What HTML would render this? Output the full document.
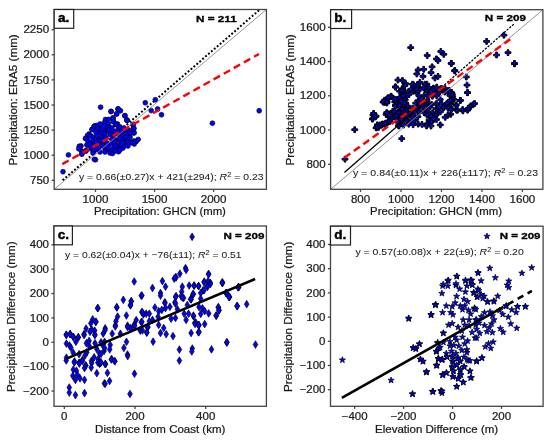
<!DOCTYPE html>
<html><head><meta charset="utf-8"><style>
html,body{margin:0;padding:0;background:#fff;}
body{width:550px;height:442px;overflow:hidden;position:relative;font-family:"Liberation Sans", sans-serif;}
</style></head><body>
<svg width="550" height="442" viewBox="0 0 550 442" style="position:absolute;left:0;top:0;filter:blur(0.35px)">
<g font-family='"Liberation Sans", sans-serif'>
<line x1="62.6" y1="180.3" x2="259.5" y2="9.9" stroke="#000" stroke-width="2.0" stroke-dasharray="1.9 1.95"/>
<circle cx="212.4" cy="123.2" r="2.45" fill="#0000ff" stroke="#000" stroke-width="0.6"/>
<circle cx="259.2" cy="110.8" r="2.45" fill="#0000ff" stroke="#000" stroke-width="0.6"/>
<circle cx="63" cy="171.7" r="2.45" fill="#0000ff" stroke="#000" stroke-width="0.6"/>
<circle cx="68.4" cy="154.9" r="2.45" fill="#0000ff" stroke="#000" stroke-width="0.6"/>
<circle cx="145.3" cy="102.8" r="2.45" fill="#0000ff" stroke="#000" stroke-width="0.6"/>
<circle cx="155.3" cy="99.8" r="2.45" fill="#0000ff" stroke="#000" stroke-width="0.6"/>
<circle cx="151.2" cy="110.6" r="2.45" fill="#0000ff" stroke="#000" stroke-width="0.6"/>
<circle cx="157.6" cy="109" r="2.45" fill="#0000ff" stroke="#000" stroke-width="0.6"/>
<circle cx="161.5" cy="114.8" r="2.45" fill="#0000ff" stroke="#000" stroke-width="0.6"/>
<circle cx="100.6" cy="107.2" r="2.45" fill="#0000ff" stroke="#000" stroke-width="0.6"/>
<circle cx="111" cy="111.5" r="2.45" fill="#0000ff" stroke="#000" stroke-width="0.6"/>
<circle cx="118" cy="109" r="2.45" fill="#0000ff" stroke="#000" stroke-width="0.6"/>
<circle cx="120.5" cy="110.8" r="2.45" fill="#0000ff" stroke="#000" stroke-width="0.6"/>
<circle cx="116.8" cy="113.8" r="2.45" fill="#0000ff" stroke="#000" stroke-width="0.6"/>
<circle cx="124.8" cy="115.8" r="2.45" fill="#0000ff" stroke="#000" stroke-width="0.6"/>
<circle cx="127" cy="120.2" r="2.45" fill="#0000ff" stroke="#000" stroke-width="0.6"/>
<circle cx="113" cy="118.2" r="2.45" fill="#0000ff" stroke="#000" stroke-width="0.6"/>
<circle cx="105.5" cy="119.5" r="2.45" fill="#0000ff" stroke="#000" stroke-width="0.6"/>
<circle cx="108.5" cy="119.5" r="2.45" fill="#0000ff" stroke="#000" stroke-width="0.6"/>
<circle cx="104.5" cy="122.5" r="2.45" fill="#0000ff" stroke="#000" stroke-width="0.6"/>
<circle cx="113.5" cy="121.5" r="2.45" fill="#0000ff" stroke="#000" stroke-width="0.6"/>
<circle cx="108.5" cy="124" r="2.45" fill="#0000ff" stroke="#000" stroke-width="0.6"/>
<circle cx="115.5" cy="124.5" r="2.45" fill="#0000ff" stroke="#000" stroke-width="0.6"/>
<circle cx="117.5" cy="124" r="2.45" fill="#0000ff" stroke="#000" stroke-width="0.6"/>
<circle cx="94.5" cy="126" r="2.45" fill="#0000ff" stroke="#000" stroke-width="0.6"/>
<circle cx="96.5" cy="125.5" r="2.45" fill="#0000ff" stroke="#000" stroke-width="0.6"/>
<circle cx="92" cy="129.5" r="2.45" fill="#0000ff" stroke="#000" stroke-width="0.6"/>
<circle cx="98" cy="128.5" r="2.45" fill="#0000ff" stroke="#000" stroke-width="0.6"/>
<circle cx="102.5" cy="128" r="2.45" fill="#0000ff" stroke="#000" stroke-width="0.6"/>
<circle cx="106.5" cy="127" r="2.45" fill="#0000ff" stroke="#000" stroke-width="0.6"/>
<circle cx="109.5" cy="127.5" r="2.45" fill="#0000ff" stroke="#000" stroke-width="0.6"/>
<circle cx="108" cy="130" r="2.45" fill="#0000ff" stroke="#000" stroke-width="0.6"/>
<circle cx="114" cy="131.5" r="2.45" fill="#0000ff" stroke="#000" stroke-width="0.6"/>
<circle cx="118" cy="129.5" r="2.45" fill="#0000ff" stroke="#000" stroke-width="0.6"/>
<circle cx="96.5" cy="132" r="2.45" fill="#0000ff" stroke="#000" stroke-width="0.6"/>
<circle cx="101" cy="131.5" r="2.45" fill="#0000ff" stroke="#000" stroke-width="0.6"/>
<circle cx="105" cy="132" r="2.45" fill="#0000ff" stroke="#000" stroke-width="0.6"/>
<circle cx="89" cy="134" r="2.45" fill="#0000ff" stroke="#000" stroke-width="0.6"/>
<circle cx="133" cy="125" r="2.45" fill="#0000ff" stroke="#000" stroke-width="0.6"/>
<circle cx="133" cy="129" r="2.45" fill="#0000ff" stroke="#000" stroke-width="0.6"/>
<circle cx="124" cy="133.5" r="2.45" fill="#0000ff" stroke="#000" stroke-width="0.6"/>
<circle cx="127" cy="133.5" r="2.45" fill="#0000ff" stroke="#000" stroke-width="0.6"/>
<circle cx="111.5" cy="134" r="2.45" fill="#0000ff" stroke="#000" stroke-width="0.6"/>
<circle cx="94" cy="126.5" r="2.45" fill="#0000ff" stroke="#000" stroke-width="0.6"/>
<circle cx="97.5" cy="129" r="2.45" fill="#0000ff" stroke="#000" stroke-width="0.6"/>
<circle cx="102.5" cy="128.5" r="2.45" fill="#0000ff" stroke="#000" stroke-width="0.6"/>
<circle cx="107.5" cy="127" r="2.45" fill="#0000ff" stroke="#000" stroke-width="0.6"/>
<circle cx="109" cy="130" r="2.45" fill="#0000ff" stroke="#000" stroke-width="0.6"/>
<circle cx="96" cy="132.5" r="2.45" fill="#0000ff" stroke="#000" stroke-width="0.6"/>
<circle cx="101" cy="133" r="2.45" fill="#0000ff" stroke="#000" stroke-width="0.6"/>
<circle cx="105" cy="134" r="2.45" fill="#0000ff" stroke="#000" stroke-width="0.6"/>
<circle cx="110" cy="134.5" r="2.45" fill="#0000ff" stroke="#000" stroke-width="0.6"/>
<circle cx="87.5" cy="135.5" r="2.45" fill="#0000ff" stroke="#000" stroke-width="0.6"/>
<circle cx="91" cy="136" r="2.45" fill="#0000ff" stroke="#000" stroke-width="0.6"/>
<circle cx="85.5" cy="138.5" r="2.45" fill="#0000ff" stroke="#000" stroke-width="0.6"/>
<circle cx="93" cy="137.5" r="2.45" fill="#0000ff" stroke="#000" stroke-width="0.6"/>
<circle cx="98" cy="139" r="2.45" fill="#0000ff" stroke="#000" stroke-width="0.6"/>
<circle cx="102" cy="137" r="2.45" fill="#0000ff" stroke="#000" stroke-width="0.6"/>
<circle cx="106" cy="138" r="2.45" fill="#0000ff" stroke="#000" stroke-width="0.6"/>
<circle cx="113" cy="137" r="2.45" fill="#0000ff" stroke="#000" stroke-width="0.6"/>
<circle cx="116" cy="140" r="2.45" fill="#0000ff" stroke="#000" stroke-width="0.6"/>
<circle cx="122" cy="135" r="2.45" fill="#0000ff" stroke="#000" stroke-width="0.6"/>
<circle cx="124" cy="133" r="2.45" fill="#0000ff" stroke="#000" stroke-width="0.6"/>
<circle cx="125" cy="138" r="2.45" fill="#0000ff" stroke="#000" stroke-width="0.6"/>
<circle cx="130" cy="137" r="2.45" fill="#0000ff" stroke="#000" stroke-width="0.6"/>
<circle cx="133.5" cy="133" r="2.45" fill="#0000ff" stroke="#000" stroke-width="0.6"/>
<circle cx="122.5" cy="140" r="2.45" fill="#0000ff" stroke="#000" stroke-width="0.6"/>
<circle cx="127" cy="141.5" r="2.45" fill="#0000ff" stroke="#000" stroke-width="0.6"/>
<circle cx="131.5" cy="142.5" r="2.45" fill="#0000ff" stroke="#000" stroke-width="0.6"/>
<circle cx="134" cy="141" r="2.45" fill="#0000ff" stroke="#000" stroke-width="0.6"/>
<circle cx="81" cy="146" r="2.45" fill="#0000ff" stroke="#000" stroke-width="0.6"/>
<circle cx="87" cy="145" r="2.45" fill="#0000ff" stroke="#000" stroke-width="0.6"/>
<circle cx="92" cy="143" r="2.45" fill="#0000ff" stroke="#000" stroke-width="0.6"/>
<circle cx="95" cy="145" r="2.45" fill="#0000ff" stroke="#000" stroke-width="0.6"/>
<circle cx="100" cy="144" r="2.45" fill="#0000ff" stroke="#000" stroke-width="0.6"/>
<circle cx="104" cy="142" r="2.45" fill="#0000ff" stroke="#000" stroke-width="0.6"/>
<circle cx="111" cy="144" r="2.45" fill="#0000ff" stroke="#000" stroke-width="0.6"/>
<circle cx="117" cy="145" r="2.45" fill="#0000ff" stroke="#000" stroke-width="0.6"/>
<circle cx="121" cy="146.5" r="2.45" fill="#0000ff" stroke="#000" stroke-width="0.6"/>
<circle cx="123" cy="148" r="2.45" fill="#0000ff" stroke="#000" stroke-width="0.6"/>
<circle cx="118" cy="148.5" r="2.45" fill="#0000ff" stroke="#000" stroke-width="0.6"/>
<circle cx="82" cy="151.5" r="2.45" fill="#0000ff" stroke="#000" stroke-width="0.6"/>
<circle cx="86" cy="150.5" r="2.45" fill="#0000ff" stroke="#000" stroke-width="0.6"/>
<circle cx="91" cy="149" r="2.45" fill="#0000ff" stroke="#000" stroke-width="0.6"/>
<circle cx="96" cy="149.5" r="2.45" fill="#0000ff" stroke="#000" stroke-width="0.6"/>
<circle cx="100" cy="152" r="2.45" fill="#0000ff" stroke="#000" stroke-width="0.6"/>
<circle cx="105" cy="149" r="2.45" fill="#0000ff" stroke="#000" stroke-width="0.6"/>
<circle cx="109" cy="150" r="2.45" fill="#0000ff" stroke="#000" stroke-width="0.6"/>
<circle cx="113" cy="149" r="2.45" fill="#0000ff" stroke="#000" stroke-width="0.6"/>
<circle cx="110" cy="153" r="2.45" fill="#0000ff" stroke="#000" stroke-width="0.6"/>
<circle cx="112.5" cy="153.5" r="2.45" fill="#0000ff" stroke="#000" stroke-width="0.6"/>
<circle cx="118.5" cy="151.8" r="2.45" fill="#0000ff" stroke="#000" stroke-width="0.6"/>
<circle cx="93" cy="153" r="2.45" fill="#0000ff" stroke="#000" stroke-width="0.6"/>
<circle cx="82" cy="154" r="2.45" fill="#0000ff" stroke="#000" stroke-width="0.6"/>
<circle cx="95.5" cy="159.8" r="2.45" fill="#0000ff" stroke="#000" stroke-width="0.6"/>
<circle cx="80" cy="149" r="2.45" fill="#0000ff" stroke="#000" stroke-width="0.6"/>
<circle cx="79.3" cy="146.3" r="2.45" fill="#0000ff" stroke="#000" stroke-width="0.6"/>
<circle cx="78.7" cy="148.7" r="2.45" fill="#0000ff" stroke="#000" stroke-width="0.6"/>
<circle cx="81.7" cy="154" r="2.45" fill="#0000ff" stroke="#000" stroke-width="0.6"/>
<circle cx="85.8" cy="138.6" r="2.45" fill="#0000ff" stroke="#000" stroke-width="0.6"/>
<circle cx="89.8" cy="135.9" r="2.45" fill="#0000ff" stroke="#000" stroke-width="0.6"/>
<circle cx="92.1" cy="129.5" r="2.45" fill="#0000ff" stroke="#000" stroke-width="0.6"/>
<circle cx="87.1" cy="144.9" r="2.45" fill="#0000ff" stroke="#000" stroke-width="0.6"/>
<circle cx="91.2" cy="147.2" r="2.45" fill="#0000ff" stroke="#000" stroke-width="0.6"/>
<circle cx="93" cy="140.8" r="2.45" fill="#0000ff" stroke="#000" stroke-width="0.6"/>
<circle cx="85.8" cy="151.2" r="2.45" fill="#0000ff" stroke="#000" stroke-width="0.6"/>
<circle cx="94.4" cy="159.4" r="2.45" fill="#0000ff" stroke="#000" stroke-width="0.6"/>
<circle cx="127" cy="120.1" r="2.45" fill="#0000ff" stroke="#000" stroke-width="0.6"/>
<circle cx="133.7" cy="128.7" r="2.45" fill="#0000ff" stroke="#000" stroke-width="0.6"/>
<circle cx="134.2" cy="132.8" r="2.45" fill="#0000ff" stroke="#000" stroke-width="0.6"/>
<circle cx="126.5" cy="133.8" r="2.45" fill="#0000ff" stroke="#000" stroke-width="0.6"/>
<circle cx="129.6" cy="137.4" r="2.45" fill="#0000ff" stroke="#000" stroke-width="0.6"/>
<circle cx="126" cy="137" r="2.45" fill="#0000ff" stroke="#000" stroke-width="0.6"/>
<circle cx="138.2" cy="139.4" r="2.45" fill="#0000ff" stroke="#000" stroke-width="0.6"/>
<circle cx="136.2" cy="141.5" r="2.45" fill="#0000ff" stroke="#000" stroke-width="0.6"/>
<circle cx="131.1" cy="142.5" r="2.45" fill="#0000ff" stroke="#000" stroke-width="0.6"/>
<circle cx="134.2" cy="144" r="2.45" fill="#0000ff" stroke="#000" stroke-width="0.6"/>
<circle cx="127.5" cy="142.5" r="2.45" fill="#0000ff" stroke="#000" stroke-width="0.6"/>
<circle cx="125" cy="145.5" r="2.45" fill="#0000ff" stroke="#000" stroke-width="0.6"/>
<circle cx="111.1" cy="111.4" r="2.45" fill="#0000ff" stroke="#000" stroke-width="0.6"/>
<circle cx="118.2" cy="108.9" r="2.45" fill="#0000ff" stroke="#000" stroke-width="0.6"/>
<circle cx="116.5" cy="114.1" r="2.45" fill="#0000ff" stroke="#000" stroke-width="0.6"/>
<circle cx="113" cy="117.9" r="2.45" fill="#0000ff" stroke="#000" stroke-width="0.6"/>
<circle cx="125" cy="115.7" r="2.45" fill="#0000ff" stroke="#000" stroke-width="0.6"/>
<circle cx="127" cy="120.2" r="2.45" fill="#0000ff" stroke="#000" stroke-width="0.6"/>
<circle cx="113.4" cy="121.6" r="2.45" fill="#0000ff" stroke="#000" stroke-width="0.6"/>
<circle cx="116.1" cy="124.3" r="2.45" fill="#0000ff" stroke="#000" stroke-width="0.6"/>
<circle cx="133.2" cy="124.3" r="2.45" fill="#0000ff" stroke="#000" stroke-width="0.6"/>
<circle cx="133.9" cy="128.4" r="2.45" fill="#0000ff" stroke="#000" stroke-width="0.6"/>
<circle cx="99" cy="141" r="2.45" fill="#0000ff" stroke="#000" stroke-width="0.6"/>
<circle cx="103" cy="146" r="2.45" fill="#0000ff" stroke="#000" stroke-width="0.6"/>
<circle cx="107" cy="143" r="2.45" fill="#0000ff" stroke="#000" stroke-width="0.6"/>
<circle cx="114" cy="141" r="2.45" fill="#0000ff" stroke="#000" stroke-width="0.6"/>
<circle cx="120" cy="141" r="2.45" fill="#0000ff" stroke="#000" stroke-width="0.6"/>
<circle cx="97" cy="136" r="2.45" fill="#0000ff" stroke="#000" stroke-width="0.6"/>
<circle cx="103" cy="140" r="2.45" fill="#0000ff" stroke="#000" stroke-width="0.6"/>
<circle cx="108" cy="147" r="2.45" fill="#0000ff" stroke="#000" stroke-width="0.6"/>
<circle cx="115" cy="146" r="2.45" fill="#0000ff" stroke="#000" stroke-width="0.6"/>
<circle cx="120" cy="138" r="2.45" fill="#0000ff" stroke="#000" stroke-width="0.6"/>
<circle cx="112" cy="139" r="2.45" fill="#0000ff" stroke="#000" stroke-width="0.6"/>
<circle cx="88" cy="141" r="2.45" fill="#0000ff" stroke="#000" stroke-width="0.6"/>
<circle cx="90" cy="144" r="2.45" fill="#0000ff" stroke="#000" stroke-width="0.6"/>
<circle cx="96" cy="142" r="2.45" fill="#0000ff" stroke="#000" stroke-width="0.6"/>
<circle cx="99" cy="147" r="2.45" fill="#0000ff" stroke="#000" stroke-width="0.6"/>
<circle cx="105" cy="152" r="2.45" fill="#0000ff" stroke="#000" stroke-width="0.6"/>
<circle cx="115" cy="151" r="2.45" fill="#0000ff" stroke="#000" stroke-width="0.6"/>
<circle cx="120" cy="150" r="2.45" fill="#0000ff" stroke="#000" stroke-width="0.6"/>
<circle cx="122" cy="143" r="2.45" fill="#0000ff" stroke="#000" stroke-width="0.6"/>
<circle cx="128" cy="146" r="2.45" fill="#0000ff" stroke="#000" stroke-width="0.6"/>
<circle cx="117" cy="134" r="2.45" fill="#0000ff" stroke="#000" stroke-width="0.6"/>
<circle cx="121" cy="131" r="2.45" fill="#0000ff" stroke="#000" stroke-width="0.6"/>
<circle cx="112" cy="128" r="2.45" fill="#0000ff" stroke="#000" stroke-width="0.6"/>
<circle cx="100" cy="124" r="2.45" fill="#0000ff" stroke="#000" stroke-width="0.6"/>
<circle cx="104" cy="126" r="2.45" fill="#0000ff" stroke="#000" stroke-width="0.6"/>
<circle cx="120" cy="127" r="2.45" fill="#0000ff" stroke="#000" stroke-width="0.6"/>
<circle cx="124" cy="128" r="2.45" fill="#0000ff" stroke="#000" stroke-width="0.6"/>
<circle cx="128" cy="130" r="2.45" fill="#0000ff" stroke="#000" stroke-width="0.6"/>
<circle cx="130" cy="133" r="2.45" fill="#0000ff" stroke="#000" stroke-width="0.6"/>
<line x1="54.2" y1="189.3" x2="266.4" y2="9.5" stroke="#8a8a8a" stroke-width="0.9"/>
<line x1="62.3" y1="164.1" x2="259.0" y2="54.0" stroke="#ff0000" stroke-width="2.4" stroke-dasharray="7.3 4.26"/>
<path transform="translate(413.5,84.7)" d="M-0.85,-2.9 h1.7 v2.05 h2.05 v1.7 h-2.05 v2.05 h-1.7 v-2.05 h-2.05 v-1.7 h2.05 z" fill="#0000ff" stroke="#000" stroke-width="1.0"/>
<path transform="translate(417.6,84.5)" d="M-0.85,-2.9 h1.7 v2.05 h2.05 v1.7 h-2.05 v2.05 h-1.7 v-2.05 h-2.05 v-1.7 h2.05 z" fill="#0000ff" stroke="#000" stroke-width="1.0"/>
<path transform="translate(426.9,84.2)" d="M-0.85,-2.9 h1.7 v2.05 h2.05 v1.7 h-2.05 v2.05 h-1.7 v-2.05 h-2.05 v-1.7 h2.05 z" fill="#0000ff" stroke="#000" stroke-width="1.0"/>
<path transform="translate(402.1,88.8)" d="M-0.85,-2.9 h1.7 v2.05 h2.05 v1.7 h-2.05 v2.05 h-1.7 v-2.05 h-2.05 v-1.7 h2.05 z" fill="#0000ff" stroke="#000" stroke-width="1.0"/>
<path transform="translate(411.4,89.0)" d="M-0.85,-2.9 h1.7 v2.05 h2.05 v1.7 h-2.05 v2.05 h-1.7 v-2.05 h-2.05 v-1.7 h2.05 z" fill="#0000ff" stroke="#000" stroke-width="1.0"/>
<path transform="translate(415.4,87.3)" d="M-0.85,-2.9 h1.7 v2.05 h2.05 v1.7 h-2.05 v2.05 h-1.7 v-2.05 h-2.05 v-1.7 h2.05 z" fill="#0000ff" stroke="#000" stroke-width="1.0"/>
<path transform="translate(420.2,88.9)" d="M-0.85,-2.9 h1.7 v2.05 h2.05 v1.7 h-2.05 v2.05 h-1.7 v-2.05 h-2.05 v-1.7 h2.05 z" fill="#0000ff" stroke="#000" stroke-width="1.0"/>
<path transform="translate(424.7,88.1)" d="M-0.85,-2.9 h1.7 v2.05 h2.05 v1.7 h-2.05 v2.05 h-1.7 v-2.05 h-2.05 v-1.7 h2.05 z" fill="#0000ff" stroke="#000" stroke-width="1.0"/>
<path transform="translate(428.7,87.4)" d="M-0.85,-2.9 h1.7 v2.05 h2.05 v1.7 h-2.05 v2.05 h-1.7 v-2.05 h-2.05 v-1.7 h2.05 z" fill="#0000ff" stroke="#000" stroke-width="1.0"/>
<path transform="translate(433.4,88.1)" d="M-0.85,-2.9 h1.7 v2.05 h2.05 v1.7 h-2.05 v2.05 h-1.7 v-2.05 h-2.05 v-1.7 h2.05 z" fill="#0000ff" stroke="#000" stroke-width="1.0"/>
<path transform="translate(436.7,87.1)" d="M-0.85,-2.9 h1.7 v2.05 h2.05 v1.7 h-2.05 v2.05 h-1.7 v-2.05 h-2.05 v-1.7 h2.05 z" fill="#0000ff" stroke="#000" stroke-width="1.0"/>
<path transform="translate(442.2,89.0)" d="M-0.85,-2.9 h1.7 v2.05 h2.05 v1.7 h-2.05 v2.05 h-1.7 v-2.05 h-2.05 v-1.7 h2.05 z" fill="#0000ff" stroke="#000" stroke-width="1.0"/>
<path transform="translate(445.1,88.6)" d="M-0.85,-2.9 h1.7 v2.05 h2.05 v1.7 h-2.05 v2.05 h-1.7 v-2.05 h-2.05 v-1.7 h2.05 z" fill="#0000ff" stroke="#000" stroke-width="1.0"/>
<path transform="translate(399.6,91.2)" d="M-0.85,-2.9 h1.7 v2.05 h2.05 v1.7 h-2.05 v2.05 h-1.7 v-2.05 h-2.05 v-1.7 h2.05 z" fill="#0000ff" stroke="#000" stroke-width="1.0"/>
<path transform="translate(404.6,91.1)" d="M-0.85,-2.9 h1.7 v2.05 h2.05 v1.7 h-2.05 v2.05 h-1.7 v-2.05 h-2.05 v-1.7 h2.05 z" fill="#0000ff" stroke="#000" stroke-width="1.0"/>
<path transform="translate(408.2,91.8)" d="M-0.85,-2.9 h1.7 v2.05 h2.05 v1.7 h-2.05 v2.05 h-1.7 v-2.05 h-2.05 v-1.7 h2.05 z" fill="#0000ff" stroke="#000" stroke-width="1.0"/>
<path transform="translate(413.4,91.3)" d="M-0.85,-2.9 h1.7 v2.05 h2.05 v1.7 h-2.05 v2.05 h-1.7 v-2.05 h-2.05 v-1.7 h2.05 z" fill="#0000ff" stroke="#000" stroke-width="1.0"/>
<path transform="translate(416.7,92.7)" d="M-0.85,-2.9 h1.7 v2.05 h2.05 v1.7 h-2.05 v2.05 h-1.7 v-2.05 h-2.05 v-1.7 h2.05 z" fill="#0000ff" stroke="#000" stroke-width="1.0"/>
<path transform="translate(427.2,91.8)" d="M-0.85,-2.9 h1.7 v2.05 h2.05 v1.7 h-2.05 v2.05 h-1.7 v-2.05 h-2.05 v-1.7 h2.05 z" fill="#0000ff" stroke="#000" stroke-width="1.0"/>
<path transform="translate(430.7,92.0)" d="M-0.85,-2.9 h1.7 v2.05 h2.05 v1.7 h-2.05 v2.05 h-1.7 v-2.05 h-2.05 v-1.7 h2.05 z" fill="#0000ff" stroke="#000" stroke-width="1.0"/>
<path transform="translate(435.5,92.2)" d="M-0.85,-2.9 h1.7 v2.05 h2.05 v1.7 h-2.05 v2.05 h-1.7 v-2.05 h-2.05 v-1.7 h2.05 z" fill="#0000ff" stroke="#000" stroke-width="1.0"/>
<path transform="translate(439.7,92.2)" d="M-0.85,-2.9 h1.7 v2.05 h2.05 v1.7 h-2.05 v2.05 h-1.7 v-2.05 h-2.05 v-1.7 h2.05 z" fill="#0000ff" stroke="#000" stroke-width="1.0"/>
<path transform="translate(444.9,92.0)" d="M-0.85,-2.9 h1.7 v2.05 h2.05 v1.7 h-2.05 v2.05 h-1.7 v-2.05 h-2.05 v-1.7 h2.05 z" fill="#0000ff" stroke="#000" stroke-width="1.0"/>
<path transform="translate(448.3,92.4)" d="M-0.85,-2.9 h1.7 v2.05 h2.05 v1.7 h-2.05 v2.05 h-1.7 v-2.05 h-2.05 v-1.7 h2.05 z" fill="#0000ff" stroke="#000" stroke-width="1.0"/>
<path transform="translate(402.3,95.7)" d="M-0.85,-2.9 h1.7 v2.05 h2.05 v1.7 h-2.05 v2.05 h-1.7 v-2.05 h-2.05 v-1.7 h2.05 z" fill="#0000ff" stroke="#000" stroke-width="1.0"/>
<path transform="translate(406.7,96.5)" d="M-0.85,-2.9 h1.7 v2.05 h2.05 v1.7 h-2.05 v2.05 h-1.7 v-2.05 h-2.05 v-1.7 h2.05 z" fill="#0000ff" stroke="#000" stroke-width="1.0"/>
<path transform="translate(419.0,95.9)" d="M-0.85,-2.9 h1.7 v2.05 h2.05 v1.7 h-2.05 v2.05 h-1.7 v-2.05 h-2.05 v-1.7 h2.05 z" fill="#0000ff" stroke="#000" stroke-width="1.0"/>
<path transform="translate(424.1,95.6)" d="M-0.85,-2.9 h1.7 v2.05 h2.05 v1.7 h-2.05 v2.05 h-1.7 v-2.05 h-2.05 v-1.7 h2.05 z" fill="#0000ff" stroke="#000" stroke-width="1.0"/>
<path transform="translate(428.0,95.6)" d="M-0.85,-2.9 h1.7 v2.05 h2.05 v1.7 h-2.05 v2.05 h-1.7 v-2.05 h-2.05 v-1.7 h2.05 z" fill="#0000ff" stroke="#000" stroke-width="1.0"/>
<path transform="translate(432.4,96.2)" d="M-0.85,-2.9 h1.7 v2.05 h2.05 v1.7 h-2.05 v2.05 h-1.7 v-2.05 h-2.05 v-1.7 h2.05 z" fill="#0000ff" stroke="#000" stroke-width="1.0"/>
<path transform="translate(436.7,95.8)" d="M-0.85,-2.9 h1.7 v2.05 h2.05 v1.7 h-2.05 v2.05 h-1.7 v-2.05 h-2.05 v-1.7 h2.05 z" fill="#0000ff" stroke="#000" stroke-width="1.0"/>
<path transform="translate(449.9,95.4)" d="M-0.85,-2.9 h1.7 v2.05 h2.05 v1.7 h-2.05 v2.05 h-1.7 v-2.05 h-2.05 v-1.7 h2.05 z" fill="#0000ff" stroke="#000" stroke-width="1.0"/>
<path transform="translate(399.7,100.3)" d="M-0.85,-2.9 h1.7 v2.05 h2.05 v1.7 h-2.05 v2.05 h-1.7 v-2.05 h-2.05 v-1.7 h2.05 z" fill="#0000ff" stroke="#000" stroke-width="1.0"/>
<path transform="translate(405.2,99.9)" d="M-0.85,-2.9 h1.7 v2.05 h2.05 v1.7 h-2.05 v2.05 h-1.7 v-2.05 h-2.05 v-1.7 h2.05 z" fill="#0000ff" stroke="#000" stroke-width="1.0"/>
<path transform="translate(418.2,100.7)" d="M-0.85,-2.9 h1.7 v2.05 h2.05 v1.7 h-2.05 v2.05 h-1.7 v-2.05 h-2.05 v-1.7 h2.05 z" fill="#0000ff" stroke="#000" stroke-width="1.0"/>
<path transform="translate(421.4,99.6)" d="M-0.85,-2.9 h1.7 v2.05 h2.05 v1.7 h-2.05 v2.05 h-1.7 v-2.05 h-2.05 v-1.7 h2.05 z" fill="#0000ff" stroke="#000" stroke-width="1.0"/>
<path transform="translate(427.0,100.3)" d="M-0.85,-2.9 h1.7 v2.05 h2.05 v1.7 h-2.05 v2.05 h-1.7 v-2.05 h-2.05 v-1.7 h2.05 z" fill="#0000ff" stroke="#000" stroke-width="1.0"/>
<path transform="translate(440.2,99.5)" d="M-0.85,-2.9 h1.7 v2.05 h2.05 v1.7 h-2.05 v2.05 h-1.7 v-2.05 h-2.05 v-1.7 h2.05 z" fill="#0000ff" stroke="#000" stroke-width="1.0"/>
<path transform="translate(453.6,99.3)" d="M-0.85,-2.9 h1.7 v2.05 h2.05 v1.7 h-2.05 v2.05 h-1.7 v-2.05 h-2.05 v-1.7 h2.05 z" fill="#0000ff" stroke="#000" stroke-width="1.0"/>
<path transform="translate(397.8,104.0)" d="M-0.85,-2.9 h1.7 v2.05 h2.05 v1.7 h-2.05 v2.05 h-1.7 v-2.05 h-2.05 v-1.7 h2.05 z" fill="#0000ff" stroke="#000" stroke-width="1.0"/>
<path transform="translate(401.5,103.7)" d="M-0.85,-2.9 h1.7 v2.05 h2.05 v1.7 h-2.05 v2.05 h-1.7 v-2.05 h-2.05 v-1.7 h2.05 z" fill="#0000ff" stroke="#000" stroke-width="1.0"/>
<path transform="translate(405.8,103.1)" d="M-0.85,-2.9 h1.7 v2.05 h2.05 v1.7 h-2.05 v2.05 h-1.7 v-2.05 h-2.05 v-1.7 h2.05 z" fill="#0000ff" stroke="#000" stroke-width="1.0"/>
<path transform="translate(415.7,103.1)" d="M-0.85,-2.9 h1.7 v2.05 h2.05 v1.7 h-2.05 v2.05 h-1.7 v-2.05 h-2.05 v-1.7 h2.05 z" fill="#0000ff" stroke="#000" stroke-width="1.0"/>
<path transform="translate(420.3,104.4)" d="M-0.85,-2.9 h1.7 v2.05 h2.05 v1.7 h-2.05 v2.05 h-1.7 v-2.05 h-2.05 v-1.7 h2.05 z" fill="#0000ff" stroke="#000" stroke-width="1.0"/>
<path transform="translate(424.7,104.8)" d="M-0.85,-2.9 h1.7 v2.05 h2.05 v1.7 h-2.05 v2.05 h-1.7 v-2.05 h-2.05 v-1.7 h2.05 z" fill="#0000ff" stroke="#000" stroke-width="1.0"/>
<path transform="translate(429.1,104.2)" d="M-0.85,-2.9 h1.7 v2.05 h2.05 v1.7 h-2.05 v2.05 h-1.7 v-2.05 h-2.05 v-1.7 h2.05 z" fill="#0000ff" stroke="#000" stroke-width="1.0"/>
<path transform="translate(431.7,104.5)" d="M-0.85,-2.9 h1.7 v2.05 h2.05 v1.7 h-2.05 v2.05 h-1.7 v-2.05 h-2.05 v-1.7 h2.05 z" fill="#0000ff" stroke="#000" stroke-width="1.0"/>
<path transform="translate(436.4,103.6)" d="M-0.85,-2.9 h1.7 v2.05 h2.05 v1.7 h-2.05 v2.05 h-1.7 v-2.05 h-2.05 v-1.7 h2.05 z" fill="#0000ff" stroke="#000" stroke-width="1.0"/>
<path transform="translate(441.8,104.0)" d="M-0.85,-2.9 h1.7 v2.05 h2.05 v1.7 h-2.05 v2.05 h-1.7 v-2.05 h-2.05 v-1.7 h2.05 z" fill="#0000ff" stroke="#000" stroke-width="1.0"/>
<path transform="translate(445.7,104.9)" d="M-0.85,-2.9 h1.7 v2.05 h2.05 v1.7 h-2.05 v2.05 h-1.7 v-2.05 h-2.05 v-1.7 h2.05 z" fill="#0000ff" stroke="#000" stroke-width="1.0"/>
<path transform="translate(450.5,103.7)" d="M-0.85,-2.9 h1.7 v2.05 h2.05 v1.7 h-2.05 v2.05 h-1.7 v-2.05 h-2.05 v-1.7 h2.05 z" fill="#0000ff" stroke="#000" stroke-width="1.0"/>
<path transform="translate(400.6,107.0)" d="M-0.85,-2.9 h1.7 v2.05 h2.05 v1.7 h-2.05 v2.05 h-1.7 v-2.05 h-2.05 v-1.7 h2.05 z" fill="#0000ff" stroke="#000" stroke-width="1.0"/>
<path transform="translate(404.7,108.7)" d="M-0.85,-2.9 h1.7 v2.05 h2.05 v1.7 h-2.05 v2.05 h-1.7 v-2.05 h-2.05 v-1.7 h2.05 z" fill="#0000ff" stroke="#000" stroke-width="1.0"/>
<path transform="translate(407.9,107.5)" d="M-0.85,-2.9 h1.7 v2.05 h2.05 v1.7 h-2.05 v2.05 h-1.7 v-2.05 h-2.05 v-1.7 h2.05 z" fill="#0000ff" stroke="#000" stroke-width="1.0"/>
<path transform="translate(412.7,108.1)" d="M-0.85,-2.9 h1.7 v2.05 h2.05 v1.7 h-2.05 v2.05 h-1.7 v-2.05 h-2.05 v-1.7 h2.05 z" fill="#0000ff" stroke="#000" stroke-width="1.0"/>
<path transform="translate(417.4,107.9)" d="M-0.85,-2.9 h1.7 v2.05 h2.05 v1.7 h-2.05 v2.05 h-1.7 v-2.05 h-2.05 v-1.7 h2.05 z" fill="#0000ff" stroke="#000" stroke-width="1.0"/>
<path transform="translate(422.6,107.0)" d="M-0.85,-2.9 h1.7 v2.05 h2.05 v1.7 h-2.05 v2.05 h-1.7 v-2.05 h-2.05 v-1.7 h2.05 z" fill="#0000ff" stroke="#000" stroke-width="1.0"/>
<path transform="translate(425.5,107.3)" d="M-0.85,-2.9 h1.7 v2.05 h2.05 v1.7 h-2.05 v2.05 h-1.7 v-2.05 h-2.05 v-1.7 h2.05 z" fill="#0000ff" stroke="#000" stroke-width="1.0"/>
<path transform="translate(430.0,107.1)" d="M-0.85,-2.9 h1.7 v2.05 h2.05 v1.7 h-2.05 v2.05 h-1.7 v-2.05 h-2.05 v-1.7 h2.05 z" fill="#0000ff" stroke="#000" stroke-width="1.0"/>
<path transform="translate(436.1,108.7)" d="M-0.85,-2.9 h1.7 v2.05 h2.05 v1.7 h-2.05 v2.05 h-1.7 v-2.05 h-2.05 v-1.7 h2.05 z" fill="#0000ff" stroke="#000" stroke-width="1.0"/>
<path transform="translate(438.8,108.0)" d="M-0.85,-2.9 h1.7 v2.05 h2.05 v1.7 h-2.05 v2.05 h-1.7 v-2.05 h-2.05 v-1.7 h2.05 z" fill="#0000ff" stroke="#000" stroke-width="1.0"/>
<path transform="translate(443.6,107.6)" d="M-0.85,-2.9 h1.7 v2.05 h2.05 v1.7 h-2.05 v2.05 h-1.7 v-2.05 h-2.05 v-1.7 h2.05 z" fill="#0000ff" stroke="#000" stroke-width="1.0"/>
<path transform="translate(448.1,108.3)" d="M-0.85,-2.9 h1.7 v2.05 h2.05 v1.7 h-2.05 v2.05 h-1.7 v-2.05 h-2.05 v-1.7 h2.05 z" fill="#0000ff" stroke="#000" stroke-width="1.0"/>
<path transform="translate(398.1,111.8)" d="M-0.85,-2.9 h1.7 v2.05 h2.05 v1.7 h-2.05 v2.05 h-1.7 v-2.05 h-2.05 v-1.7 h2.05 z" fill="#0000ff" stroke="#000" stroke-width="1.0"/>
<path transform="translate(402.5,112.2)" d="M-0.85,-2.9 h1.7 v2.05 h2.05 v1.7 h-2.05 v2.05 h-1.7 v-2.05 h-2.05 v-1.7 h2.05 z" fill="#0000ff" stroke="#000" stroke-width="1.0"/>
<path transform="translate(406.2,111.7)" d="M-0.85,-2.9 h1.7 v2.05 h2.05 v1.7 h-2.05 v2.05 h-1.7 v-2.05 h-2.05 v-1.7 h2.05 z" fill="#0000ff" stroke="#000" stroke-width="1.0"/>
<path transform="translate(410.7,112.4)" d="M-0.85,-2.9 h1.7 v2.05 h2.05 v1.7 h-2.05 v2.05 h-1.7 v-2.05 h-2.05 v-1.7 h2.05 z" fill="#0000ff" stroke="#000" stroke-width="1.0"/>
<path transform="translate(414.9,112.4)" d="M-0.85,-2.9 h1.7 v2.05 h2.05 v1.7 h-2.05 v2.05 h-1.7 v-2.05 h-2.05 v-1.7 h2.05 z" fill="#0000ff" stroke="#000" stroke-width="1.0"/>
<path transform="translate(419.4,111.5)" d="M-0.85,-2.9 h1.7 v2.05 h2.05 v1.7 h-2.05 v2.05 h-1.7 v-2.05 h-2.05 v-1.7 h2.05 z" fill="#0000ff" stroke="#000" stroke-width="1.0"/>
<path transform="translate(424.0,112.4)" d="M-0.85,-2.9 h1.7 v2.05 h2.05 v1.7 h-2.05 v2.05 h-1.7 v-2.05 h-2.05 v-1.7 h2.05 z" fill="#0000ff" stroke="#000" stroke-width="1.0"/>
<path transform="translate(427.4,111.8)" d="M-0.85,-2.9 h1.7 v2.05 h2.05 v1.7 h-2.05 v2.05 h-1.7 v-2.05 h-2.05 v-1.7 h2.05 z" fill="#0000ff" stroke="#000" stroke-width="1.0"/>
<path transform="translate(432.6,112.8)" d="M-0.85,-2.9 h1.7 v2.05 h2.05 v1.7 h-2.05 v2.05 h-1.7 v-2.05 h-2.05 v-1.7 h2.05 z" fill="#0000ff" stroke="#000" stroke-width="1.0"/>
<path transform="translate(438.0,111.7)" d="M-0.85,-2.9 h1.7 v2.05 h2.05 v1.7 h-2.05 v2.05 h-1.7 v-2.05 h-2.05 v-1.7 h2.05 z" fill="#0000ff" stroke="#000" stroke-width="1.0"/>
<path transform="translate(399.2,115.2)" d="M-0.85,-2.9 h1.7 v2.05 h2.05 v1.7 h-2.05 v2.05 h-1.7 v-2.05 h-2.05 v-1.7 h2.05 z" fill="#0000ff" stroke="#000" stroke-width="1.0"/>
<path transform="translate(405.2,115.4)" d="M-0.85,-2.9 h1.7 v2.05 h2.05 v1.7 h-2.05 v2.05 h-1.7 v-2.05 h-2.05 v-1.7 h2.05 z" fill="#0000ff" stroke="#000" stroke-width="1.0"/>
<path transform="translate(407.8,116.7)" d="M-0.85,-2.9 h1.7 v2.05 h2.05 v1.7 h-2.05 v2.05 h-1.7 v-2.05 h-2.05 v-1.7 h2.05 z" fill="#0000ff" stroke="#000" stroke-width="1.0"/>
<path transform="translate(412.4,116.7)" d="M-0.85,-2.9 h1.7 v2.05 h2.05 v1.7 h-2.05 v2.05 h-1.7 v-2.05 h-2.05 v-1.7 h2.05 z" fill="#0000ff" stroke="#000" stroke-width="1.0"/>
<path transform="translate(417.9,116.7)" d="M-0.85,-2.9 h1.7 v2.05 h2.05 v1.7 h-2.05 v2.05 h-1.7 v-2.05 h-2.05 v-1.7 h2.05 z" fill="#0000ff" stroke="#000" stroke-width="1.0"/>
<path transform="translate(427.0,115.1)" d="M-0.85,-2.9 h1.7 v2.05 h2.05 v1.7 h-2.05 v2.05 h-1.7 v-2.05 h-2.05 v-1.7 h2.05 z" fill="#0000ff" stroke="#000" stroke-width="1.0"/>
<path transform="translate(431.3,116.0)" d="M-0.85,-2.9 h1.7 v2.05 h2.05 v1.7 h-2.05 v2.05 h-1.7 v-2.05 h-2.05 v-1.7 h2.05 z" fill="#0000ff" stroke="#000" stroke-width="1.0"/>
<path transform="translate(435.6,115.2)" d="M-0.85,-2.9 h1.7 v2.05 h2.05 v1.7 h-2.05 v2.05 h-1.7 v-2.05 h-2.05 v-1.7 h2.05 z" fill="#0000ff" stroke="#000" stroke-width="1.0"/>
<path transform="translate(398.4,119.8)" d="M-0.85,-2.9 h1.7 v2.05 h2.05 v1.7 h-2.05 v2.05 h-1.7 v-2.05 h-2.05 v-1.7 h2.05 z" fill="#0000ff" stroke="#000" stroke-width="1.0"/>
<path transform="translate(402.4,119.3)" d="M-0.85,-2.9 h1.7 v2.05 h2.05 v1.7 h-2.05 v2.05 h-1.7 v-2.05 h-2.05 v-1.7 h2.05 z" fill="#0000ff" stroke="#000" stroke-width="1.0"/>
<path transform="translate(406.7,120.5)" d="M-0.85,-2.9 h1.7 v2.05 h2.05 v1.7 h-2.05 v2.05 h-1.7 v-2.05 h-2.05 v-1.7 h2.05 z" fill="#0000ff" stroke="#000" stroke-width="1.0"/>
<path transform="translate(411.0,120.0)" d="M-0.85,-2.9 h1.7 v2.05 h2.05 v1.7 h-2.05 v2.05 h-1.7 v-2.05 h-2.05 v-1.7 h2.05 z" fill="#0000ff" stroke="#000" stroke-width="1.0"/>
<path transform="translate(415.1,120.3)" d="M-0.85,-2.9 h1.7 v2.05 h2.05 v1.7 h-2.05 v2.05 h-1.7 v-2.05 h-2.05 v-1.7 h2.05 z" fill="#0000ff" stroke="#000" stroke-width="1.0"/>
<path transform="translate(429.1,120.0)" d="M-0.85,-2.9 h1.7 v2.05 h2.05 v1.7 h-2.05 v2.05 h-1.7 v-2.05 h-2.05 v-1.7 h2.05 z" fill="#0000ff" stroke="#000" stroke-width="1.0"/>
<path transform="translate(432.6,120.4)" d="M-0.85,-2.9 h1.7 v2.05 h2.05 v1.7 h-2.05 v2.05 h-1.7 v-2.05 h-2.05 v-1.7 h2.05 z" fill="#0000ff" stroke="#000" stroke-width="1.0"/>
<path transform="translate(436.5,119.5)" d="M-0.85,-2.9 h1.7 v2.05 h2.05 v1.7 h-2.05 v2.05 h-1.7 v-2.05 h-2.05 v-1.7 h2.05 z" fill="#0000ff" stroke="#000" stroke-width="1.0"/>
<path transform="translate(403.7,125.0)" d="M-0.85,-2.9 h1.7 v2.05 h2.05 v1.7 h-2.05 v2.05 h-1.7 v-2.05 h-2.05 v-1.7 h2.05 z" fill="#0000ff" stroke="#000" stroke-width="1.0"/>
<path transform="translate(408.8,124.2)" d="M-0.85,-2.9 h1.7 v2.05 h2.05 v1.7 h-2.05 v2.05 h-1.7 v-2.05 h-2.05 v-1.7 h2.05 z" fill="#0000ff" stroke="#000" stroke-width="1.0"/>
<path transform="translate(413.1,124.7)" d="M-0.85,-2.9 h1.7 v2.05 h2.05 v1.7 h-2.05 v2.05 h-1.7 v-2.05 h-2.05 v-1.7 h2.05 z" fill="#0000ff" stroke="#000" stroke-width="1.0"/>
<path transform="translate(418.2,124.1)" d="M-0.85,-2.9 h1.7 v2.05 h2.05 v1.7 h-2.05 v2.05 h-1.7 v-2.05 h-2.05 v-1.7 h2.05 z" fill="#0000ff" stroke="#000" stroke-width="1.0"/>
<path transform="translate(422.0,124.4)" d="M-0.85,-2.9 h1.7 v2.05 h2.05 v1.7 h-2.05 v2.05 h-1.7 v-2.05 h-2.05 v-1.7 h2.05 z" fill="#0000ff" stroke="#000" stroke-width="1.0"/>
<path transform="translate(427.1,123.8)" d="M-0.85,-2.9 h1.7 v2.05 h2.05 v1.7 h-2.05 v2.05 h-1.7 v-2.05 h-2.05 v-1.7 h2.05 z" fill="#0000ff" stroke="#000" stroke-width="1.0"/>
<path transform="translate(410.7,47.6)" d="M-0.85,-2.9 h1.7 v2.05 h2.05 v1.7 h-2.05 v2.05 h-1.7 v-2.05 h-2.05 v-1.7 h2.05 z" fill="#0000ff" stroke="#000" stroke-width="1.0"/>
<path transform="translate(427.2,55.5)" d="M-0.85,-2.9 h1.7 v2.05 h2.05 v1.7 h-2.05 v2.05 h-1.7 v-2.05 h-2.05 v-1.7 h2.05 z" fill="#0000ff" stroke="#000" stroke-width="1.0"/>
<path transform="translate(440.8,51.5)" d="M-0.85,-2.9 h1.7 v2.05 h2.05 v1.7 h-2.05 v2.05 h-1.7 v-2.05 h-2.05 v-1.7 h2.05 z" fill="#0000ff" stroke="#000" stroke-width="1.0"/>
<path transform="translate(443.8,54.3)" d="M-0.85,-2.9 h1.7 v2.05 h2.05 v1.7 h-2.05 v2.05 h-1.7 v-2.05 h-2.05 v-1.7 h2.05 z" fill="#0000ff" stroke="#000" stroke-width="1.0"/>
<path transform="translate(436.4,58.9)" d="M-0.85,-2.9 h1.7 v2.05 h2.05 v1.7 h-2.05 v2.05 h-1.7 v-2.05 h-2.05 v-1.7 h2.05 z" fill="#0000ff" stroke="#000" stroke-width="1.0"/>
<path transform="translate(438,60.5)" d="M-0.85,-2.9 h1.7 v2.05 h2.05 v1.7 h-2.05 v2.05 h-1.7 v-2.05 h-2.05 v-1.7 h2.05 z" fill="#0000ff" stroke="#000" stroke-width="1.0"/>
<path transform="translate(451.1,63.4)" d="M-0.85,-2.9 h1.7 v2.05 h2.05 v1.7 h-2.05 v2.05 h-1.7 v-2.05 h-2.05 v-1.7 h2.05 z" fill="#0000ff" stroke="#000" stroke-width="1.0"/>
<path transform="translate(432.1,66.8)" d="M-0.85,-2.9 h1.7 v2.05 h2.05 v1.7 h-2.05 v2.05 h-1.7 v-2.05 h-2.05 v-1.7 h2.05 z" fill="#0000ff" stroke="#000" stroke-width="1.0"/>
<path transform="translate(431.1,72.6)" d="M-0.85,-2.9 h1.7 v2.05 h2.05 v1.7 h-2.05 v2.05 h-1.7 v-2.05 h-2.05 v-1.7 h2.05 z" fill="#0000ff" stroke="#000" stroke-width="1.0"/>
<path transform="translate(418.1,69.9)" d="M-0.85,-2.9 h1.7 v2.05 h2.05 v1.7 h-2.05 v2.05 h-1.7 v-2.05 h-2.05 v-1.7 h2.05 z" fill="#0000ff" stroke="#000" stroke-width="1.0"/>
<path transform="translate(423.7,69.3)" d="M-0.85,-2.9 h1.7 v2.05 h2.05 v1.7 h-2.05 v2.05 h-1.7 v-2.05 h-2.05 v-1.7 h2.05 z" fill="#0000ff" stroke="#000" stroke-width="1.0"/>
<path transform="translate(416.8,73.9)" d="M-0.85,-2.9 h1.7 v2.05 h2.05 v1.7 h-2.05 v2.05 h-1.7 v-2.05 h-2.05 v-1.7 h2.05 z" fill="#0000ff" stroke="#000" stroke-width="1.0"/>
<path transform="translate(423,76.4)" d="M-0.85,-2.9 h1.7 v2.05 h2.05 v1.7 h-2.05 v2.05 h-1.7 v-2.05 h-2.05 v-1.7 h2.05 z" fill="#0000ff" stroke="#000" stroke-width="1.0"/>
<path transform="translate(434.9,78)" d="M-0.85,-2.9 h1.7 v2.05 h2.05 v1.7 h-2.05 v2.05 h-1.7 v-2.05 h-2.05 v-1.7 h2.05 z" fill="#0000ff" stroke="#000" stroke-width="1.0"/>
<path transform="translate(438,76.4)" d="M-0.85,-2.9 h1.7 v2.05 h2.05 v1.7 h-2.05 v2.05 h-1.7 v-2.05 h-2.05 v-1.7 h2.05 z" fill="#0000ff" stroke="#000" stroke-width="1.0"/>
<path transform="translate(454.8,70.5)" d="M-0.85,-2.9 h1.7 v2.05 h2.05 v1.7 h-2.05 v2.05 h-1.7 v-2.05 h-2.05 v-1.7 h2.05 z" fill="#0000ff" stroke="#000" stroke-width="1.0"/>
<path transform="translate(402.5,80.5)" d="M-0.85,-2.9 h1.7 v2.05 h2.05 v1.7 h-2.05 v2.05 h-1.7 v-2.05 h-2.05 v-1.7 h2.05 z" fill="#0000ff" stroke="#000" stroke-width="1.0"/>
<path transform="translate(405.6,83.6)" d="M-0.85,-2.9 h1.7 v2.05 h2.05 v1.7 h-2.05 v2.05 h-1.7 v-2.05 h-2.05 v-1.7 h2.05 z" fill="#0000ff" stroke="#000" stroke-width="1.0"/>
<path transform="translate(412.5,84.2)" d="M-0.85,-2.9 h1.7 v2.05 h2.05 v1.7 h-2.05 v2.05 h-1.7 v-2.05 h-2.05 v-1.7 h2.05 z" fill="#0000ff" stroke="#000" stroke-width="1.0"/>
<path transform="translate(419.9,82.3)" d="M-0.85,-2.9 h1.7 v2.05 h2.05 v1.7 h-2.05 v2.05 h-1.7 v-2.05 h-2.05 v-1.7 h2.05 z" fill="#0000ff" stroke="#000" stroke-width="1.0"/>
<path transform="translate(424.9,84.2)" d="M-0.85,-2.9 h1.7 v2.05 h2.05 v1.7 h-2.05 v2.05 h-1.7 v-2.05 h-2.05 v-1.7 h2.05 z" fill="#0000ff" stroke="#000" stroke-width="1.0"/>
<path transform="translate(402.5,89.8)" d="M-0.85,-2.9 h1.7 v2.05 h2.05 v1.7 h-2.05 v2.05 h-1.7 v-2.05 h-2.05 v-1.7 h2.05 z" fill="#0000ff" stroke="#000" stroke-width="1.0"/>
<path transform="translate(416.2,89.8)" d="M-0.85,-2.9 h1.7 v2.05 h2.05 v1.7 h-2.05 v2.05 h-1.7 v-2.05 h-2.05 v-1.7 h2.05 z" fill="#0000ff" stroke="#000" stroke-width="1.0"/>
<path transform="translate(423.7,87.9)" d="M-0.85,-2.9 h1.7 v2.05 h2.05 v1.7 h-2.05 v2.05 h-1.7 v-2.05 h-2.05 v-1.7 h2.05 z" fill="#0000ff" stroke="#000" stroke-width="1.0"/>
<path transform="translate(428.6,87.3)" d="M-0.85,-2.9 h1.7 v2.05 h2.05 v1.7 h-2.05 v2.05 h-1.7 v-2.05 h-2.05 v-1.7 h2.05 z" fill="#0000ff" stroke="#000" stroke-width="1.0"/>
<path transform="translate(433.6,89.8)" d="M-0.85,-2.9 h1.7 v2.05 h2.05 v1.7 h-2.05 v2.05 h-1.7 v-2.05 h-2.05 v-1.7 h2.05 z" fill="#0000ff" stroke="#000" stroke-width="1.0"/>
<path transform="translate(441.1,88.6)" d="M-0.85,-2.9 h1.7 v2.05 h2.05 v1.7 h-2.05 v2.05 h-1.7 v-2.05 h-2.05 v-1.7 h2.05 z" fill="#0000ff" stroke="#000" stroke-width="1.0"/>
<path transform="translate(449.2,90.4)" d="M-0.85,-2.9 h1.7 v2.05 h2.05 v1.7 h-2.05 v2.05 h-1.7 v-2.05 h-2.05 v-1.7 h2.05 z" fill="#0000ff" stroke="#000" stroke-width="1.0"/>
<path transform="translate(451.7,92.9)" d="M-0.85,-2.9 h1.7 v2.05 h2.05 v1.7 h-2.05 v2.05 h-1.7 v-2.05 h-2.05 v-1.7 h2.05 z" fill="#0000ff" stroke="#000" stroke-width="1.0"/>
<path transform="translate(397.9,80)" d="M-0.85,-2.9 h1.7 v2.05 h2.05 v1.7 h-2.05 v2.05 h-1.7 v-2.05 h-2.05 v-1.7 h2.05 z" fill="#0000ff" stroke="#000" stroke-width="1.0"/>
<path transform="translate(395.4,86.8)" d="M-0.85,-2.9 h1.7 v2.05 h2.05 v1.7 h-2.05 v2.05 h-1.7 v-2.05 h-2.05 v-1.7 h2.05 z" fill="#0000ff" stroke="#000" stroke-width="1.0"/>
<path transform="translate(391.1,96.2)" d="M-0.85,-2.9 h1.7 v2.05 h2.05 v1.7 h-2.05 v2.05 h-1.7 v-2.05 h-2.05 v-1.7 h2.05 z" fill="#0000ff" stroke="#000" stroke-width="1.0"/>
<path transform="translate(387.3,98.7)" d="M-0.85,-2.9 h1.7 v2.05 h2.05 v1.7 h-2.05 v2.05 h-1.7 v-2.05 h-2.05 v-1.7 h2.05 z" fill="#0000ff" stroke="#000" stroke-width="1.0"/>
<path transform="translate(383.6,101.8)" d="M-0.85,-2.9 h1.7 v2.05 h2.05 v1.7 h-2.05 v2.05 h-1.7 v-2.05 h-2.05 v-1.7 h2.05 z" fill="#0000ff" stroke="#000" stroke-width="1.0"/>
<path transform="translate(386.7,103)" d="M-0.85,-2.9 h1.7 v2.05 h2.05 v1.7 h-2.05 v2.05 h-1.7 v-2.05 h-2.05 v-1.7 h2.05 z" fill="#0000ff" stroke="#000" stroke-width="1.0"/>
<path transform="translate(394.8,101.8)" d="M-0.85,-2.9 h1.7 v2.05 h2.05 v1.7 h-2.05 v2.05 h-1.7 v-2.05 h-2.05 v-1.7 h2.05 z" fill="#0000ff" stroke="#000" stroke-width="1.0"/>
<path transform="translate(397.9,99.3)" d="M-0.85,-2.9 h1.7 v2.05 h2.05 v1.7 h-2.05 v2.05 h-1.7 v-2.05 h-2.05 v-1.7 h2.05 z" fill="#0000ff" stroke="#000" stroke-width="1.0"/>
<path transform="translate(396.7,104.9)" d="M-0.85,-2.9 h1.7 v2.05 h2.05 v1.7 h-2.05 v2.05 h-1.7 v-2.05 h-2.05 v-1.7 h2.05 z" fill="#0000ff" stroke="#000" stroke-width="1.0"/>
<path transform="translate(373,114.9)" d="M-0.85,-2.9 h1.7 v2.05 h2.05 v1.7 h-2.05 v2.05 h-1.7 v-2.05 h-2.05 v-1.7 h2.05 z" fill="#0000ff" stroke="#000" stroke-width="1.0"/>
<path transform="translate(376.1,116.1)" d="M-0.85,-2.9 h1.7 v2.05 h2.05 v1.7 h-2.05 v2.05 h-1.7 v-2.05 h-2.05 v-1.7 h2.05 z" fill="#0000ff" stroke="#000" stroke-width="1.0"/>
<path transform="translate(372.4,119.2)" d="M-0.85,-2.9 h1.7 v2.05 h2.05 v1.7 h-2.05 v2.05 h-1.7 v-2.05 h-2.05 v-1.7 h2.05 z" fill="#0000ff" stroke="#000" stroke-width="1.0"/>
<path transform="translate(387.3,113.6)" d="M-0.85,-2.9 h1.7 v2.05 h2.05 v1.7 h-2.05 v2.05 h-1.7 v-2.05 h-2.05 v-1.7 h2.05 z" fill="#0000ff" stroke="#000" stroke-width="1.0"/>
<path transform="translate(393.5,111.7)" d="M-0.85,-2.9 h1.7 v2.05 h2.05 v1.7 h-2.05 v2.05 h-1.7 v-2.05 h-2.05 v-1.7 h2.05 z" fill="#0000ff" stroke="#000" stroke-width="1.0"/>
<path transform="translate(391.1,116.7)" d="M-0.85,-2.9 h1.7 v2.05 h2.05 v1.7 h-2.05 v2.05 h-1.7 v-2.05 h-2.05 v-1.7 h2.05 z" fill="#0000ff" stroke="#000" stroke-width="1.0"/>
<path transform="translate(397.3,116.1)" d="M-0.85,-2.9 h1.7 v2.05 h2.05 v1.7 h-2.05 v2.05 h-1.7 v-2.05 h-2.05 v-1.7 h2.05 z" fill="#0000ff" stroke="#000" stroke-width="1.0"/>
<path transform="translate(377.4,124.8)" d="M-0.85,-2.9 h1.7 v2.05 h2.05 v1.7 h-2.05 v2.05 h-1.7 v-2.05 h-2.05 v-1.7 h2.05 z" fill="#0000ff" stroke="#000" stroke-width="1.0"/>
<path transform="translate(382.3,124.2)" d="M-0.85,-2.9 h1.7 v2.05 h2.05 v1.7 h-2.05 v2.05 h-1.7 v-2.05 h-2.05 v-1.7 h2.05 z" fill="#0000ff" stroke="#000" stroke-width="1.0"/>
<path transform="translate(387.3,123)" d="M-0.85,-2.9 h1.7 v2.05 h2.05 v1.7 h-2.05 v2.05 h-1.7 v-2.05 h-2.05 v-1.7 h2.05 z" fill="#0000ff" stroke="#000" stroke-width="1.0"/>
<path transform="translate(376.1,127.9)" d="M-0.85,-2.9 h1.7 v2.05 h2.05 v1.7 h-2.05 v2.05 h-1.7 v-2.05 h-2.05 v-1.7 h2.05 z" fill="#0000ff" stroke="#000" stroke-width="1.0"/>
<path transform="translate(354.7,129.7)" d="M-0.85,-2.9 h1.7 v2.05 h2.05 v1.7 h-2.05 v2.05 h-1.7 v-2.05 h-2.05 v-1.7 h2.05 z" fill="#0000ff" stroke="#000" stroke-width="1.0"/>
<path transform="translate(378.6,127.4)" d="M-0.85,-2.9 h1.7 v2.05 h2.05 v1.7 h-2.05 v2.05 h-1.7 v-2.05 h-2.05 v-1.7 h2.05 z" fill="#0000ff" stroke="#000" stroke-width="1.0"/>
<path transform="translate(381.7,124.9)" d="M-0.85,-2.9 h1.7 v2.05 h2.05 v1.7 h-2.05 v2.05 h-1.7 v-2.05 h-2.05 v-1.7 h2.05 z" fill="#0000ff" stroke="#000" stroke-width="1.0"/>
<path transform="translate(384.9,124.3)" d="M-0.85,-2.9 h1.7 v2.05 h2.05 v1.7 h-2.05 v2.05 h-1.7 v-2.05 h-2.05 v-1.7 h2.05 z" fill="#0000ff" stroke="#000" stroke-width="1.0"/>
<path transform="translate(388,121.8)" d="M-0.85,-2.9 h1.7 v2.05 h2.05 v1.7 h-2.05 v2.05 h-1.7 v-2.05 h-2.05 v-1.7 h2.05 z" fill="#0000ff" stroke="#000" stroke-width="1.0"/>
<path transform="translate(386.1,114.4)" d="M-0.85,-2.9 h1.7 v2.05 h2.05 v1.7 h-2.05 v2.05 h-1.7 v-2.05 h-2.05 v-1.7 h2.05 z" fill="#0000ff" stroke="#000" stroke-width="1.0"/>
<path transform="translate(388.6,116.8)" d="M-0.85,-2.9 h1.7 v2.05 h2.05 v1.7 h-2.05 v2.05 h-1.7 v-2.05 h-2.05 v-1.7 h2.05 z" fill="#0000ff" stroke="#000" stroke-width="1.0"/>
<path transform="translate(392.9,115.6)" d="M-0.85,-2.9 h1.7 v2.05 h2.05 v1.7 h-2.05 v2.05 h-1.7 v-2.05 h-2.05 v-1.7 h2.05 z" fill="#0000ff" stroke="#000" stroke-width="1.0"/>
<path transform="translate(394.8,111.9)" d="M-0.85,-2.9 h1.7 v2.05 h2.05 v1.7 h-2.05 v2.05 h-1.7 v-2.05 h-2.05 v-1.7 h2.05 z" fill="#0000ff" stroke="#000" stroke-width="1.0"/>
<path transform="translate(396.1,118.7)" d="M-0.85,-2.9 h1.7 v2.05 h2.05 v1.7 h-2.05 v2.05 h-1.7 v-2.05 h-2.05 v-1.7 h2.05 z" fill="#0000ff" stroke="#000" stroke-width="1.0"/>
<path transform="translate(399.8,122.5)" d="M-0.85,-2.9 h1.7 v2.05 h2.05 v1.7 h-2.05 v2.05 h-1.7 v-2.05 h-2.05 v-1.7 h2.05 z" fill="#0000ff" stroke="#000" stroke-width="1.0"/>
<path transform="translate(398.5,125.6)" d="M-0.85,-2.9 h1.7 v2.05 h2.05 v1.7 h-2.05 v2.05 h-1.7 v-2.05 h-2.05 v-1.7 h2.05 z" fill="#0000ff" stroke="#000" stroke-width="1.0"/>
<path transform="translate(401.7,119.3)" d="M-0.85,-2.9 h1.7 v2.05 h2.05 v1.7 h-2.05 v2.05 h-1.7 v-2.05 h-2.05 v-1.7 h2.05 z" fill="#0000ff" stroke="#000" stroke-width="1.0"/>
<path transform="translate(402.3,111.9)" d="M-0.85,-2.9 h1.7 v2.05 h2.05 v1.7 h-2.05 v2.05 h-1.7 v-2.05 h-2.05 v-1.7 h2.05 z" fill="#0000ff" stroke="#000" stroke-width="1.0"/>
<path transform="translate(401.7,138.6)" d="M-0.85,-2.9 h1.7 v2.05 h2.05 v1.7 h-2.05 v2.05 h-1.7 v-2.05 h-2.05 v-1.7 h2.05 z" fill="#0000ff" stroke="#000" stroke-width="1.0"/>
<path transform="translate(345,159.2)" d="M-0.85,-2.9 h1.7 v2.05 h2.05 v1.7 h-2.05 v2.05 h-1.7 v-2.05 h-2.05 v-1.7 h2.05 z" fill="#0000ff" stroke="#000" stroke-width="1.0"/>
<path transform="translate(514.5,63.8)" d="M-0.85,-2.9 h1.7 v2.05 h2.05 v1.7 h-2.05 v2.05 h-1.7 v-2.05 h-2.05 v-1.7 h2.05 z" fill="#0000ff" stroke="#000" stroke-width="1.0"/>
<path transform="translate(451.4,63.4)" d="M-0.85,-2.9 h1.7 v2.05 h2.05 v1.7 h-2.05 v2.05 h-1.7 v-2.05 h-2.05 v-1.7 h2.05 z" fill="#0000ff" stroke="#000" stroke-width="1.0"/>
<path transform="translate(454.7,70.9)" d="M-0.85,-2.9 h1.7 v2.05 h2.05 v1.7 h-2.05 v2.05 h-1.7 v-2.05 h-2.05 v-1.7 h2.05 z" fill="#0000ff" stroke="#000" stroke-width="1.0"/>
<path transform="translate(466.3,77)" d="M-0.85,-2.9 h1.7 v2.05 h2.05 v1.7 h-2.05 v2.05 h-1.7 v-2.05 h-2.05 v-1.7 h2.05 z" fill="#0000ff" stroke="#000" stroke-width="1.0"/>
<path transform="translate(467,85.1)" d="M-0.85,-2.9 h1.7 v2.05 h2.05 v1.7 h-2.05 v2.05 h-1.7 v-2.05 h-2.05 v-1.7 h2.05 z" fill="#0000ff" stroke="#000" stroke-width="1.0"/>
<path transform="translate(467.6,92.6)" d="M-0.85,-2.9 h1.7 v2.05 h2.05 v1.7 h-2.05 v2.05 h-1.7 v-2.05 h-2.05 v-1.7 h2.05 z" fill="#0000ff" stroke="#000" stroke-width="1.0"/>
<path transform="translate(451.4,92.6)" d="M-0.85,-2.9 h1.7 v2.05 h2.05 v1.7 h-2.05 v2.05 h-1.7 v-2.05 h-2.05 v-1.7 h2.05 z" fill="#0000ff" stroke="#000" stroke-width="1.0"/>
<path transform="translate(452.7,96.6)" d="M-0.85,-2.9 h1.7 v2.05 h2.05 v1.7 h-2.05 v2.05 h-1.7 v-2.05 h-2.05 v-1.7 h2.05 z" fill="#0000ff" stroke="#000" stroke-width="1.0"/>
<path transform="translate(460.2,100.4)" d="M-0.85,-2.9 h1.7 v2.05 h2.05 v1.7 h-2.05 v2.05 h-1.7 v-2.05 h-2.05 v-1.7 h2.05 z" fill="#0000ff" stroke="#000" stroke-width="1.0"/>
<path transform="translate(456.1,104.8)" d="M-0.85,-2.9 h1.7 v2.05 h2.05 v1.7 h-2.05 v2.05 h-1.7 v-2.05 h-2.05 v-1.7 h2.05 z" fill="#0000ff" stroke="#000" stroke-width="1.0"/>
<path transform="translate(451.4,100.7)" d="M-0.85,-2.9 h1.7 v2.05 h2.05 v1.7 h-2.05 v2.05 h-1.7 v-2.05 h-2.05 v-1.7 h2.05 z" fill="#0000ff" stroke="#000" stroke-width="1.0"/>
<path transform="translate(473.7,104.1)" d="M-0.85,-2.9 h1.7 v2.05 h2.05 v1.7 h-2.05 v2.05 h-1.7 v-2.05 h-2.05 v-1.7 h2.05 z" fill="#0000ff" stroke="#000" stroke-width="1.0"/>
<path transform="translate(470.4,106.8)" d="M-0.85,-2.9 h1.7 v2.05 h2.05 v1.7 h-2.05 v2.05 h-1.7 v-2.05 h-2.05 v-1.7 h2.05 z" fill="#0000ff" stroke="#000" stroke-width="1.0"/>
<path transform="translate(467.6,110.2)" d="M-0.85,-2.9 h1.7 v2.05 h2.05 v1.7 h-2.05 v2.05 h-1.7 v-2.05 h-2.05 v-1.7 h2.05 z" fill="#0000ff" stroke="#000" stroke-width="1.0"/>
<path transform="translate(462.9,110.9)" d="M-0.85,-2.9 h1.7 v2.05 h2.05 v1.7 h-2.05 v2.05 h-1.7 v-2.05 h-2.05 v-1.7 h2.05 z" fill="#0000ff" stroke="#000" stroke-width="1.0"/>
<path transform="translate(457.5,110.2)" d="M-0.85,-2.9 h1.7 v2.05 h2.05 v1.7 h-2.05 v2.05 h-1.7 v-2.05 h-2.05 v-1.7 h2.05 z" fill="#0000ff" stroke="#000" stroke-width="1.0"/>
<path transform="translate(451.4,108.8)" d="M-0.85,-2.9 h1.7 v2.05 h2.05 v1.7 h-2.05 v2.05 h-1.7 v-2.05 h-2.05 v-1.7 h2.05 z" fill="#0000ff" stroke="#000" stroke-width="1.0"/>
<path transform="translate(450.7,114.3)" d="M-0.85,-2.9 h1.7 v2.05 h2.05 v1.7 h-2.05 v2.05 h-1.7 v-2.05 h-2.05 v-1.7 h2.05 z" fill="#0000ff" stroke="#000" stroke-width="1.0"/>
<path transform="translate(486.6,41.4)" d="M-0.85,-2.9 h1.7 v2.05 h2.05 v1.7 h-2.05 v2.05 h-1.7 v-2.05 h-2.05 v-1.7 h2.05 z" fill="#0000ff" stroke="#000" stroke-width="1.0"/>
<path transform="translate(503.9,35.2)" d="M-0.85,-2.9 h1.7 v2.05 h2.05 v1.7 h-2.05 v2.05 h-1.7 v-2.05 h-2.05 v-1.7 h2.05 z" fill="#0000ff" stroke="#000" stroke-width="1.0"/>
<path transform="translate(496.5,55)" d="M-0.85,-2.9 h1.7 v2.05 h2.05 v1.7 h-2.05 v2.05 h-1.7 v-2.05 h-2.05 v-1.7 h2.05 z" fill="#0000ff" stroke="#000" stroke-width="1.0"/>
<path transform="translate(508,52.6)" d="M-0.85,-2.9 h1.7 v2.05 h2.05 v1.7 h-2.05 v2.05 h-1.7 v-2.05 h-2.05 v-1.7 h2.05 z" fill="#0000ff" stroke="#000" stroke-width="1.0"/>
<path transform="translate(514.5,63.4)" d="M-0.85,-2.9 h1.7 v2.05 h2.05 v1.7 h-2.05 v2.05 h-1.7 v-2.05 h-2.05 v-1.7 h2.05 z" fill="#0000ff" stroke="#000" stroke-width="1.0"/>
<path transform="translate(467.5,92.7)" d="M-0.85,-2.9 h1.7 v2.05 h2.05 v1.7 h-2.05 v2.05 h-1.7 v-2.05 h-2.05 v-1.7 h2.05 z" fill="#0000ff" stroke="#000" stroke-width="1.0"/>
<path transform="translate(460.4,100.4)" d="M-0.85,-2.9 h1.7 v2.05 h2.05 v1.7 h-2.05 v2.05 h-1.7 v-2.05 h-2.05 v-1.7 h2.05 z" fill="#0000ff" stroke="#000" stroke-width="1.0"/>
<path transform="translate(474.6,103.6)" d="M-0.85,-2.9 h1.7 v2.05 h2.05 v1.7 h-2.05 v2.05 h-1.7 v-2.05 h-2.05 v-1.7 h2.05 z" fill="#0000ff" stroke="#000" stroke-width="1.0"/>
<path transform="translate(470.8,105.8)" d="M-0.85,-2.9 h1.7 v2.05 h2.05 v1.7 h-2.05 v2.05 h-1.7 v-2.05 h-2.05 v-1.7 h2.05 z" fill="#0000ff" stroke="#000" stroke-width="1.0"/>
<path transform="translate(468.1,108.5)" d="M-0.85,-2.9 h1.7 v2.05 h2.05 v1.7 h-2.05 v2.05 h-1.7 v-2.05 h-2.05 v-1.7 h2.05 z" fill="#0000ff" stroke="#000" stroke-width="1.0"/>
<path transform="translate(462.6,109.6)" d="M-0.85,-2.9 h1.7 v2.05 h2.05 v1.7 h-2.05 v2.05 h-1.7 v-2.05 h-2.05 v-1.7 h2.05 z" fill="#0000ff" stroke="#000" stroke-width="1.0"/>
<path transform="translate(456.6,110.2)" d="M-0.85,-2.9 h1.7 v2.05 h2.05 v1.7 h-2.05 v2.05 h-1.7 v-2.05 h-2.05 v-1.7 h2.05 z" fill="#0000ff" stroke="#000" stroke-width="1.0"/>
<path transform="translate(456.1,105.3)" d="M-0.85,-2.9 h1.7 v2.05 h2.05 v1.7 h-2.05 v2.05 h-1.7 v-2.05 h-2.05 v-1.7 h2.05 z" fill="#0000ff" stroke="#000" stroke-width="1.0"/>
<path transform="translate(451.2,109.6)" d="M-0.85,-2.9 h1.7 v2.05 h2.05 v1.7 h-2.05 v2.05 h-1.7 v-2.05 h-2.05 v-1.7 h2.05 z" fill="#0000ff" stroke="#000" stroke-width="1.0"/>
<path transform="translate(447.9,115.1)" d="M-0.85,-2.9 h1.7 v2.05 h2.05 v1.7 h-2.05 v2.05 h-1.7 v-2.05 h-2.05 v-1.7 h2.05 z" fill="#0000ff" stroke="#000" stroke-width="1.0"/>
<path transform="translate(445.2,117.3)" d="M-0.85,-2.9 h1.7 v2.05 h2.05 v1.7 h-2.05 v2.05 h-1.7 v-2.05 h-2.05 v-1.7 h2.05 z" fill="#0000ff" stroke="#000" stroke-width="1.0"/>
<path transform="translate(440.3,124.9)" d="M-0.85,-2.9 h1.7 v2.05 h2.05 v1.7 h-2.05 v2.05 h-1.7 v-2.05 h-2.05 v-1.7 h2.05 z" fill="#0000ff" stroke="#000" stroke-width="1.0"/>
<path transform="translate(431,126)" d="M-0.85,-2.9 h1.7 v2.05 h2.05 v1.7 h-2.05 v2.05 h-1.7 v-2.05 h-2.05 v-1.7 h2.05 z" fill="#0000ff" stroke="#000" stroke-width="1.0"/>
<path transform="translate(426.6,126)" d="M-0.85,-2.9 h1.7 v2.05 h2.05 v1.7 h-2.05 v2.05 h-1.7 v-2.05 h-2.05 v-1.7 h2.05 z" fill="#0000ff" stroke="#000" stroke-width="1.0"/>
<path transform="translate(431.5,121.6)" d="M-0.85,-2.9 h1.7 v2.05 h2.05 v1.7 h-2.05 v2.05 h-1.7 v-2.05 h-2.05 v-1.7 h2.05 z" fill="#0000ff" stroke="#000" stroke-width="1.0"/>
<path transform="translate(452.3,94.4)" d="M-0.85,-2.9 h1.7 v2.05 h2.05 v1.7 h-2.05 v2.05 h-1.7 v-2.05 h-2.05 v-1.7 h2.05 z" fill="#0000ff" stroke="#000" stroke-width="1.0"/>
<path transform="translate(450.1,100.4)" d="M-0.85,-2.9 h1.7 v2.05 h2.05 v1.7 h-2.05 v2.05 h-1.7 v-2.05 h-2.05 v-1.7 h2.05 z" fill="#0000ff" stroke="#000" stroke-width="1.0"/>
<path transform="translate(446.8,103.6)" d="M-0.85,-2.9 h1.7 v2.05 h2.05 v1.7 h-2.05 v2.05 h-1.7 v-2.05 h-2.05 v-1.7 h2.05 z" fill="#0000ff" stroke="#000" stroke-width="1.0"/>
<path transform="translate(443.5,107.4)" d="M-0.85,-2.9 h1.7 v2.05 h2.05 v1.7 h-2.05 v2.05 h-1.7 v-2.05 h-2.05 v-1.7 h2.05 z" fill="#0000ff" stroke="#000" stroke-width="1.0"/>
<path transform="translate(440.3,111.8)" d="M-0.85,-2.9 h1.7 v2.05 h2.05 v1.7 h-2.05 v2.05 h-1.7 v-2.05 h-2.05 v-1.7 h2.05 z" fill="#0000ff" stroke="#000" stroke-width="1.0"/>
<path transform="translate(435.9,115.1)" d="M-0.85,-2.9 h1.7 v2.05 h2.05 v1.7 h-2.05 v2.05 h-1.7 v-2.05 h-2.05 v-1.7 h2.05 z" fill="#0000ff" stroke="#000" stroke-width="1.0"/>
<path transform="translate(433.7,118.4)" d="M-0.85,-2.9 h1.7 v2.05 h2.05 v1.7 h-2.05 v2.05 h-1.7 v-2.05 h-2.05 v-1.7 h2.05 z" fill="#0000ff" stroke="#000" stroke-width="1.0"/>
<path transform="translate(374.1,115.5)" d="M-0.85,-2.9 h1.7 v2.05 h2.05 v1.7 h-2.05 v2.05 h-1.7 v-2.05 h-2.05 v-1.7 h2.05 z" fill="#0000ff" stroke="#000" stroke-width="1.0"/>
<path transform="translate(372.7,118.6)" d="M-0.85,-2.9 h1.7 v2.05 h2.05 v1.7 h-2.05 v2.05 h-1.7 v-2.05 h-2.05 v-1.7 h2.05 z" fill="#0000ff" stroke="#000" stroke-width="1.0"/>
<path transform="translate(375.5,116.8)" d="M-0.85,-2.9 h1.7 v2.05 h2.05 v1.7 h-2.05 v2.05 h-1.7 v-2.05 h-2.05 v-1.7 h2.05 z" fill="#0000ff" stroke="#000" stroke-width="1.0"/>
<path transform="translate(377.3,125.9)" d="M-0.85,-2.9 h1.7 v2.05 h2.05 v1.7 h-2.05 v2.05 h-1.7 v-2.05 h-2.05 v-1.7 h2.05 z" fill="#0000ff" stroke="#000" stroke-width="1.0"/>
<path transform="translate(380,125)" d="M-0.85,-2.9 h1.7 v2.05 h2.05 v1.7 h-2.05 v2.05 h-1.7 v-2.05 h-2.05 v-1.7 h2.05 z" fill="#0000ff" stroke="#000" stroke-width="1.0"/>
<path transform="translate(382.7,124.1)" d="M-0.85,-2.9 h1.7 v2.05 h2.05 v1.7 h-2.05 v2.05 h-1.7 v-2.05 h-2.05 v-1.7 h2.05 z" fill="#0000ff" stroke="#000" stroke-width="1.0"/>
<path transform="translate(385.5,123.2)" d="M-0.85,-2.9 h1.7 v2.05 h2.05 v1.7 h-2.05 v2.05 h-1.7 v-2.05 h-2.05 v-1.7 h2.05 z" fill="#0000ff" stroke="#000" stroke-width="1.0"/>
<path transform="translate(376.8,127.3)" d="M-0.85,-2.9 h1.7 v2.05 h2.05 v1.7 h-2.05 v2.05 h-1.7 v-2.05 h-2.05 v-1.7 h2.05 z" fill="#0000ff" stroke="#000" stroke-width="1.0"/>
<path transform="translate(384.5,102.3)" d="M-0.85,-2.9 h1.7 v2.05 h2.05 v1.7 h-2.05 v2.05 h-1.7 v-2.05 h-2.05 v-1.7 h2.05 z" fill="#0000ff" stroke="#000" stroke-width="1.0"/>
<path transform="translate(386.4,100.5)" d="M-0.85,-2.9 h1.7 v2.05 h2.05 v1.7 h-2.05 v2.05 h-1.7 v-2.05 h-2.05 v-1.7 h2.05 z" fill="#0000ff" stroke="#000" stroke-width="1.0"/>
<path transform="translate(388.2,98.6)" d="M-0.85,-2.9 h1.7 v2.05 h2.05 v1.7 h-2.05 v2.05 h-1.7 v-2.05 h-2.05 v-1.7 h2.05 z" fill="#0000ff" stroke="#000" stroke-width="1.0"/>
<path transform="translate(390.9,96.8)" d="M-0.85,-2.9 h1.7 v2.05 h2.05 v1.7 h-2.05 v2.05 h-1.7 v-2.05 h-2.05 v-1.7 h2.05 z" fill="#0000ff" stroke="#000" stroke-width="1.0"/>
<path transform="translate(387.3,113.6)" d="M-0.85,-2.9 h1.7 v2.05 h2.05 v1.7 h-2.05 v2.05 h-1.7 v-2.05 h-2.05 v-1.7 h2.05 z" fill="#0000ff" stroke="#000" stroke-width="1.0"/>
<path transform="translate(389.1,115)" d="M-0.85,-2.9 h1.7 v2.05 h2.05 v1.7 h-2.05 v2.05 h-1.7 v-2.05 h-2.05 v-1.7 h2.05 z" fill="#0000ff" stroke="#000" stroke-width="1.0"/>
<path transform="translate(392.7,111.4)" d="M-0.85,-2.9 h1.7 v2.05 h2.05 v1.7 h-2.05 v2.05 h-1.7 v-2.05 h-2.05 v-1.7 h2.05 z" fill="#0000ff" stroke="#000" stroke-width="1.0"/>
<path transform="translate(394.5,113.2)" d="M-0.85,-2.9 h1.7 v2.05 h2.05 v1.7 h-2.05 v2.05 h-1.7 v-2.05 h-2.05 v-1.7 h2.05 z" fill="#0000ff" stroke="#000" stroke-width="1.0"/>
<path transform="translate(395.5,105)" d="M-0.85,-2.9 h1.7 v2.05 h2.05 v1.7 h-2.05 v2.05 h-1.7 v-2.05 h-2.05 v-1.7 h2.05 z" fill="#0000ff" stroke="#000" stroke-width="1.0"/>
<path transform="translate(397.3,100.5)" d="M-0.85,-2.9 h1.7 v2.05 h2.05 v1.7 h-2.05 v2.05 h-1.7 v-2.05 h-2.05 v-1.7 h2.05 z" fill="#0000ff" stroke="#000" stroke-width="1.0"/>
<path transform="translate(391.8,118.6)" d="M-0.85,-2.9 h1.7 v2.05 h2.05 v1.7 h-2.05 v2.05 h-1.7 v-2.05 h-2.05 v-1.7 h2.05 z" fill="#0000ff" stroke="#000" stroke-width="1.0"/>
<path transform="translate(393.6,116.8)" d="M-0.85,-2.9 h1.7 v2.05 h2.05 v1.7 h-2.05 v2.05 h-1.7 v-2.05 h-2.05 v-1.7 h2.05 z" fill="#0000ff" stroke="#000" stroke-width="1.0"/>
<path transform="translate(396.4,115.9)" d="M-0.85,-2.9 h1.7 v2.05 h2.05 v1.7 h-2.05 v2.05 h-1.7 v-2.05 h-2.05 v-1.7 h2.05 z" fill="#0000ff" stroke="#000" stroke-width="1.0"/>
<path transform="translate(390,121.4)" d="M-0.85,-2.9 h1.7 v2.05 h2.05 v1.7 h-2.05 v2.05 h-1.7 v-2.05 h-2.05 v-1.7 h2.05 z" fill="#0000ff" stroke="#000" stroke-width="1.0"/>
<path transform="translate(398.2,122.3)" d="M-0.85,-2.9 h1.7 v2.05 h2.05 v1.7 h-2.05 v2.05 h-1.7 v-2.05 h-2.05 v-1.7 h2.05 z" fill="#0000ff" stroke="#000" stroke-width="1.0"/>
<path transform="translate(399,126)" d="M-0.85,-2.9 h1.7 v2.05 h2.05 v1.7 h-2.05 v2.05 h-1.7 v-2.05 h-2.05 v-1.7 h2.05 z" fill="#0000ff" stroke="#000" stroke-width="1.0"/>
<path transform="translate(395.5,87.2)" d="M-0.85,-2.9 h1.7 v2.05 h2.05 v1.7 h-2.05 v2.05 h-1.7 v-2.05 h-2.05 v-1.7 h2.05 z" fill="#0000ff" stroke="#000" stroke-width="1.0"/>
<path transform="translate(402,90.5)" d="M-0.85,-2.9 h1.7 v2.05 h2.05 v1.7 h-2.05 v2.05 h-1.7 v-2.05 h-2.05 v-1.7 h2.05 z" fill="#0000ff" stroke="#000" stroke-width="1.0"/>
<path transform="translate(404.9,85.7)" d="M-0.85,-2.9 h1.7 v2.05 h2.05 v1.7 h-2.05 v2.05 h-1.7 v-2.05 h-2.05 v-1.7 h2.05 z" fill="#0000ff" stroke="#000" stroke-width="1.0"/>
<path transform="translate(408.9,94.5)" d="M-0.85,-2.9 h1.7 v2.05 h2.05 v1.7 h-2.05 v2.05 h-1.7 v-2.05 h-2.05 v-1.7 h2.05 z" fill="#0000ff" stroke="#000" stroke-width="1.0"/>
<path transform="translate(391.1,96.6)" d="M-0.85,-2.9 h1.7 v2.05 h2.05 v1.7 h-2.05 v2.05 h-1.7 v-2.05 h-2.05 v-1.7 h2.05 z" fill="#0000ff" stroke="#000" stroke-width="1.0"/>
<path transform="translate(388.2,97.7)" d="M-0.85,-2.9 h1.7 v2.05 h2.05 v1.7 h-2.05 v2.05 h-1.7 v-2.05 h-2.05 v-1.7 h2.05 z" fill="#0000ff" stroke="#000" stroke-width="1.0"/>
<path transform="translate(384.5,100.3)" d="M-0.85,-2.9 h1.7 v2.05 h2.05 v1.7 h-2.05 v2.05 h-1.7 v-2.05 h-2.05 v-1.7 h2.05 z" fill="#0000ff" stroke="#000" stroke-width="1.0"/>
<path transform="translate(383.1,102.1)" d="M-0.85,-2.9 h1.7 v2.05 h2.05 v1.7 h-2.05 v2.05 h-1.7 v-2.05 h-2.05 v-1.7 h2.05 z" fill="#0000ff" stroke="#000" stroke-width="1.0"/>
<path transform="translate(387.1,102.1)" d="M-0.85,-2.9 h1.7 v2.05 h2.05 v1.7 h-2.05 v2.05 h-1.7 v-2.05 h-2.05 v-1.7 h2.05 z" fill="#0000ff" stroke="#000" stroke-width="1.0"/>
<path transform="translate(395.5,99.5)" d="M-0.85,-2.9 h1.7 v2.05 h2.05 v1.7 h-2.05 v2.05 h-1.7 v-2.05 h-2.05 v-1.7 h2.05 z" fill="#0000ff" stroke="#000" stroke-width="1.0"/>
<path transform="translate(399.8,97.4)" d="M-0.85,-2.9 h1.7 v2.05 h2.05 v1.7 h-2.05 v2.05 h-1.7 v-2.05 h-2.05 v-1.7 h2.05 z" fill="#0000ff" stroke="#000" stroke-width="1.0"/>
<path transform="translate(403.1,95.9)" d="M-0.85,-2.9 h1.7 v2.05 h2.05 v1.7 h-2.05 v2.05 h-1.7 v-2.05 h-2.05 v-1.7 h2.05 z" fill="#0000ff" stroke="#000" stroke-width="1.0"/>
<path transform="translate(401.3,101.7)" d="M-0.85,-2.9 h1.7 v2.05 h2.05 v1.7 h-2.05 v2.05 h-1.7 v-2.05 h-2.05 v-1.7 h2.05 z" fill="#0000ff" stroke="#000" stroke-width="1.0"/>
<path transform="translate(404.9,103.2)" d="M-0.85,-2.9 h1.7 v2.05 h2.05 v1.7 h-2.05 v2.05 h-1.7 v-2.05 h-2.05 v-1.7 h2.05 z" fill="#0000ff" stroke="#000" stroke-width="1.0"/>
<path transform="translate(395.5,106.1)" d="M-0.85,-2.9 h1.7 v2.05 h2.05 v1.7 h-2.05 v2.05 h-1.7 v-2.05 h-2.05 v-1.7 h2.05 z" fill="#0000ff" stroke="#000" stroke-width="1.0"/>
<path transform="translate(399.8,105.4)" d="M-0.85,-2.9 h1.7 v2.05 h2.05 v1.7 h-2.05 v2.05 h-1.7 v-2.05 h-2.05 v-1.7 h2.05 z" fill="#0000ff" stroke="#000" stroke-width="1.0"/>
<path transform="translate(407.8,106.1)" d="M-0.85,-2.9 h1.7 v2.05 h2.05 v1.7 h-2.05 v2.05 h-1.7 v-2.05 h-2.05 v-1.7 h2.05 z" fill="#0000ff" stroke="#000" stroke-width="1.0"/>
<path transform="translate(402,109)" d="M-0.85,-2.9 h1.7 v2.05 h2.05 v1.7 h-2.05 v2.05 h-1.7 v-2.05 h-2.05 v-1.7 h2.05 z" fill="#0000ff" stroke="#000" stroke-width="1.0"/>
<path transform="translate(394,111.2)" d="M-0.85,-2.9 h1.7 v2.05 h2.05 v1.7 h-2.05 v2.05 h-1.7 v-2.05 h-2.05 v-1.7 h2.05 z" fill="#0000ff" stroke="#000" stroke-width="1.0"/>
<path transform="translate(386.7,112.6)" d="M-0.85,-2.9 h1.7 v2.05 h2.05 v1.7 h-2.05 v2.05 h-1.7 v-2.05 h-2.05 v-1.7 h2.05 z" fill="#0000ff" stroke="#000" stroke-width="1.0"/>
<path transform="translate(373.6,113.4)" d="M-0.85,-2.9 h1.7 v2.05 h2.05 v1.7 h-2.05 v2.05 h-1.7 v-2.05 h-2.05 v-1.7 h2.05 z" fill="#0000ff" stroke="#000" stroke-width="1.0"/>
<path transform="translate(399.1,112.6)" d="M-0.85,-2.9 h1.7 v2.05 h2.05 v1.7 h-2.05 v2.05 h-1.7 v-2.05 h-2.05 v-1.7 h2.05 z" fill="#0000ff" stroke="#000" stroke-width="1.0"/>
<line x1="330.6" y1="189.3" x2="542.9" y2="9.7" stroke="#8a8a8a" stroke-width="0.9"/>
<line x1="344.4" y1="172.6" x2="420" y2="106.3" stroke="#000" stroke-width="1.3"/>
<line x1="420" y1="106.3" x2="514.5" y2="23.5" stroke="#000" stroke-width="1.3" stroke-dasharray="2.3 1.3"/>
<line x1="344.4" y1="157.7" x2="511.1" y2="38.7" stroke="#ff0000" stroke-width="2.4" stroke-dasharray="7.3 4.26"/>
<path transform="translate(97.6,308.2)" d="M0,-3.85 L2.35,0 L0,3.85 L-2.35,0 Z" fill="#0000ff" stroke="#000" stroke-width="0.65"/>
<path transform="translate(92.7,319.4)" d="M0,-3.85 L2.35,0 L0,3.85 L-2.35,0 Z" fill="#0000ff" stroke="#000" stroke-width="0.65"/>
<path transform="translate(95.7,322)" d="M0,-3.85 L2.35,0 L0,3.85 L-2.35,0 Z" fill="#0000ff" stroke="#000" stroke-width="0.65"/>
<path transform="translate(90.8,323.3)" d="M0,-3.85 L2.35,0 L0,3.85 L-2.35,0 Z" fill="#0000ff" stroke="#000" stroke-width="0.65"/>
<path transform="translate(86.1,328.6)" d="M0,-3.85 L2.35,0 L0,3.85 L-2.35,0 Z" fill="#0000ff" stroke="#000" stroke-width="0.65"/>
<path transform="translate(91.7,329.6)" d="M0,-3.85 L2.35,0 L0,3.85 L-2.35,0 Z" fill="#0000ff" stroke="#000" stroke-width="0.65"/>
<path transform="translate(94.7,330.6)" d="M0,-3.85 L2.35,0 L0,3.85 L-2.35,0 Z" fill="#0000ff" stroke="#000" stroke-width="0.65"/>
<path transform="translate(84,334.2)" d="M0,-3.85 L2.35,0 L0,3.85 L-2.35,0 Z" fill="#0000ff" stroke="#000" stroke-width="0.65"/>
<path transform="translate(94.7,334.7)" d="M0,-3.85 L2.35,0 L0,3.85 L-2.35,0 Z" fill="#0000ff" stroke="#000" stroke-width="0.65"/>
<path transform="translate(66.2,334.7)" d="M0,-3.85 L2.35,0 L0,3.85 L-2.35,0 Z" fill="#0000ff" stroke="#000" stroke-width="0.65"/>
<path transform="translate(70.3,334.2)" d="M0,-3.85 L2.35,0 L0,3.85 L-2.35,0 Z" fill="#0000ff" stroke="#000" stroke-width="0.65"/>
<path transform="translate(73.3,336.8)" d="M0,-3.85 L2.35,0 L0,3.85 L-2.35,0 Z" fill="#0000ff" stroke="#000" stroke-width="0.65"/>
<path transform="translate(78.4,337.3)" d="M0,-3.85 L2.35,0 L0,3.85 L-2.35,0 Z" fill="#0000ff" stroke="#000" stroke-width="0.65"/>
<path transform="translate(66.4,335)" d="M0,-3.85 L2.35,0 L0,3.85 L-2.35,0 Z" fill="#0000ff" stroke="#000" stroke-width="0.65"/>
<path transform="translate(70,334.1)" d="M0,-3.85 L2.35,0 L0,3.85 L-2.35,0 Z" fill="#0000ff" stroke="#000" stroke-width="0.65"/>
<path transform="translate(73.2,336.8)" d="M0,-3.85 L2.35,0 L0,3.85 L-2.35,0 Z" fill="#0000ff" stroke="#000" stroke-width="0.65"/>
<path transform="translate(78.2,337.3)" d="M0,-3.85 L2.35,0 L0,3.85 L-2.35,0 Z" fill="#0000ff" stroke="#000" stroke-width="0.65"/>
<path transform="translate(75.9,341.8)" d="M0,-3.85 L2.35,0 L0,3.85 L-2.35,0 Z" fill="#0000ff" stroke="#000" stroke-width="0.65"/>
<path transform="translate(66.4,343.6)" d="M0,-3.85 L2.35,0 L0,3.85 L-2.35,0 Z" fill="#0000ff" stroke="#000" stroke-width="0.65"/>
<path transform="translate(69.5,345.5)" d="M0,-3.85 L2.35,0 L0,3.85 L-2.35,0 Z" fill="#0000ff" stroke="#000" stroke-width="0.65"/>
<path transform="translate(70.9,347.7)" d="M0,-3.85 L2.35,0 L0,3.85 L-2.35,0 Z" fill="#0000ff" stroke="#000" stroke-width="0.65"/>
<path transform="translate(73.2,352.7)" d="M0,-3.85 L2.35,0 L0,3.85 L-2.35,0 Z" fill="#0000ff" stroke="#000" stroke-width="0.65"/>
<path transform="translate(66.4,357.7)" d="M0,-3.85 L2.35,0 L0,3.85 L-2.35,0 Z" fill="#0000ff" stroke="#000" stroke-width="0.65"/>
<path transform="translate(74.5,361.4)" d="M0,-3.85 L2.35,0 L0,3.85 L-2.35,0 Z" fill="#0000ff" stroke="#000" stroke-width="0.65"/>
<path transform="translate(79.1,354.1)" d="M0,-3.85 L2.35,0 L0,3.85 L-2.35,0 Z" fill="#0000ff" stroke="#000" stroke-width="0.65"/>
<path transform="translate(84.1,335)" d="M0,-3.85 L2.35,0 L0,3.85 L-2.35,0 Z" fill="#0000ff" stroke="#000" stroke-width="0.65"/>
<path transform="translate(86.4,343.2)" d="M0,-3.85 L2.35,0 L0,3.85 L-2.35,0 Z" fill="#0000ff" stroke="#000" stroke-width="0.65"/>
<path transform="translate(89.1,340.9)" d="M0,-3.85 L2.35,0 L0,3.85 L-2.35,0 Z" fill="#0000ff" stroke="#000" stroke-width="0.65"/>
<path transform="translate(90,331.8)" d="M0,-3.85 L2.35,0 L0,3.85 L-2.35,0 Z" fill="#0000ff" stroke="#000" stroke-width="0.65"/>
<path transform="translate(95,335)" d="M0,-3.85 L2.35,0 L0,3.85 L-2.35,0 Z" fill="#0000ff" stroke="#000" stroke-width="0.65"/>
<path transform="translate(95,343.2)" d="M0,-3.85 L2.35,0 L0,3.85 L-2.35,0 Z" fill="#0000ff" stroke="#000" stroke-width="0.65"/>
<path transform="translate(89.5,346.4)" d="M0,-3.85 L2.35,0 L0,3.85 L-2.35,0 Z" fill="#0000ff" stroke="#000" stroke-width="0.65"/>
<path transform="translate(86.8,352.3)" d="M0,-3.85 L2.35,0 L0,3.85 L-2.35,0 Z" fill="#0000ff" stroke="#000" stroke-width="0.65"/>
<path transform="translate(85,355.5)" d="M0,-3.85 L2.35,0 L0,3.85 L-2.35,0 Z" fill="#0000ff" stroke="#000" stroke-width="0.65"/>
<path transform="translate(82.3,360)" d="M0,-3.85 L2.35,0 L0,3.85 L-2.35,0 Z" fill="#0000ff" stroke="#000" stroke-width="0.65"/>
<path transform="translate(79.1,362.7)" d="M0,-3.85 L2.35,0 L0,3.85 L-2.35,0 Z" fill="#0000ff" stroke="#000" stroke-width="0.65"/>
<path transform="translate(85.9,365.5)" d="M0,-3.85 L2.35,0 L0,3.85 L-2.35,0 Z" fill="#0000ff" stroke="#000" stroke-width="0.65"/>
<path transform="translate(91.4,360.9)" d="M0,-3.85 L2.35,0 L0,3.85 L-2.35,0 Z" fill="#0000ff" stroke="#000" stroke-width="0.65"/>
<path transform="translate(96.8,349.1)" d="M0,-3.85 L2.35,0 L0,3.85 L-2.35,0 Z" fill="#0000ff" stroke="#000" stroke-width="0.65"/>
<path transform="translate(99.5,353.6)" d="M0,-3.85 L2.35,0 L0,3.85 L-2.35,0 Z" fill="#0000ff" stroke="#000" stroke-width="0.65"/>
<path transform="translate(102.3,344.5)" d="M0,-3.85 L2.35,0 L0,3.85 L-2.35,0 Z" fill="#0000ff" stroke="#000" stroke-width="0.65"/>
<path transform="translate(98.2,359.1)" d="M0,-3.85 L2.35,0 L0,3.85 L-2.35,0 Z" fill="#0000ff" stroke="#000" stroke-width="0.65"/>
<path transform="translate(94.1,357.3)" d="M0,-3.85 L2.35,0 L0,3.85 L-2.35,0 Z" fill="#0000ff" stroke="#000" stroke-width="0.65"/>
<path transform="translate(99.5,363.6)" d="M0,-3.85 L2.35,0 L0,3.85 L-2.35,0 Z" fill="#0000ff" stroke="#000" stroke-width="0.65"/>
<path transform="translate(103.2,333.6)" d="M0,-3.85 L2.35,0 L0,3.85 L-2.35,0 Z" fill="#0000ff" stroke="#000" stroke-width="0.65"/>
<path transform="translate(104.1,350.9)" d="M0,-3.85 L2.35,0 L0,3.85 L-2.35,0 Z" fill="#0000ff" stroke="#000" stroke-width="0.65"/>
<path transform="translate(66.2,360.5)" d="M0,-3.85 L2.35,0 L0,3.85 L-2.35,0 Z" fill="#0000ff" stroke="#000" stroke-width="0.65"/>
<path transform="translate(74.3,362.5)" d="M0,-3.85 L2.35,0 L0,3.85 L-2.35,0 Z" fill="#0000ff" stroke="#000" stroke-width="0.65"/>
<path transform="translate(79.4,363.6)" d="M0,-3.85 L2.35,0 L0,3.85 L-2.35,0 Z" fill="#0000ff" stroke="#000" stroke-width="0.65"/>
<path transform="translate(82.5,361)" d="M0,-3.85 L2.35,0 L0,3.85 L-2.35,0 Z" fill="#0000ff" stroke="#000" stroke-width="0.65"/>
<path transform="translate(85.5,365.6)" d="M0,-3.85 L2.35,0 L0,3.85 L-2.35,0 Z" fill="#0000ff" stroke="#000" stroke-width="0.65"/>
<path transform="translate(84.5,368.1)" d="M0,-3.85 L2.35,0 L0,3.85 L-2.35,0 Z" fill="#0000ff" stroke="#000" stroke-width="0.65"/>
<path transform="translate(91.7,363.1)" d="M0,-3.85 L2.35,0 L0,3.85 L-2.35,0 Z" fill="#0000ff" stroke="#000" stroke-width="0.65"/>
<path transform="translate(91.2,367.6)" d="M0,-3.85 L2.35,0 L0,3.85 L-2.35,0 Z" fill="#0000ff" stroke="#000" stroke-width="0.65"/>
<path transform="translate(97.8,362.5)" d="M0,-3.85 L2.35,0 L0,3.85 L-2.35,0 Z" fill="#0000ff" stroke="#000" stroke-width="0.65"/>
<path transform="translate(99.8,363.6)" d="M0,-3.85 L2.35,0 L0,3.85 L-2.35,0 Z" fill="#0000ff" stroke="#000" stroke-width="0.65"/>
<path transform="translate(73.3,369.7)" d="M0,-3.85 L2.35,0 L0,3.85 L-2.35,0 Z" fill="#0000ff" stroke="#000" stroke-width="0.65"/>
<path transform="translate(76.4,370.7)" d="M0,-3.85 L2.35,0 L0,3.85 L-2.35,0 Z" fill="#0000ff" stroke="#000" stroke-width="0.65"/>
<path transform="translate(72.8,375.8)" d="M0,-3.85 L2.35,0 L0,3.85 L-2.35,0 Z" fill="#0000ff" stroke="#000" stroke-width="0.65"/>
<path transform="translate(77.4,374.8)" d="M0,-3.85 L2.35,0 L0,3.85 L-2.35,0 Z" fill="#0000ff" stroke="#000" stroke-width="0.65"/>
<path transform="translate(75.4,379.9)" d="M0,-3.85 L2.35,0 L0,3.85 L-2.35,0 Z" fill="#0000ff" stroke="#000" stroke-width="0.65"/>
<path transform="translate(80,378.3)" d="M0,-3.85 L2.35,0 L0,3.85 L-2.35,0 Z" fill="#0000ff" stroke="#000" stroke-width="0.65"/>
<path transform="translate(84.5,379.9)" d="M0,-3.85 L2.35,0 L0,3.85 L-2.35,0 Z" fill="#0000ff" stroke="#000" stroke-width="0.65"/>
<path transform="translate(96.8,373.2)" d="M0,-3.85 L2.35,0 L0,3.85 L-2.35,0 Z" fill="#0000ff" stroke="#000" stroke-width="0.65"/>
<path transform="translate(104.4,383.4)" d="M0,-3.85 L2.35,0 L0,3.85 L-2.35,0 Z" fill="#0000ff" stroke="#000" stroke-width="0.65"/>
<path transform="translate(69.3,387.5)" d="M0,-3.85 L2.35,0 L0,3.85 L-2.35,0 Z" fill="#0000ff" stroke="#000" stroke-width="0.65"/>
<path transform="translate(69.3,392.6)" d="M0,-3.85 L2.35,0 L0,3.85 L-2.35,0 Z" fill="#0000ff" stroke="#000" stroke-width="0.65"/>
<path transform="translate(75.4,395.1)" d="M0,-3.85 L2.35,0 L0,3.85 L-2.35,0 Z" fill="#0000ff" stroke="#000" stroke-width="0.65"/>
<path transform="translate(84.5,393.1)" d="M0,-3.85 L2.35,0 L0,3.85 L-2.35,0 Z" fill="#0000ff" stroke="#000" stroke-width="0.65"/>
<path transform="translate(141.3,295.7)" d="M0,-3.85 L2.35,0 L0,3.85 L-2.35,0 Z" fill="#0000ff" stroke="#000" stroke-width="0.65"/>
<path transform="translate(123.3,299.8)" d="M0,-3.85 L2.35,0 L0,3.85 L-2.35,0 Z" fill="#0000ff" stroke="#000" stroke-width="0.65"/>
<path transform="translate(131.2,301.1)" d="M0,-3.85 L2.35,0 L0,3.85 L-2.35,0 Z" fill="#0000ff" stroke="#000" stroke-width="0.65"/>
<path transform="translate(130.4,305.4)" d="M0,-3.85 L2.35,0 L0,3.85 L-2.35,0 Z" fill="#0000ff" stroke="#000" stroke-width="0.65"/>
<path transform="translate(116.9,307.4)" d="M0,-3.85 L2.35,0 L0,3.85 L-2.35,0 Z" fill="#0000ff" stroke="#000" stroke-width="0.65"/>
<path transform="translate(97.9,308.2)" d="M0,-3.85 L2.35,0 L0,3.85 L-2.35,0 Z" fill="#0000ff" stroke="#000" stroke-width="0.65"/>
<path transform="translate(126.4,315.5)" d="M0,-3.85 L2.35,0 L0,3.85 L-2.35,0 Z" fill="#0000ff" stroke="#000" stroke-width="0.65"/>
<path transform="translate(117.6,316.6)" d="M0,-3.85 L2.35,0 L0,3.85 L-2.35,0 Z" fill="#0000ff" stroke="#000" stroke-width="0.65"/>
<path transform="translate(141.8,312)" d="M0,-3.85 L2.35,0 L0,3.85 L-2.35,0 Z" fill="#0000ff" stroke="#000" stroke-width="0.65"/>
<path transform="translate(143.4,314.5)" d="M0,-3.85 L2.35,0 L0,3.85 L-2.35,0 Z" fill="#0000ff" stroke="#000" stroke-width="0.65"/>
<path transform="translate(115.9,321.2)" d="M0,-3.85 L2.35,0 L0,3.85 L-2.35,0 Z" fill="#0000ff" stroke="#000" stroke-width="0.65"/>
<path transform="translate(115.4,325.2)" d="M0,-3.85 L2.35,0 L0,3.85 L-2.35,0 Z" fill="#0000ff" stroke="#000" stroke-width="0.65"/>
<path transform="translate(96,321.7)" d="M0,-3.85 L2.35,0 L0,3.85 L-2.35,0 Z" fill="#0000ff" stroke="#000" stroke-width="0.65"/>
<path transform="translate(105.2,328.3)" d="M0,-3.85 L2.35,0 L0,3.85 L-2.35,0 Z" fill="#0000ff" stroke="#000" stroke-width="0.65"/>
<path transform="translate(127.6,325.7)" d="M0,-3.85 L2.35,0 L0,3.85 L-2.35,0 Z" fill="#0000ff" stroke="#000" stroke-width="0.65"/>
<path transform="translate(130.6,328.3)" d="M0,-3.85 L2.35,0 L0,3.85 L-2.35,0 Z" fill="#0000ff" stroke="#000" stroke-width="0.65"/>
<path transform="translate(136.2,320.1)" d="M0,-3.85 L2.35,0 L0,3.85 L-2.35,0 Z" fill="#0000ff" stroke="#000" stroke-width="0.65"/>
<path transform="translate(134.2,324.7)" d="M0,-3.85 L2.35,0 L0,3.85 L-2.35,0 Z" fill="#0000ff" stroke="#000" stroke-width="0.65"/>
<path transform="translate(141.3,322.2)" d="M0,-3.85 L2.35,0 L0,3.85 L-2.35,0 Z" fill="#0000ff" stroke="#000" stroke-width="0.65"/>
<path transform="translate(105.1,330.1)" d="M0,-3.85 L2.35,0 L0,3.85 L-2.35,0 Z" fill="#0000ff" stroke="#000" stroke-width="0.65"/>
<path transform="translate(115.3,326.5)" d="M0,-3.85 L2.35,0 L0,3.85 L-2.35,0 Z" fill="#0000ff" stroke="#000" stroke-width="0.65"/>
<path transform="translate(112.2,333.7)" d="M0,-3.85 L2.35,0 L0,3.85 L-2.35,0 Z" fill="#0000ff" stroke="#000" stroke-width="0.65"/>
<path transform="translate(120.4,333.7)" d="M0,-3.85 L2.35,0 L0,3.85 L-2.35,0 Z" fill="#0000ff" stroke="#000" stroke-width="0.65"/>
<path transform="translate(127.5,327)" d="M0,-3.85 L2.35,0 L0,3.85 L-2.35,0 Z" fill="#0000ff" stroke="#000" stroke-width="0.65"/>
<path transform="translate(130.5,328.6)" d="M0,-3.85 L2.35,0 L0,3.85 L-2.35,0 Z" fill="#0000ff" stroke="#000" stroke-width="0.65"/>
<path transform="translate(134.6,326)" d="M0,-3.85 L2.35,0 L0,3.85 L-2.35,0 Z" fill="#0000ff" stroke="#000" stroke-width="0.65"/>
<path transform="translate(140.2,330.6)" d="M0,-3.85 L2.35,0 L0,3.85 L-2.35,0 Z" fill="#0000ff" stroke="#000" stroke-width="0.65"/>
<path transform="translate(146.8,332.6)" d="M0,-3.85 L2.35,0 L0,3.85 L-2.35,0 Z" fill="#0000ff" stroke="#000" stroke-width="0.65"/>
<path transform="translate(147.9,327)" d="M0,-3.85 L2.35,0 L0,3.85 L-2.35,0 Z" fill="#0000ff" stroke="#000" stroke-width="0.65"/>
<path transform="translate(101,342.3)" d="M0,-3.85 L2.35,0 L0,3.85 L-2.35,0 Z" fill="#0000ff" stroke="#000" stroke-width="0.65"/>
<path transform="translate(104.6,341.8)" d="M0,-3.85 L2.35,0 L0,3.85 L-2.35,0 Z" fill="#0000ff" stroke="#000" stroke-width="0.65"/>
<path transform="translate(104.6,347.9)" d="M0,-3.85 L2.35,0 L0,3.85 L-2.35,0 Z" fill="#0000ff" stroke="#000" stroke-width="0.65"/>
<path transform="translate(110.2,344.9)" d="M0,-3.85 L2.35,0 L0,3.85 L-2.35,0 Z" fill="#0000ff" stroke="#000" stroke-width="0.65"/>
<path transform="translate(109.7,349.4)" d="M0,-3.85 L2.35,0 L0,3.85 L-2.35,0 Z" fill="#0000ff" stroke="#000" stroke-width="0.65"/>
<path transform="translate(101,354)" d="M0,-3.85 L2.35,0 L0,3.85 L-2.35,0 Z" fill="#0000ff" stroke="#000" stroke-width="0.65"/>
<path transform="translate(126.5,341.8)" d="M0,-3.85 L2.35,0 L0,3.85 L-2.35,0 Z" fill="#0000ff" stroke="#000" stroke-width="0.65"/>
<path transform="translate(123.9,347.9)" d="M0,-3.85 L2.35,0 L0,3.85 L-2.35,0 Z" fill="#0000ff" stroke="#000" stroke-width="0.65"/>
<path transform="translate(127.5,354.5)" d="M0,-3.85 L2.35,0 L0,3.85 L-2.35,0 Z" fill="#0000ff" stroke="#000" stroke-width="0.65"/>
<path transform="translate(111.7,359.1)" d="M0,-3.85 L2.35,0 L0,3.85 L-2.35,0 Z" fill="#0000ff" stroke="#000" stroke-width="0.65"/>
<path transform="translate(114.8,361.2)" d="M0,-3.85 L2.35,0 L0,3.85 L-2.35,0 Z" fill="#0000ff" stroke="#000" stroke-width="0.65"/>
<path transform="translate(105.6,364.2)" d="M0,-3.85 L2.35,0 L0,3.85 L-2.35,0 Z" fill="#0000ff" stroke="#000" stroke-width="0.65"/>
<path transform="translate(100.5,362.7)" d="M0,-3.85 L2.35,0 L0,3.85 L-2.35,0 Z" fill="#0000ff" stroke="#000" stroke-width="0.65"/>
<path transform="translate(185.5,268.1)" d="M0,-3.85 L2.35,0 L0,3.85 L-2.35,0 Z" fill="#0000ff" stroke="#000" stroke-width="0.65"/>
<path transform="translate(186.1,269.9)" d="M0,-3.85 L2.35,0 L0,3.85 L-2.35,0 Z" fill="#0000ff" stroke="#000" stroke-width="0.65"/>
<path transform="translate(179.9,273.7)" d="M0,-3.85 L2.35,0 L0,3.85 L-2.35,0 Z" fill="#0000ff" stroke="#000" stroke-width="0.65"/>
<path transform="translate(176.1,277.4)" d="M0,-3.85 L2.35,0 L0,3.85 L-2.35,0 Z" fill="#0000ff" stroke="#000" stroke-width="0.65"/>
<path transform="translate(174.2,278.6)" d="M0,-3.85 L2.35,0 L0,3.85 L-2.35,0 Z" fill="#0000ff" stroke="#000" stroke-width="0.65"/>
<path transform="translate(162.4,281.1)" d="M0,-3.85 L2.35,0 L0,3.85 L-2.35,0 Z" fill="#0000ff" stroke="#000" stroke-width="0.65"/>
<path transform="translate(165.5,286.7)" d="M0,-3.85 L2.35,0 L0,3.85 L-2.35,0 Z" fill="#0000ff" stroke="#000" stroke-width="0.65"/>
<path transform="translate(152.5,288)" d="M0,-3.85 L2.35,0 L0,3.85 L-2.35,0 Z" fill="#0000ff" stroke="#000" stroke-width="0.65"/>
<path transform="translate(160.5,293)" d="M0,-3.85 L2.35,0 L0,3.85 L-2.35,0 Z" fill="#0000ff" stroke="#000" stroke-width="0.65"/>
<path transform="translate(141.9,295.5)" d="M0,-3.85 L2.35,0 L0,3.85 L-2.35,0 Z" fill="#0000ff" stroke="#000" stroke-width="0.65"/>
<path transform="translate(182.3,286.7)" d="M0,-3.85 L2.35,0 L0,3.85 L-2.35,0 Z" fill="#0000ff" stroke="#000" stroke-width="0.65"/>
<path transform="translate(189.2,285.5)" d="M0,-3.85 L2.35,0 L0,3.85 L-2.35,0 Z" fill="#0000ff" stroke="#000" stroke-width="0.65"/>
<path transform="translate(194.2,285.5)" d="M0,-3.85 L2.35,0 L0,3.85 L-2.35,0 Z" fill="#0000ff" stroke="#000" stroke-width="0.65"/>
<path transform="translate(198.5,286.1)" d="M0,-3.85 L2.35,0 L0,3.85 L-2.35,0 Z" fill="#0000ff" stroke="#000" stroke-width="0.65"/>
<path transform="translate(181.7,291.7)" d="M0,-3.85 L2.35,0 L0,3.85 L-2.35,0 Z" fill="#0000ff" stroke="#000" stroke-width="0.65"/>
<path transform="translate(181.1,296.1)" d="M0,-3.85 L2.35,0 L0,3.85 L-2.35,0 Z" fill="#0000ff" stroke="#000" stroke-width="0.65"/>
<path transform="translate(176.1,296.1)" d="M0,-3.85 L2.35,0 L0,3.85 L-2.35,0 Z" fill="#0000ff" stroke="#000" stroke-width="0.65"/>
<path transform="translate(183.6,298)" d="M0,-3.85 L2.35,0 L0,3.85 L-2.35,0 Z" fill="#0000ff" stroke="#000" stroke-width="0.65"/>
<path transform="translate(192.9,294.2)" d="M0,-3.85 L2.35,0 L0,3.85 L-2.35,0 Z" fill="#0000ff" stroke="#000" stroke-width="0.65"/>
<path transform="translate(191,299.2)" d="M0,-3.85 L2.35,0 L0,3.85 L-2.35,0 Z" fill="#0000ff" stroke="#000" stroke-width="0.65"/>
<path transform="translate(164.9,302.3)" d="M0,-3.85 L2.35,0 L0,3.85 L-2.35,0 Z" fill="#0000ff" stroke="#000" stroke-width="0.65"/>
<path transform="translate(174.9,302.3)" d="M0,-3.85 L2.35,0 L0,3.85 L-2.35,0 Z" fill="#0000ff" stroke="#000" stroke-width="0.65"/>
<path transform="translate(160.5,295.6)" d="M0,-3.85 L2.35,0 L0,3.85 L-2.35,0 Z" fill="#0000ff" stroke="#000" stroke-width="0.65"/>
<path transform="translate(175.5,296.9)" d="M0,-3.85 L2.35,0 L0,3.85 L-2.35,0 Z" fill="#0000ff" stroke="#000" stroke-width="0.65"/>
<path transform="translate(182.3,297.5)" d="M0,-3.85 L2.35,0 L0,3.85 L-2.35,0 Z" fill="#0000ff" stroke="#000" stroke-width="0.65"/>
<path transform="translate(191.1,299.4)" d="M0,-3.85 L2.35,0 L0,3.85 L-2.35,0 Z" fill="#0000ff" stroke="#000" stroke-width="0.65"/>
<path transform="translate(164.9,303.1)" d="M0,-3.85 L2.35,0 L0,3.85 L-2.35,0 Z" fill="#0000ff" stroke="#000" stroke-width="0.65"/>
<path transform="translate(169.9,306.8)" d="M0,-3.85 L2.35,0 L0,3.85 L-2.35,0 Z" fill="#0000ff" stroke="#000" stroke-width="0.65"/>
<path transform="translate(175.5,303.7)" d="M0,-3.85 L2.35,0 L0,3.85 L-2.35,0 Z" fill="#0000ff" stroke="#000" stroke-width="0.65"/>
<path transform="translate(165.5,308.1)" d="M0,-3.85 L2.35,0 L0,3.85 L-2.35,0 Z" fill="#0000ff" stroke="#000" stroke-width="0.65"/>
<path transform="translate(154.9,307.5)" d="M0,-3.85 L2.35,0 L0,3.85 L-2.35,0 Z" fill="#0000ff" stroke="#000" stroke-width="0.65"/>
<path transform="translate(158.7,311.2)" d="M0,-3.85 L2.35,0 L0,3.85 L-2.35,0 Z" fill="#0000ff" stroke="#000" stroke-width="0.65"/>
<path transform="translate(161.8,309.9)" d="M0,-3.85 L2.35,0 L0,3.85 L-2.35,0 Z" fill="#0000ff" stroke="#000" stroke-width="0.65"/>
<path transform="translate(177.4,309.3)" d="M0,-3.85 L2.35,0 L0,3.85 L-2.35,0 Z" fill="#0000ff" stroke="#000" stroke-width="0.65"/>
<path transform="translate(187.3,305)" d="M0,-3.85 L2.35,0 L0,3.85 L-2.35,0 Z" fill="#0000ff" stroke="#000" stroke-width="0.65"/>
<path transform="translate(142.5,312.4)" d="M0,-3.85 L2.35,0 L0,3.85 L-2.35,0 Z" fill="#0000ff" stroke="#000" stroke-width="0.65"/>
<path transform="translate(146.2,313.7)" d="M0,-3.85 L2.35,0 L0,3.85 L-2.35,0 Z" fill="#0000ff" stroke="#000" stroke-width="0.65"/>
<path transform="translate(149.3,313.7)" d="M0,-3.85 L2.35,0 L0,3.85 L-2.35,0 Z" fill="#0000ff" stroke="#000" stroke-width="0.65"/>
<path transform="translate(158.1,316.8)" d="M0,-3.85 L2.35,0 L0,3.85 L-2.35,0 Z" fill="#0000ff" stroke="#000" stroke-width="0.65"/>
<path transform="translate(152.5,319.9)" d="M0,-3.85 L2.35,0 L0,3.85 L-2.35,0 Z" fill="#0000ff" stroke="#000" stroke-width="0.65"/>
<path transform="translate(149.3,321.2)" d="M0,-3.85 L2.35,0 L0,3.85 L-2.35,0 Z" fill="#0000ff" stroke="#000" stroke-width="0.65"/>
<path transform="translate(141.9,321.8)" d="M0,-3.85 L2.35,0 L0,3.85 L-2.35,0 Z" fill="#0000ff" stroke="#000" stroke-width="0.65"/>
<path transform="translate(184.2,313.7)" d="M0,-3.85 L2.35,0 L0,3.85 L-2.35,0 Z" fill="#0000ff" stroke="#000" stroke-width="0.65"/>
<path transform="translate(188.6,313.7)" d="M0,-3.85 L2.35,0 L0,3.85 L-2.35,0 Z" fill="#0000ff" stroke="#000" stroke-width="0.65"/>
<path transform="translate(193.5,316.2)" d="M0,-3.85 L2.35,0 L0,3.85 L-2.35,0 Z" fill="#0000ff" stroke="#000" stroke-width="0.65"/>
<path transform="translate(186.1,319.9)" d="M0,-3.85 L2.35,0 L0,3.85 L-2.35,0 Z" fill="#0000ff" stroke="#000" stroke-width="0.65"/>
<path transform="translate(171.1,318.7)" d="M0,-3.85 L2.35,0 L0,3.85 L-2.35,0 Z" fill="#0000ff" stroke="#000" stroke-width="0.65"/>
<path transform="translate(175.5,318)" d="M0,-3.85 L2.35,0 L0,3.85 L-2.35,0 Z" fill="#0000ff" stroke="#000" stroke-width="0.65"/>
<path transform="translate(158.7,324.9)" d="M0,-3.85 L2.35,0 L0,3.85 L-2.35,0 Z" fill="#0000ff" stroke="#000" stroke-width="0.65"/>
<path transform="translate(147.5,327.4)" d="M0,-3.85 L2.35,0 L0,3.85 L-2.35,0 Z" fill="#0000ff" stroke="#000" stroke-width="0.65"/>
<path transform="translate(142.5,330.5)" d="M0,-3.85 L2.35,0 L0,3.85 L-2.35,0 Z" fill="#0000ff" stroke="#000" stroke-width="0.65"/>
<path transform="translate(146.8,332.4)" d="M0,-3.85 L2.35,0 L0,3.85 L-2.35,0 Z" fill="#0000ff" stroke="#000" stroke-width="0.65"/>
<path transform="translate(163.7,328)" d="M0,-3.85 L2.35,0 L0,3.85 L-2.35,0 Z" fill="#0000ff" stroke="#000" stroke-width="0.65"/>
<path transform="translate(160.5,333)" d="M0,-3.85 L2.35,0 L0,3.85 L-2.35,0 Z" fill="#0000ff" stroke="#000" stroke-width="0.65"/>
<path transform="translate(166.2,334.2)" d="M0,-3.85 L2.35,0 L0,3.85 L-2.35,0 Z" fill="#0000ff" stroke="#000" stroke-width="0.65"/>
<path transform="translate(173,336.1)" d="M0,-3.85 L2.35,0 L0,3.85 L-2.35,0 Z" fill="#0000ff" stroke="#000" stroke-width="0.65"/>
<path transform="translate(191.1,333)" d="M0,-3.85 L2.35,0 L0,3.85 L-2.35,0 Z" fill="#0000ff" stroke="#000" stroke-width="0.65"/>
<path transform="translate(194.8,323)" d="M0,-3.85 L2.35,0 L0,3.85 L-2.35,0 Z" fill="#0000ff" stroke="#000" stroke-width="0.65"/>
<path transform="translate(198.5,324.9)" d="M0,-3.85 L2.35,0 L0,3.85 L-2.35,0 Z" fill="#0000ff" stroke="#000" stroke-width="0.65"/>
<path transform="translate(198.5,332.4)" d="M0,-3.85 L2.35,0 L0,3.85 L-2.35,0 Z" fill="#0000ff" stroke="#000" stroke-width="0.65"/>
<path transform="translate(153.1,341.7)" d="M0,-3.85 L2.35,0 L0,3.85 L-2.35,0 Z" fill="#0000ff" stroke="#000" stroke-width="0.65"/>
<path transform="translate(192.3,348.5)" d="M0,-3.85 L2.35,0 L0,3.85 L-2.35,0 Z" fill="#0000ff" stroke="#000" stroke-width="0.65"/>
<path transform="translate(179.4,349.6)" d="M0,-3.85 L2.35,0 L0,3.85 L-2.35,0 Z" fill="#0000ff" stroke="#000" stroke-width="0.65"/>
<path transform="translate(191.8,351.5)" d="M0,-3.85 L2.35,0 L0,3.85 L-2.35,0 Z" fill="#0000ff" stroke="#000" stroke-width="0.65"/>
<path transform="translate(179.4,360.6)" d="M0,-3.85 L2.35,0 L0,3.85 L-2.35,0 Z" fill="#0000ff" stroke="#000" stroke-width="0.65"/>
<path transform="translate(111.3,359.5)" d="M0,-3.85 L2.35,0 L0,3.85 L-2.35,0 Z" fill="#0000ff" stroke="#000" stroke-width="0.65"/>
<path transform="translate(114.7,361.2)" d="M0,-3.85 L2.35,0 L0,3.85 L-2.35,0 Z" fill="#0000ff" stroke="#000" stroke-width="0.65"/>
<path transform="translate(105.1,364)" d="M0,-3.85 L2.35,0 L0,3.85 L-2.35,0 Z" fill="#0000ff" stroke="#000" stroke-width="0.65"/>
<path transform="translate(101.1,362.4)" d="M0,-3.85 L2.35,0 L0,3.85 L-2.35,0 Z" fill="#0000ff" stroke="#000" stroke-width="0.65"/>
<path transform="translate(127.7,356.1)" d="M0,-3.85 L2.35,0 L0,3.85 L-2.35,0 Z" fill="#0000ff" stroke="#000" stroke-width="0.65"/>
<path transform="translate(107.4,372.9)" d="M0,-3.85 L2.35,0 L0,3.85 L-2.35,0 Z" fill="#0000ff" stroke="#000" stroke-width="0.65"/>
<path transform="translate(109.6,381)" d="M0,-3.85 L2.35,0 L0,3.85 L-2.35,0 Z" fill="#0000ff" stroke="#000" stroke-width="0.65"/>
<path transform="translate(105.1,383.8)" d="M0,-3.85 L2.35,0 L0,3.85 L-2.35,0 Z" fill="#0000ff" stroke="#000" stroke-width="0.65"/>
<path transform="translate(134.5,373.7)" d="M0,-3.85 L2.35,0 L0,3.85 L-2.35,0 Z" fill="#0000ff" stroke="#000" stroke-width="0.65"/>
<path transform="translate(130,394)" d="M0,-3.85 L2.35,0 L0,3.85 L-2.35,0 Z" fill="#0000ff" stroke="#000" stroke-width="0.65"/>
<path transform="translate(208.7,274.2)" d="M0,-3.85 L2.35,0 L0,3.85 L-2.35,0 Z" fill="#0000ff" stroke="#000" stroke-width="0.65"/>
<path transform="translate(204.3,281.7)" d="M0,-3.85 L2.35,0 L0,3.85 L-2.35,0 Z" fill="#0000ff" stroke="#000" stroke-width="0.65"/>
<path transform="translate(208.1,281)" d="M0,-3.85 L2.35,0 L0,3.85 L-2.35,0 Z" fill="#0000ff" stroke="#000" stroke-width="0.65"/>
<path transform="translate(210.5,282.9)" d="M0,-3.85 L2.35,0 L0,3.85 L-2.35,0 Z" fill="#0000ff" stroke="#000" stroke-width="0.65"/>
<path transform="translate(198.7,286)" d="M0,-3.85 L2.35,0 L0,3.85 L-2.35,0 Z" fill="#0000ff" stroke="#000" stroke-width="0.65"/>
<path transform="translate(207.4,286)" d="M0,-3.85 L2.35,0 L0,3.85 L-2.35,0 Z" fill="#0000ff" stroke="#000" stroke-width="0.65"/>
<path transform="translate(203.1,290.4)" d="M0,-3.85 L2.35,0 L0,3.85 L-2.35,0 Z" fill="#0000ff" stroke="#000" stroke-width="0.65"/>
<path transform="translate(222.4,282.3)" d="M0,-3.85 L2.35,0 L0,3.85 L-2.35,0 Z" fill="#0000ff" stroke="#000" stroke-width="0.65"/>
<path transform="translate(238.5,287)" d="M0,-3.85 L2.35,0 L0,3.85 L-2.35,0 Z" fill="#0000ff" stroke="#000" stroke-width="0.65"/>
<path transform="translate(226.1,292.9)" d="M0,-3.85 L2.35,0 L0,3.85 L-2.35,0 Z" fill="#0000ff" stroke="#000" stroke-width="0.65"/>
<path transform="translate(222.5,283.1)" d="M0,-3.85 L2.35,0 L0,3.85 L-2.35,0 Z" fill="#0000ff" stroke="#000" stroke-width="0.65"/>
<path transform="translate(238.8,287.2)" d="M0,-3.85 L2.35,0 L0,3.85 L-2.35,0 Z" fill="#0000ff" stroke="#000" stroke-width="0.65"/>
<path transform="translate(226.5,293.3)" d="M0,-3.85 L2.35,0 L0,3.85 L-2.35,0 Z" fill="#0000ff" stroke="#000" stroke-width="0.65"/>
<path transform="translate(229.3,296.7)" d="M0,-3.85 L2.35,0 L0,3.85 L-2.35,0 Z" fill="#0000ff" stroke="#000" stroke-width="0.65"/>
<path transform="translate(237.4,306.2)" d="M0,-3.85 L2.35,0 L0,3.85 L-2.35,0 Z" fill="#0000ff" stroke="#000" stroke-width="0.65"/>
<path transform="translate(246.7,304.2)" d="M0,-3.85 L2.35,0 L0,3.85 L-2.35,0 Z" fill="#0000ff" stroke="#000" stroke-width="0.65"/>
<path transform="translate(218.4,307.6)" d="M0,-3.85 L2.35,0 L0,3.85 L-2.35,0 Z" fill="#0000ff" stroke="#000" stroke-width="0.65"/>
<path transform="translate(219.1,310.3)" d="M0,-3.85 L2.35,0 L0,3.85 L-2.35,0 Z" fill="#0000ff" stroke="#000" stroke-width="0.65"/>
<path transform="translate(216.4,315.7)" d="M0,-3.85 L2.35,0 L0,3.85 L-2.35,0 Z" fill="#0000ff" stroke="#000" stroke-width="0.65"/>
<path transform="translate(194,285.7)" d="M0,-3.85 L2.35,0 L0,3.85 L-2.35,0 Z" fill="#0000ff" stroke="#000" stroke-width="0.65"/>
<path transform="translate(204.1,282.3)" d="M0,-3.85 L2.35,0 L0,3.85 L-2.35,0 Z" fill="#0000ff" stroke="#000" stroke-width="0.65"/>
<path transform="translate(210.4,284)" d="M0,-3.85 L2.35,0 L0,3.85 L-2.35,0 Z" fill="#0000ff" stroke="#000" stroke-width="0.65"/>
<path transform="translate(207.5,286.8)" d="M0,-3.85 L2.35,0 L0,3.85 L-2.35,0 Z" fill="#0000ff" stroke="#000" stroke-width="0.65"/>
<path transform="translate(204.1,290.2)" d="M0,-3.85 L2.35,0 L0,3.85 L-2.35,0 Z" fill="#0000ff" stroke="#000" stroke-width="0.65"/>
<path transform="translate(200.7,293)" d="M0,-3.85 L2.35,0 L0,3.85 L-2.35,0 Z" fill="#0000ff" stroke="#000" stroke-width="0.65"/>
<path transform="translate(193.4,294.1)" d="M0,-3.85 L2.35,0 L0,3.85 L-2.35,0 Z" fill="#0000ff" stroke="#000" stroke-width="0.65"/>
<path transform="translate(190.6,299.2)" d="M0,-3.85 L2.35,0 L0,3.85 L-2.35,0 Z" fill="#0000ff" stroke="#000" stroke-width="0.65"/>
<path transform="translate(200.7,298.7)" d="M0,-3.85 L2.35,0 L0,3.85 L-2.35,0 Z" fill="#0000ff" stroke="#000" stroke-width="0.65"/>
<path transform="translate(222.2,282.8)" d="M0,-3.85 L2.35,0 L0,3.85 L-2.35,0 Z" fill="#0000ff" stroke="#000" stroke-width="0.65"/>
<path transform="translate(226.2,293)" d="M0,-3.85 L2.35,0 L0,3.85 L-2.35,0 Z" fill="#0000ff" stroke="#000" stroke-width="0.65"/>
<path transform="translate(229.6,297)" d="M0,-3.85 L2.35,0 L0,3.85 L-2.35,0 Z" fill="#0000ff" stroke="#000" stroke-width="0.65"/>
<path transform="translate(238.1,287.4)" d="M0,-3.85 L2.35,0 L0,3.85 L-2.35,0 Z" fill="#0000ff" stroke="#000" stroke-width="0.65"/>
<path transform="translate(199,307.1)" d="M0,-3.85 L2.35,0 L0,3.85 L-2.35,0 Z" fill="#0000ff" stroke="#000" stroke-width="0.65"/>
<path transform="translate(202.4,308.3)" d="M0,-3.85 L2.35,0 L0,3.85 L-2.35,0 Z" fill="#0000ff" stroke="#000" stroke-width="0.65"/>
<path transform="translate(204.7,311.1)" d="M0,-3.85 L2.35,0 L0,3.85 L-2.35,0 Z" fill="#0000ff" stroke="#000" stroke-width="0.65"/>
<path transform="translate(208.7,313.4)" d="M0,-3.85 L2.35,0 L0,3.85 L-2.35,0 Z" fill="#0000ff" stroke="#000" stroke-width="0.65"/>
<path transform="translate(200.7,313.9)" d="M0,-3.85 L2.35,0 L0,3.85 L-2.35,0 Z" fill="#0000ff" stroke="#000" stroke-width="0.65"/>
<path transform="translate(193.4,315.6)" d="M0,-3.85 L2.35,0 L0,3.85 L-2.35,0 Z" fill="#0000ff" stroke="#000" stroke-width="0.65"/>
<path transform="translate(218.3,307.1)" d="M0,-3.85 L2.35,0 L0,3.85 L-2.35,0 Z" fill="#0000ff" stroke="#000" stroke-width="0.65"/>
<path transform="translate(218.8,310.5)" d="M0,-3.85 L2.35,0 L0,3.85 L-2.35,0 Z" fill="#0000ff" stroke="#000" stroke-width="0.65"/>
<path transform="translate(216,315.6)" d="M0,-3.85 L2.35,0 L0,3.85 L-2.35,0 Z" fill="#0000ff" stroke="#000" stroke-width="0.65"/>
<path transform="translate(236.9,306)" d="M0,-3.85 L2.35,0 L0,3.85 L-2.35,0 Z" fill="#0000ff" stroke="#000" stroke-width="0.65"/>
<path transform="translate(195.7,322.4)" d="M0,-3.85 L2.35,0 L0,3.85 L-2.35,0 Z" fill="#0000ff" stroke="#000" stroke-width="0.65"/>
<path transform="translate(199,325.2)" d="M0,-3.85 L2.35,0 L0,3.85 L-2.35,0 Z" fill="#0000ff" stroke="#000" stroke-width="0.65"/>
<path transform="translate(204.7,324.1)" d="M0,-3.85 L2.35,0 L0,3.85 L-2.35,0 Z" fill="#0000ff" stroke="#000" stroke-width="0.65"/>
<path transform="translate(195.1,324)" d="M0,-3.85 L2.35,0 L0,3.85 L-2.35,0 Z" fill="#0000ff" stroke="#000" stroke-width="0.65"/>
<path transform="translate(198.5,325.1)" d="M0,-3.85 L2.35,0 L0,3.85 L-2.35,0 Z" fill="#0000ff" stroke="#000" stroke-width="0.65"/>
<path transform="translate(199,331.9)" d="M0,-3.85 L2.35,0 L0,3.85 L-2.35,0 Z" fill="#0000ff" stroke="#000" stroke-width="0.65"/>
<path transform="translate(226.8,342.6)" d="M0,-3.85 L2.35,0 L0,3.85 L-2.35,0 Z" fill="#0000ff" stroke="#000" stroke-width="0.65"/>
<path transform="translate(211.5,349.4)" d="M0,-3.85 L2.35,0 L0,3.85 L-2.35,0 Z" fill="#0000ff" stroke="#000" stroke-width="0.65"/>
<path transform="translate(192.1,236.8)" d="M0,-3.85 L2.35,0 L0,3.85 L-2.35,0 Z" fill="#0000ff" stroke="#000" stroke-width="0.65"/>
<path transform="translate(175.5,277.2)" d="M0,-3.85 L2.35,0 L0,3.85 L-2.35,0 Z" fill="#0000ff" stroke="#000" stroke-width="0.65"/>
<path transform="translate(208.5,274.1)" d="M0,-3.85 L2.35,0 L0,3.85 L-2.35,0 Z" fill="#0000ff" stroke="#000" stroke-width="0.65"/>
<path transform="translate(134.2,281.5)" d="M0,-3.85 L2.35,0 L0,3.85 L-2.35,0 Z" fill="#0000ff" stroke="#000" stroke-width="0.65"/>
<path transform="translate(131.3,301.5)" d="M0,-3.85 L2.35,0 L0,3.85 L-2.35,0 Z" fill="#0000ff" stroke="#000" stroke-width="0.65"/>
<path transform="translate(130.5,305)" d="M0,-3.85 L2.35,0 L0,3.85 L-2.35,0 Z" fill="#0000ff" stroke="#000" stroke-width="0.65"/>
<path transform="translate(116.7,307.3)" d="M0,-3.85 L2.35,0 L0,3.85 L-2.35,0 Z" fill="#0000ff" stroke="#000" stroke-width="0.65"/>
<path transform="translate(229,297.1)" d="M0,-3.85 L2.35,0 L0,3.85 L-2.35,0 Z" fill="#0000ff" stroke="#000" stroke-width="0.65"/>
<path transform="translate(226.9,342.2)" d="M0,-3.85 L2.35,0 L0,3.85 L-2.35,0 Z" fill="#0000ff" stroke="#000" stroke-width="0.65"/>
<path transform="translate(255.5,344.6)" d="M0,-3.85 L2.35,0 L0,3.85 L-2.35,0 Z" fill="#0000ff" stroke="#000" stroke-width="0.65"/>
<line x1="66.0" y1="358.9" x2="255.1" y2="279.0" stroke="#000" stroke-width="2.5"/>
<path transform="translate(342.4,360)" d="M0.00,-3.30 L0.79,-1.09 L3.14,-1.02 L1.28,0.42 L1.94,2.67 L0.00,1.35 L-1.94,2.67 L-1.28,0.42 L-3.14,-1.02 L-0.79,-1.09 Z" fill="#0000ff" stroke="#000" stroke-width="0.7"/>
<path transform="translate(408.7,318.8)" d="M0.00,-3.30 L0.79,-1.09 L3.14,-1.02 L1.28,0.42 L1.94,2.67 L0.00,1.35 L-1.94,2.67 L-1.28,0.42 L-3.14,-1.02 L-0.79,-1.09 Z" fill="#0000ff" stroke="#000" stroke-width="0.7"/>
<path transform="translate(431.1,315.2)" d="M0.00,-3.30 L0.79,-1.09 L3.14,-1.02 L1.28,0.42 L1.94,2.67 L0.00,1.35 L-1.94,2.67 L-1.28,0.42 L-3.14,-1.02 L-0.79,-1.09 Z" fill="#0000ff" stroke="#000" stroke-width="0.7"/>
<path transform="translate(435.7,304.5)" d="M0.00,-3.30 L0.79,-1.09 L3.14,-1.02 L1.28,0.42 L1.94,2.67 L0.00,1.35 L-1.94,2.67 L-1.28,0.42 L-3.14,-1.02 L-0.79,-1.09 Z" fill="#0000ff" stroke="#000" stroke-width="0.7"/>
<path transform="translate(419.4,344.1)" d="M0.00,-3.30 L0.79,-1.09 L3.14,-1.02 L1.28,0.42 L1.94,2.67 L0.00,1.35 L-1.94,2.67 L-1.28,0.42 L-3.14,-1.02 L-0.79,-1.09 Z" fill="#0000ff" stroke="#000" stroke-width="0.7"/>
<path transform="translate(413.3,348)" d="M0.00,-3.30 L0.79,-1.09 L3.14,-1.02 L1.28,0.42 L1.94,2.67 L0.00,1.35 L-1.94,2.67 L-1.28,0.42 L-3.14,-1.02 L-0.79,-1.09 Z" fill="#0000ff" stroke="#000" stroke-width="0.7"/>
<path transform="translate(416,348.6)" d="M0.00,-3.30 L0.79,-1.09 L3.14,-1.02 L1.28,0.42 L1.94,2.67 L0.00,1.35 L-1.94,2.67 L-1.28,0.42 L-3.14,-1.02 L-0.79,-1.09 Z" fill="#0000ff" stroke="#000" stroke-width="0.7"/>
<path transform="translate(420.5,359.3)" d="M0.00,-3.30 L0.79,-1.09 L3.14,-1.02 L1.28,0.42 L1.94,2.67 L0.00,1.35 L-1.94,2.67 L-1.28,0.42 L-3.14,-1.02 L-0.79,-1.09 Z" fill="#0000ff" stroke="#000" stroke-width="0.7"/>
<path transform="translate(422.8,361.5)" d="M0.00,-3.30 L0.79,-1.09 L3.14,-1.02 L1.28,0.42 L1.94,2.67 L0.00,1.35 L-1.94,2.67 L-1.28,0.42 L-3.14,-1.02 L-0.79,-1.09 Z" fill="#0000ff" stroke="#000" stroke-width="0.7"/>
<path transform="translate(426.2,372.4)" d="M0.00,-3.30 L0.79,-1.09 L3.14,-1.02 L1.28,0.42 L1.94,2.67 L0.00,1.35 L-1.94,2.67 L-1.28,0.42 L-3.14,-1.02 L-0.79,-1.09 Z" fill="#0000ff" stroke="#000" stroke-width="0.7"/>
<path transform="translate(436.3,351.6)" d="M0.00,-3.30 L0.79,-1.09 L3.14,-1.02 L1.28,0.42 L1.94,2.67 L0.00,1.35 L-1.94,2.67 L-1.28,0.42 L-3.14,-1.02 L-0.79,-1.09 Z" fill="#0000ff" stroke="#000" stroke-width="0.7"/>
<path transform="translate(436.3,365.6)" d="M0.00,-3.30 L0.79,-1.09 L3.14,-1.02 L1.28,0.42 L1.94,2.67 L0.00,1.35 L-1.94,2.67 L-1.28,0.42 L-3.14,-1.02 L-0.79,-1.09 Z" fill="#0000ff" stroke="#000" stroke-width="0.7"/>
<path transform="translate(438.6,359.3)" d="M0.00,-3.30 L0.79,-1.09 L3.14,-1.02 L1.28,0.42 L1.94,2.67 L0.00,1.35 L-1.94,2.67 L-1.28,0.42 L-3.14,-1.02 L-0.79,-1.09 Z" fill="#0000ff" stroke="#000" stroke-width="0.7"/>
<path transform="translate(391.1,380.3)" d="M0.00,-3.30 L0.79,-1.09 L3.14,-1.02 L1.28,0.42 L1.94,2.67 L0.00,1.35 L-1.94,2.67 L-1.28,0.42 L-3.14,-1.02 L-0.79,-1.09 Z" fill="#0000ff" stroke="#000" stroke-width="0.7"/>
<path transform="translate(412.6,393.9)" d="M0.00,-3.30 L0.79,-1.09 L3.14,-1.02 L1.28,0.42 L1.94,2.67 L0.00,1.35 L-1.94,2.67 L-1.28,0.42 L-3.14,-1.02 L-0.79,-1.09 Z" fill="#0000ff" stroke="#000" stroke-width="0.7"/>
<path transform="translate(433,391.6)" d="M0.00,-3.30 L0.79,-1.09 L3.14,-1.02 L1.28,0.42 L1.94,2.67 L0.00,1.35 L-1.94,2.67 L-1.28,0.42 L-3.14,-1.02 L-0.79,-1.09 Z" fill="#0000ff" stroke="#000" stroke-width="0.7"/>
<path transform="translate(437.5,343)" d="M0.00,-3.30 L0.79,-1.09 L3.14,-1.02 L1.28,0.42 L1.94,2.67 L0.00,1.35 L-1.94,2.67 L-1.28,0.42 L-3.14,-1.02 L-0.79,-1.09 Z" fill="#0000ff" stroke="#000" stroke-width="0.7"/>
<path transform="translate(426.5,371.8)" d="M0.00,-3.30 L0.79,-1.09 L3.14,-1.02 L1.28,0.42 L1.94,2.67 L0.00,1.35 L-1.94,2.67 L-1.28,0.42 L-3.14,-1.02 L-0.79,-1.09 Z" fill="#0000ff" stroke="#000" stroke-width="0.7"/>
<path transform="translate(436.8,351.5)" d="M0.00,-3.30 L0.79,-1.09 L3.14,-1.02 L1.28,0.42 L1.94,2.67 L0.00,1.35 L-1.94,2.67 L-1.28,0.42 L-3.14,-1.02 L-0.79,-1.09 Z" fill="#0000ff" stroke="#000" stroke-width="0.7"/>
<path transform="translate(439,348.2)" d="M0.00,-3.30 L0.79,-1.09 L3.14,-1.02 L1.28,0.42 L1.94,2.67 L0.00,1.35 L-1.94,2.67 L-1.28,0.42 L-3.14,-1.02 L-0.79,-1.09 Z" fill="#0000ff" stroke="#000" stroke-width="0.7"/>
<path transform="translate(438.2,358.5)" d="M0.00,-3.30 L0.79,-1.09 L3.14,-1.02 L1.28,0.42 L1.94,2.67 L0.00,1.35 L-1.94,2.67 L-1.28,0.42 L-3.14,-1.02 L-0.79,-1.09 Z" fill="#0000ff" stroke="#000" stroke-width="0.7"/>
<path transform="translate(441.9,360)" d="M0.00,-3.30 L0.79,-1.09 L3.14,-1.02 L1.28,0.42 L1.94,2.67 L0.00,1.35 L-1.94,2.67 L-1.28,0.42 L-3.14,-1.02 L-0.79,-1.09 Z" fill="#0000ff" stroke="#000" stroke-width="0.7"/>
<path transform="translate(436.8,365.1)" d="M0.00,-3.30 L0.79,-1.09 L3.14,-1.02 L1.28,0.42 L1.94,2.67 L0.00,1.35 L-1.94,2.67 L-1.28,0.42 L-3.14,-1.02 L-0.79,-1.09 Z" fill="#0000ff" stroke="#000" stroke-width="0.7"/>
<path transform="translate(442.6,374.7)" d="M0.00,-3.30 L0.79,-1.09 L3.14,-1.02 L1.28,0.42 L1.94,2.67 L0.00,1.35 L-1.94,2.67 L-1.28,0.42 L-3.14,-1.02 L-0.79,-1.09 Z" fill="#0000ff" stroke="#000" stroke-width="0.7"/>
<path transform="translate(446.3,372.9)" d="M0.00,-3.30 L0.79,-1.09 L3.14,-1.02 L1.28,0.42 L1.94,2.67 L0.00,1.35 L-1.94,2.67 L-1.28,0.42 L-3.14,-1.02 L-0.79,-1.09 Z" fill="#0000ff" stroke="#000" stroke-width="0.7"/>
<path transform="translate(432.4,391.6)" d="M0.00,-3.30 L0.79,-1.09 L3.14,-1.02 L1.28,0.42 L1.94,2.67 L0.00,1.35 L-1.94,2.67 L-1.28,0.42 L-3.14,-1.02 L-0.79,-1.09 Z" fill="#0000ff" stroke="#000" stroke-width="0.7"/>
<path transform="translate(441.2,390.9)" d="M0.00,-3.30 L0.79,-1.09 L3.14,-1.02 L1.28,0.42 L1.94,2.67 L0.00,1.35 L-1.94,2.67 L-1.28,0.42 L-3.14,-1.02 L-0.79,-1.09 Z" fill="#0000ff" stroke="#000" stroke-width="0.7"/>
<path transform="translate(441.9,393.1)" d="M0.00,-3.30 L0.79,-1.09 L3.14,-1.02 L1.28,0.42 L1.94,2.67 L0.00,1.35 L-1.94,2.67 L-1.28,0.42 L-3.14,-1.02 L-0.79,-1.09 Z" fill="#0000ff" stroke="#000" stroke-width="0.7"/>
<path transform="translate(456.6,386.5)" d="M0.00,-3.30 L0.79,-1.09 L3.14,-1.02 L1.28,0.42 L1.94,2.67 L0.00,1.35 L-1.94,2.67 L-1.28,0.42 L-3.14,-1.02 L-0.79,-1.09 Z" fill="#0000ff" stroke="#000" stroke-width="0.7"/>
<path transform="translate(463.2,382.1)" d="M0.00,-3.30 L0.79,-1.09 L3.14,-1.02 L1.28,0.42 L1.94,2.67 L0.00,1.35 L-1.94,2.67 L-1.28,0.42 L-3.14,-1.02 L-0.79,-1.09 Z" fill="#0000ff" stroke="#000" stroke-width="0.7"/>
<path transform="translate(458.1,378.4)" d="M0.00,-3.30 L0.79,-1.09 L3.14,-1.02 L1.28,0.42 L1.94,2.67 L0.00,1.35 L-1.94,2.67 L-1.28,0.42 L-3.14,-1.02 L-0.79,-1.09 Z" fill="#0000ff" stroke="#000" stroke-width="0.7"/>
<path transform="translate(452.9,376.9)" d="M0.00,-3.30 L0.79,-1.09 L3.14,-1.02 L1.28,0.42 L1.94,2.67 L0.00,1.35 L-1.94,2.67 L-1.28,0.42 L-3.14,-1.02 L-0.79,-1.09 Z" fill="#0000ff" stroke="#000" stroke-width="0.7"/>
<path transform="translate(460.3,374.7)" d="M0.00,-3.30 L0.79,-1.09 L3.14,-1.02 L1.28,0.42 L1.94,2.67 L0.00,1.35 L-1.94,2.67 L-1.28,0.42 L-3.14,-1.02 L-0.79,-1.09 Z" fill="#0000ff" stroke="#000" stroke-width="0.7"/>
<path transform="translate(453.7,371)" d="M0.00,-3.30 L0.79,-1.09 L3.14,-1.02 L1.28,0.42 L1.94,2.67 L0.00,1.35 L-1.94,2.67 L-1.28,0.42 L-3.14,-1.02 L-0.79,-1.09 Z" fill="#0000ff" stroke="#000" stroke-width="0.7"/>
<path transform="translate(460.3,370.3)" d="M0.00,-3.30 L0.79,-1.09 L3.14,-1.02 L1.28,0.42 L1.94,2.67 L0.00,1.35 L-1.94,2.67 L-1.28,0.42 L-3.14,-1.02 L-0.79,-1.09 Z" fill="#0000ff" stroke="#000" stroke-width="0.7"/>
<path transform="translate(469.9,371)" d="M0.00,-3.30 L0.79,-1.09 L3.14,-1.02 L1.28,0.42 L1.94,2.67 L0.00,1.35 L-1.94,2.67 L-1.28,0.42 L-3.14,-1.02 L-0.79,-1.09 Z" fill="#0000ff" stroke="#000" stroke-width="0.7"/>
<path transform="translate(471.3,377.6)" d="M0.00,-3.30 L0.79,-1.09 L3.14,-1.02 L1.28,0.42 L1.94,2.67 L0.00,1.35 L-1.94,2.67 L-1.28,0.42 L-3.14,-1.02 L-0.79,-1.09 Z" fill="#0000ff" stroke="#000" stroke-width="0.7"/>
<path transform="translate(476.5,361.5)" d="M0.00,-3.30 L0.79,-1.09 L3.14,-1.02 L1.28,0.42 L1.94,2.67 L0.00,1.35 L-1.94,2.67 L-1.28,0.42 L-3.14,-1.02 L-0.79,-1.09 Z" fill="#0000ff" stroke="#000" stroke-width="0.7"/>
<path transform="translate(452.2,366.6)" d="M0.00,-3.30 L0.79,-1.09 L3.14,-1.02 L1.28,0.42 L1.94,2.67 L0.00,1.35 L-1.94,2.67 L-1.28,0.42 L-3.14,-1.02 L-0.79,-1.09 Z" fill="#0000ff" stroke="#000" stroke-width="0.7"/>
<path transform="translate(456.6,365.1)" d="M0.00,-3.30 L0.79,-1.09 L3.14,-1.02 L1.28,0.42 L1.94,2.67 L0.00,1.35 L-1.94,2.67 L-1.28,0.42 L-3.14,-1.02 L-0.79,-1.09 Z" fill="#0000ff" stroke="#000" stroke-width="0.7"/>
<path transform="translate(464,366.6)" d="M0.00,-3.30 L0.79,-1.09 L3.14,-1.02 L1.28,0.42 L1.94,2.67 L0.00,1.35 L-1.94,2.67 L-1.28,0.42 L-3.14,-1.02 L-0.79,-1.09 Z" fill="#0000ff" stroke="#000" stroke-width="0.7"/>
<path transform="translate(452.2,361.5)" d="M0.00,-3.30 L0.79,-1.09 L3.14,-1.02 L1.28,0.42 L1.94,2.67 L0.00,1.35 L-1.94,2.67 L-1.28,0.42 L-3.14,-1.02 L-0.79,-1.09 Z" fill="#0000ff" stroke="#000" stroke-width="0.7"/>
<path transform="translate(460.3,361.5)" d="M0.00,-3.30 L0.79,-1.09 L3.14,-1.02 L1.28,0.42 L1.94,2.67 L0.00,1.35 L-1.94,2.67 L-1.28,0.42 L-3.14,-1.02 L-0.79,-1.09 Z" fill="#0000ff" stroke="#000" stroke-width="0.7"/>
<path transform="translate(468.4,360.7)" d="M0.00,-3.30 L0.79,-1.09 L3.14,-1.02 L1.28,0.42 L1.94,2.67 L0.00,1.35 L-1.94,2.67 L-1.28,0.42 L-3.14,-1.02 L-0.79,-1.09 Z" fill="#0000ff" stroke="#000" stroke-width="0.7"/>
<path transform="translate(447.1,357.1)" d="M0.00,-3.30 L0.79,-1.09 L3.14,-1.02 L1.28,0.42 L1.94,2.67 L0.00,1.35 L-1.94,2.67 L-1.28,0.42 L-3.14,-1.02 L-0.79,-1.09 Z" fill="#0000ff" stroke="#000" stroke-width="0.7"/>
<path transform="translate(452.2,356.3)" d="M0.00,-3.30 L0.79,-1.09 L3.14,-1.02 L1.28,0.42 L1.94,2.67 L0.00,1.35 L-1.94,2.67 L-1.28,0.42 L-3.14,-1.02 L-0.79,-1.09 Z" fill="#0000ff" stroke="#000" stroke-width="0.7"/>
<path transform="translate(458.1,357.8)" d="M0.00,-3.30 L0.79,-1.09 L3.14,-1.02 L1.28,0.42 L1.94,2.67 L0.00,1.35 L-1.94,2.67 L-1.28,0.42 L-3.14,-1.02 L-0.79,-1.09 Z" fill="#0000ff" stroke="#000" stroke-width="0.7"/>
<path transform="translate(464,357.1)" d="M0.00,-3.30 L0.79,-1.09 L3.14,-1.02 L1.28,0.42 L1.94,2.67 L0.00,1.35 L-1.94,2.67 L-1.28,0.42 L-3.14,-1.02 L-0.79,-1.09 Z" fill="#0000ff" stroke="#000" stroke-width="0.7"/>
<path transform="translate(446.3,353.4)" d="M0.00,-3.30 L0.79,-1.09 L3.14,-1.02 L1.28,0.42 L1.94,2.67 L0.00,1.35 L-1.94,2.67 L-1.28,0.42 L-3.14,-1.02 L-0.79,-1.09 Z" fill="#0000ff" stroke="#000" stroke-width="0.7"/>
<path transform="translate(451.5,351.2)" d="M0.00,-3.30 L0.79,-1.09 L3.14,-1.02 L1.28,0.42 L1.94,2.67 L0.00,1.35 L-1.94,2.67 L-1.28,0.42 L-3.14,-1.02 L-0.79,-1.09 Z" fill="#0000ff" stroke="#000" stroke-width="0.7"/>
<path transform="translate(455.9,353.4)" d="M0.00,-3.30 L0.79,-1.09 L3.14,-1.02 L1.28,0.42 L1.94,2.67 L0.00,1.35 L-1.94,2.67 L-1.28,0.42 L-3.14,-1.02 L-0.79,-1.09 Z" fill="#0000ff" stroke="#000" stroke-width="0.7"/>
<path transform="translate(461.8,350.4)" d="M0.00,-3.30 L0.79,-1.09 L3.14,-1.02 L1.28,0.42 L1.94,2.67 L0.00,1.35 L-1.94,2.67 L-1.28,0.42 L-3.14,-1.02 L-0.79,-1.09 Z" fill="#0000ff" stroke="#000" stroke-width="0.7"/>
<path transform="translate(466.9,349.7)" d="M0.00,-3.30 L0.79,-1.09 L3.14,-1.02 L1.28,0.42 L1.94,2.67 L0.00,1.35 L-1.94,2.67 L-1.28,0.42 L-3.14,-1.02 L-0.79,-1.09 Z" fill="#0000ff" stroke="#000" stroke-width="0.7"/>
<path transform="translate(450,346)" d="M0.00,-3.30 L0.79,-1.09 L3.14,-1.02 L1.28,0.42 L1.94,2.67 L0.00,1.35 L-1.94,2.67 L-1.28,0.42 L-3.14,-1.02 L-0.79,-1.09 Z" fill="#0000ff" stroke="#000" stroke-width="0.7"/>
<path transform="translate(453.7,345.3)" d="M0.00,-3.30 L0.79,-1.09 L3.14,-1.02 L1.28,0.42 L1.94,2.67 L0.00,1.35 L-1.94,2.67 L-1.28,0.42 L-3.14,-1.02 L-0.79,-1.09 Z" fill="#0000ff" stroke="#000" stroke-width="0.7"/>
<path transform="translate(458.8,346)" d="M0.00,-3.30 L0.79,-1.09 L3.14,-1.02 L1.28,0.42 L1.94,2.67 L0.00,1.35 L-1.94,2.67 L-1.28,0.42 L-3.14,-1.02 L-0.79,-1.09 Z" fill="#0000ff" stroke="#000" stroke-width="0.7"/>
<path transform="translate(464.7,343.8)" d="M0.00,-3.30 L0.79,-1.09 L3.14,-1.02 L1.28,0.42 L1.94,2.67 L0.00,1.35 L-1.94,2.67 L-1.28,0.42 L-3.14,-1.02 L-0.79,-1.09 Z" fill="#0000ff" stroke="#000" stroke-width="0.7"/>
<path transform="translate(467.6,340.9)" d="M0.00,-3.30 L0.79,-1.09 L3.14,-1.02 L1.28,0.42 L1.94,2.67 L0.00,1.35 L-1.94,2.67 L-1.28,0.42 L-3.14,-1.02 L-0.79,-1.09 Z" fill="#0000ff" stroke="#000" stroke-width="0.7"/>
<path transform="translate(456.6,340.1)" d="M0.00,-3.30 L0.79,-1.09 L3.14,-1.02 L1.28,0.42 L1.94,2.67 L0.00,1.35 L-1.94,2.67 L-1.28,0.42 L-3.14,-1.02 L-0.79,-1.09 Z" fill="#0000ff" stroke="#000" stroke-width="0.7"/>
<path transform="translate(450,341.6)" d="M0.00,-3.30 L0.79,-1.09 L3.14,-1.02 L1.28,0.42 L1.94,2.67 L0.00,1.35 L-1.94,2.67 L-1.28,0.42 L-3.14,-1.02 L-0.79,-1.09 Z" fill="#0000ff" stroke="#000" stroke-width="0.7"/>
<path transform="translate(443.4,342.4)" d="M0.00,-3.30 L0.79,-1.09 L3.14,-1.02 L1.28,0.42 L1.94,2.67 L0.00,1.35 L-1.94,2.67 L-1.28,0.42 L-3.14,-1.02 L-0.79,-1.09 Z" fill="#0000ff" stroke="#000" stroke-width="0.7"/>
<path transform="translate(462.5,337.2)" d="M0.00,-3.30 L0.79,-1.09 L3.14,-1.02 L1.28,0.42 L1.94,2.67 L0.00,1.35 L-1.94,2.67 L-1.28,0.42 L-3.14,-1.02 L-0.79,-1.09 Z" fill="#0000ff" stroke="#000" stroke-width="0.7"/>
<path transform="translate(455.1,337.2)" d="M0.00,-3.30 L0.79,-1.09 L3.14,-1.02 L1.28,0.42 L1.94,2.67 L0.00,1.35 L-1.94,2.67 L-1.28,0.42 L-3.14,-1.02 L-0.79,-1.09 Z" fill="#0000ff" stroke="#000" stroke-width="0.7"/>
<path transform="translate(475,337.9)" d="M0.00,-3.30 L0.79,-1.09 L3.14,-1.02 L1.28,0.42 L1.94,2.67 L0.00,1.35 L-1.94,2.67 L-1.28,0.42 L-3.14,-1.02 L-0.79,-1.09 Z" fill="#0000ff" stroke="#000" stroke-width="0.7"/>
<path transform="translate(466.9,352.6)" d="M0.00,-3.30 L0.79,-1.09 L3.14,-1.02 L1.28,0.42 L1.94,2.67 L0.00,1.35 L-1.94,2.67 L-1.28,0.42 L-3.14,-1.02 L-0.79,-1.09 Z" fill="#0000ff" stroke="#000" stroke-width="0.7"/>
<path transform="translate(456.6,276.5)" d="M0.00,-3.30 L0.79,-1.09 L3.14,-1.02 L1.28,0.42 L1.94,2.67 L0.00,1.35 L-1.94,2.67 L-1.28,0.42 L-3.14,-1.02 L-0.79,-1.09 Z" fill="#0000ff" stroke="#000" stroke-width="0.7"/>
<path transform="translate(447.8,280.9)" d="M0.00,-3.30 L0.79,-1.09 L3.14,-1.02 L1.28,0.42 L1.94,2.67 L0.00,1.35 L-1.94,2.67 L-1.28,0.42 L-3.14,-1.02 L-0.79,-1.09 Z" fill="#0000ff" stroke="#000" stroke-width="0.7"/>
<path transform="translate(442.6,286)" d="M0.00,-3.30 L0.79,-1.09 L3.14,-1.02 L1.28,0.42 L1.94,2.67 L0.00,1.35 L-1.94,2.67 L-1.28,0.42 L-3.14,-1.02 L-0.79,-1.09 Z" fill="#0000ff" stroke="#000" stroke-width="0.7"/>
<path transform="translate(447.8,286)" d="M0.00,-3.30 L0.79,-1.09 L3.14,-1.02 L1.28,0.42 L1.94,2.67 L0.00,1.35 L-1.94,2.67 L-1.28,0.42 L-3.14,-1.02 L-0.79,-1.09 Z" fill="#0000ff" stroke="#000" stroke-width="0.7"/>
<path transform="translate(455.9,285.3)" d="M0.00,-3.30 L0.79,-1.09 L3.14,-1.02 L1.28,0.42 L1.94,2.67 L0.00,1.35 L-1.94,2.67 L-1.28,0.42 L-3.14,-1.02 L-0.79,-1.09 Z" fill="#0000ff" stroke="#000" stroke-width="0.7"/>
<path transform="translate(459.6,289)" d="M0.00,-3.30 L0.79,-1.09 L3.14,-1.02 L1.28,0.42 L1.94,2.67 L0.00,1.35 L-1.94,2.67 L-1.28,0.42 L-3.14,-1.02 L-0.79,-1.09 Z" fill="#0000ff" stroke="#000" stroke-width="0.7"/>
<path transform="translate(465.4,280.9)" d="M0.00,-3.30 L0.79,-1.09 L3.14,-1.02 L1.28,0.42 L1.94,2.67 L0.00,1.35 L-1.94,2.67 L-1.28,0.42 L-3.14,-1.02 L-0.79,-1.09 Z" fill="#0000ff" stroke="#000" stroke-width="0.7"/>
<path transform="translate(470.6,280.1)" d="M0.00,-3.30 L0.79,-1.09 L3.14,-1.02 L1.28,0.42 L1.94,2.67 L0.00,1.35 L-1.94,2.67 L-1.28,0.42 L-3.14,-1.02 L-0.79,-1.09 Z" fill="#0000ff" stroke="#000" stroke-width="0.7"/>
<path transform="translate(466.9,286)" d="M0.00,-3.30 L0.79,-1.09 L3.14,-1.02 L1.28,0.42 L1.94,2.67 L0.00,1.35 L-1.94,2.67 L-1.28,0.42 L-3.14,-1.02 L-0.79,-1.09 Z" fill="#0000ff" stroke="#000" stroke-width="0.7"/>
<path transform="translate(472.1,284.6)" d="M0.00,-3.30 L0.79,-1.09 L3.14,-1.02 L1.28,0.42 L1.94,2.67 L0.00,1.35 L-1.94,2.67 L-1.28,0.42 L-3.14,-1.02 L-0.79,-1.09 Z" fill="#0000ff" stroke="#000" stroke-width="0.7"/>
<path transform="translate(477.9,289)" d="M0.00,-3.30 L0.79,-1.09 L3.14,-1.02 L1.28,0.42 L1.94,2.67 L0.00,1.35 L-1.94,2.67 L-1.28,0.42 L-3.14,-1.02 L-0.79,-1.09 Z" fill="#0000ff" stroke="#000" stroke-width="0.7"/>
<path transform="translate(441.9,293.4)" d="M0.00,-3.30 L0.79,-1.09 L3.14,-1.02 L1.28,0.42 L1.94,2.67 L0.00,1.35 L-1.94,2.67 L-1.28,0.42 L-3.14,-1.02 L-0.79,-1.09 Z" fill="#0000ff" stroke="#000" stroke-width="0.7"/>
<path transform="translate(456.6,296.3)" d="M0.00,-3.30 L0.79,-1.09 L3.14,-1.02 L1.28,0.42 L1.94,2.67 L0.00,1.35 L-1.94,2.67 L-1.28,0.42 L-3.14,-1.02 L-0.79,-1.09 Z" fill="#0000ff" stroke="#000" stroke-width="0.7"/>
<path transform="translate(465.4,291.9)" d="M0.00,-3.30 L0.79,-1.09 L3.14,-1.02 L1.28,0.42 L1.94,2.67 L0.00,1.35 L-1.94,2.67 L-1.28,0.42 L-3.14,-1.02 L-0.79,-1.09 Z" fill="#0000ff" stroke="#000" stroke-width="0.7"/>
<path transform="translate(473.5,292.6)" d="M0.00,-3.30 L0.79,-1.09 L3.14,-1.02 L1.28,0.42 L1.94,2.67 L0.00,1.35 L-1.94,2.67 L-1.28,0.42 L-3.14,-1.02 L-0.79,-1.09 Z" fill="#0000ff" stroke="#000" stroke-width="0.7"/>
<path transform="translate(464,299.3)" d="M0.00,-3.30 L0.79,-1.09 L3.14,-1.02 L1.28,0.42 L1.94,2.67 L0.00,1.35 L-1.94,2.67 L-1.28,0.42 L-3.14,-1.02 L-0.79,-1.09 Z" fill="#0000ff" stroke="#000" stroke-width="0.7"/>
<path transform="translate(467.6,301.5)" d="M0.00,-3.30 L0.79,-1.09 L3.14,-1.02 L1.28,0.42 L1.94,2.67 L0.00,1.35 L-1.94,2.67 L-1.28,0.42 L-3.14,-1.02 L-0.79,-1.09 Z" fill="#0000ff" stroke="#000" stroke-width="0.7"/>
<path transform="translate(477.2,297.1)" d="M0.00,-3.30 L0.79,-1.09 L3.14,-1.02 L1.28,0.42 L1.94,2.67 L0.00,1.35 L-1.94,2.67 L-1.28,0.42 L-3.14,-1.02 L-0.79,-1.09 Z" fill="#0000ff" stroke="#000" stroke-width="0.7"/>
<path transform="translate(435.3,305.1)" d="M0.00,-3.30 L0.79,-1.09 L3.14,-1.02 L1.28,0.42 L1.94,2.67 L0.00,1.35 L-1.94,2.67 L-1.28,0.42 L-3.14,-1.02 L-0.79,-1.09 Z" fill="#0000ff" stroke="#000" stroke-width="0.7"/>
<path transform="translate(446.3,305.9)" d="M0.00,-3.30 L0.79,-1.09 L3.14,-1.02 L1.28,0.42 L1.94,2.67 L0.00,1.35 L-1.94,2.67 L-1.28,0.42 L-3.14,-1.02 L-0.79,-1.09 Z" fill="#0000ff" stroke="#000" stroke-width="0.7"/>
<path transform="translate(455.1,302.9)" d="M0.00,-3.30 L0.79,-1.09 L3.14,-1.02 L1.28,0.42 L1.94,2.67 L0.00,1.35 L-1.94,2.67 L-1.28,0.42 L-3.14,-1.02 L-0.79,-1.09 Z" fill="#0000ff" stroke="#000" stroke-width="0.7"/>
<path transform="translate(452.2,306.6)" d="M0.00,-3.30 L0.79,-1.09 L3.14,-1.02 L1.28,0.42 L1.94,2.67 L0.00,1.35 L-1.94,2.67 L-1.28,0.42 L-3.14,-1.02 L-0.79,-1.09 Z" fill="#0000ff" stroke="#000" stroke-width="0.7"/>
<path transform="translate(460.3,305.9)" d="M0.00,-3.30 L0.79,-1.09 L3.14,-1.02 L1.28,0.42 L1.94,2.67 L0.00,1.35 L-1.94,2.67 L-1.28,0.42 L-3.14,-1.02 L-0.79,-1.09 Z" fill="#0000ff" stroke="#000" stroke-width="0.7"/>
<path transform="translate(464.7,305.9)" d="M0.00,-3.30 L0.79,-1.09 L3.14,-1.02 L1.28,0.42 L1.94,2.67 L0.00,1.35 L-1.94,2.67 L-1.28,0.42 L-3.14,-1.02 L-0.79,-1.09 Z" fill="#0000ff" stroke="#000" stroke-width="0.7"/>
<path transform="translate(474.3,308.8)" d="M0.00,-3.30 L0.79,-1.09 L3.14,-1.02 L1.28,0.42 L1.94,2.67 L0.00,1.35 L-1.94,2.67 L-1.28,0.42 L-3.14,-1.02 L-0.79,-1.09 Z" fill="#0000ff" stroke="#000" stroke-width="0.7"/>
<path transform="translate(468.4,310.3)" d="M0.00,-3.30 L0.79,-1.09 L3.14,-1.02 L1.28,0.42 L1.94,2.67 L0.00,1.35 L-1.94,2.67 L-1.28,0.42 L-3.14,-1.02 L-0.79,-1.09 Z" fill="#0000ff" stroke="#000" stroke-width="0.7"/>
<path transform="translate(462.5,309.6)" d="M0.00,-3.30 L0.79,-1.09 L3.14,-1.02 L1.28,0.42 L1.94,2.67 L0.00,1.35 L-1.94,2.67 L-1.28,0.42 L-3.14,-1.02 L-0.79,-1.09 Z" fill="#0000ff" stroke="#000" stroke-width="0.7"/>
<path transform="translate(430.9,314.7)" d="M0.00,-3.30 L0.79,-1.09 L3.14,-1.02 L1.28,0.42 L1.94,2.67 L0.00,1.35 L-1.94,2.67 L-1.28,0.42 L-3.14,-1.02 L-0.79,-1.09 Z" fill="#0000ff" stroke="#000" stroke-width="0.7"/>
<path transform="translate(442.6,312.5)" d="M0.00,-3.30 L0.79,-1.09 L3.14,-1.02 L1.28,0.42 L1.94,2.67 L0.00,1.35 L-1.94,2.67 L-1.28,0.42 L-3.14,-1.02 L-0.79,-1.09 Z" fill="#0000ff" stroke="#000" stroke-width="0.7"/>
<path transform="translate(450.7,312.5)" d="M0.00,-3.30 L0.79,-1.09 L3.14,-1.02 L1.28,0.42 L1.94,2.67 L0.00,1.35 L-1.94,2.67 L-1.28,0.42 L-3.14,-1.02 L-0.79,-1.09 Z" fill="#0000ff" stroke="#000" stroke-width="0.7"/>
<path transform="translate(452.9,314.7)" d="M0.00,-3.30 L0.79,-1.09 L3.14,-1.02 L1.28,0.42 L1.94,2.67 L0.00,1.35 L-1.94,2.67 L-1.28,0.42 L-3.14,-1.02 L-0.79,-1.09 Z" fill="#0000ff" stroke="#000" stroke-width="0.7"/>
<path transform="translate(470.6,314)" d="M0.00,-3.30 L0.79,-1.09 L3.14,-1.02 L1.28,0.42 L1.94,2.67 L0.00,1.35 L-1.94,2.67 L-1.28,0.42 L-3.14,-1.02 L-0.79,-1.09 Z" fill="#0000ff" stroke="#000" stroke-width="0.7"/>
<path transform="translate(463.2,319.9)" d="M0.00,-3.30 L0.79,-1.09 L3.14,-1.02 L1.28,0.42 L1.94,2.67 L0.00,1.35 L-1.94,2.67 L-1.28,0.42 L-3.14,-1.02 L-0.79,-1.09 Z" fill="#0000ff" stroke="#000" stroke-width="0.7"/>
<path transform="translate(469.1,319.9)" d="M0.00,-3.30 L0.79,-1.09 L3.14,-1.02 L1.28,0.42 L1.94,2.67 L0.00,1.35 L-1.94,2.67 L-1.28,0.42 L-3.14,-1.02 L-0.79,-1.09 Z" fill="#0000ff" stroke="#000" stroke-width="0.7"/>
<path transform="translate(475.7,319.9)" d="M0.00,-3.30 L0.79,-1.09 L3.14,-1.02 L1.28,0.42 L1.94,2.67 L0.00,1.35 L-1.94,2.67 L-1.28,0.42 L-3.14,-1.02 L-0.79,-1.09 Z" fill="#0000ff" stroke="#000" stroke-width="0.7"/>
<path transform="translate(448.5,325)" d="M0.00,-3.30 L0.79,-1.09 L3.14,-1.02 L1.28,0.42 L1.94,2.67 L0.00,1.35 L-1.94,2.67 L-1.28,0.42 L-3.14,-1.02 L-0.79,-1.09 Z" fill="#0000ff" stroke="#000" stroke-width="0.7"/>
<path transform="translate(452.2,323.5)" d="M0.00,-3.30 L0.79,-1.09 L3.14,-1.02 L1.28,0.42 L1.94,2.67 L0.00,1.35 L-1.94,2.67 L-1.28,0.42 L-3.14,-1.02 L-0.79,-1.09 Z" fill="#0000ff" stroke="#000" stroke-width="0.7"/>
<path transform="translate(458.1,327.2)" d="M0.00,-3.30 L0.79,-1.09 L3.14,-1.02 L1.28,0.42 L1.94,2.67 L0.00,1.35 L-1.94,2.67 L-1.28,0.42 L-3.14,-1.02 L-0.79,-1.09 Z" fill="#0000ff" stroke="#000" stroke-width="0.7"/>
<path transform="translate(464.7,325)" d="M0.00,-3.30 L0.79,-1.09 L3.14,-1.02 L1.28,0.42 L1.94,2.67 L0.00,1.35 L-1.94,2.67 L-1.28,0.42 L-3.14,-1.02 L-0.79,-1.09 Z" fill="#0000ff" stroke="#000" stroke-width="0.7"/>
<path transform="translate(469.1,325.7)" d="M0.00,-3.30 L0.79,-1.09 L3.14,-1.02 L1.28,0.42 L1.94,2.67 L0.00,1.35 L-1.94,2.67 L-1.28,0.42 L-3.14,-1.02 L-0.79,-1.09 Z" fill="#0000ff" stroke="#000" stroke-width="0.7"/>
<path transform="translate(475.7,325)" d="M0.00,-3.30 L0.79,-1.09 L3.14,-1.02 L1.28,0.42 L1.94,2.67 L0.00,1.35 L-1.94,2.67 L-1.28,0.42 L-3.14,-1.02 L-0.79,-1.09 Z" fill="#0000ff" stroke="#000" stroke-width="0.7"/>
<path transform="translate(443.4,333.1)" d="M0.00,-3.30 L0.79,-1.09 L3.14,-1.02 L1.28,0.42 L1.94,2.67 L0.00,1.35 L-1.94,2.67 L-1.28,0.42 L-3.14,-1.02 L-0.79,-1.09 Z" fill="#0000ff" stroke="#000" stroke-width="0.7"/>
<path transform="translate(461.8,330.9)" d="M0.00,-3.30 L0.79,-1.09 L3.14,-1.02 L1.28,0.42 L1.94,2.67 L0.00,1.35 L-1.94,2.67 L-1.28,0.42 L-3.14,-1.02 L-0.79,-1.09 Z" fill="#0000ff" stroke="#000" stroke-width="0.7"/>
<path transform="translate(472.1,332.4)" d="M0.00,-3.30 L0.79,-1.09 L3.14,-1.02 L1.28,0.42 L1.94,2.67 L0.00,1.35 L-1.94,2.67 L-1.28,0.42 L-3.14,-1.02 L-0.79,-1.09 Z" fill="#0000ff" stroke="#000" stroke-width="0.7"/>
<path transform="translate(489.8,268.2)" d="M0.00,-3.30 L0.79,-1.09 L3.14,-1.02 L1.28,0.42 L1.94,2.67 L0.00,1.35 L-1.94,2.67 L-1.28,0.42 L-3.14,-1.02 L-0.79,-1.09 Z" fill="#0000ff" stroke="#000" stroke-width="0.7"/>
<path transform="translate(531.7,267.7)" d="M0.00,-3.30 L0.79,-1.09 L3.14,-1.02 L1.28,0.42 L1.94,2.67 L0.00,1.35 L-1.94,2.67 L-1.28,0.42 L-3.14,-1.02 L-0.79,-1.09 Z" fill="#0000ff" stroke="#000" stroke-width="0.7"/>
<path transform="translate(521.9,273.2)" d="M0.00,-3.30 L0.79,-1.09 L3.14,-1.02 L1.28,0.42 L1.94,2.67 L0.00,1.35 L-1.94,2.67 L-1.28,0.42 L-3.14,-1.02 L-0.79,-1.09 Z" fill="#0000ff" stroke="#000" stroke-width="0.7"/>
<path transform="translate(478.2,273.2)" d="M0.00,-3.30 L0.79,-1.09 L3.14,-1.02 L1.28,0.42 L1.94,2.67 L0.00,1.35 L-1.94,2.67 L-1.28,0.42 L-3.14,-1.02 L-0.79,-1.09 Z" fill="#0000ff" stroke="#000" stroke-width="0.7"/>
<path transform="translate(495.3,277.7)" d="M0.00,-3.30 L0.79,-1.09 L3.14,-1.02 L1.28,0.42 L1.94,2.67 L0.00,1.35 L-1.94,2.67 L-1.28,0.42 L-3.14,-1.02 L-0.79,-1.09 Z" fill="#0000ff" stroke="#000" stroke-width="0.7"/>
<path transform="translate(471.6,280.3)" d="M0.00,-3.30 L0.79,-1.09 L3.14,-1.02 L1.28,0.42 L1.94,2.67 L0.00,1.35 L-1.94,2.67 L-1.28,0.42 L-3.14,-1.02 L-0.79,-1.09 Z" fill="#0000ff" stroke="#000" stroke-width="0.7"/>
<path transform="translate(481.1,280.8)" d="M0.00,-3.30 L0.79,-1.09 L3.14,-1.02 L1.28,0.42 L1.94,2.67 L0.00,1.35 L-1.94,2.67 L-1.28,0.42 L-3.14,-1.02 L-0.79,-1.09 Z" fill="#0000ff" stroke="#000" stroke-width="0.7"/>
<path transform="translate(508.8,281.1)" d="M0.00,-3.30 L0.79,-1.09 L3.14,-1.02 L1.28,0.42 L1.94,2.67 L0.00,1.35 L-1.94,2.67 L-1.28,0.42 L-3.14,-1.02 L-0.79,-1.09 Z" fill="#0000ff" stroke="#000" stroke-width="0.7"/>
<path transform="translate(507.2,285.1)" d="M0.00,-3.30 L0.79,-1.09 L3.14,-1.02 L1.28,0.42 L1.94,2.67 L0.00,1.35 L-1.94,2.67 L-1.28,0.42 L-3.14,-1.02 L-0.79,-1.09 Z" fill="#0000ff" stroke="#000" stroke-width="0.7"/>
<path transform="translate(508.8,287.5)" d="M0.00,-3.30 L0.79,-1.09 L3.14,-1.02 L1.28,0.42 L1.94,2.67 L0.00,1.35 L-1.94,2.67 L-1.28,0.42 L-3.14,-1.02 L-0.79,-1.09 Z" fill="#0000ff" stroke="#000" stroke-width="0.7"/>
<path transform="translate(472.4,285.1)" d="M0.00,-3.30 L0.79,-1.09 L3.14,-1.02 L1.28,0.42 L1.94,2.67 L0.00,1.35 L-1.94,2.67 L-1.28,0.42 L-3.14,-1.02 L-0.79,-1.09 Z" fill="#0000ff" stroke="#000" stroke-width="0.7"/>
<path transform="translate(478.7,290.6)" d="M0.00,-3.30 L0.79,-1.09 L3.14,-1.02 L1.28,0.42 L1.94,2.67 L0.00,1.35 L-1.94,2.67 L-1.28,0.42 L-3.14,-1.02 L-0.79,-1.09 Z" fill="#0000ff" stroke="#000" stroke-width="0.7"/>
<path transform="translate(474,293)" d="M0.00,-3.30 L0.79,-1.09 L3.14,-1.02 L1.28,0.42 L1.94,2.67 L0.00,1.35 L-1.94,2.67 L-1.28,0.42 L-3.14,-1.02 L-0.79,-1.09 Z" fill="#0000ff" stroke="#000" stroke-width="0.7"/>
<path transform="translate(481.1,294.6)" d="M0.00,-3.30 L0.79,-1.09 L3.14,-1.02 L1.28,0.42 L1.94,2.67 L0.00,1.35 L-1.94,2.67 L-1.28,0.42 L-3.14,-1.02 L-0.79,-1.09 Z" fill="#0000ff" stroke="#000" stroke-width="0.7"/>
<path transform="translate(484.2,296.2)" d="M0.00,-3.30 L0.79,-1.09 L3.14,-1.02 L1.28,0.42 L1.94,2.67 L0.00,1.35 L-1.94,2.67 L-1.28,0.42 L-3.14,-1.02 L-0.79,-1.09 Z" fill="#0000ff" stroke="#000" stroke-width="0.7"/>
<path transform="translate(477.1,297)" d="M0.00,-3.30 L0.79,-1.09 L3.14,-1.02 L1.28,0.42 L1.94,2.67 L0.00,1.35 L-1.94,2.67 L-1.28,0.42 L-3.14,-1.02 L-0.79,-1.09 Z" fill="#0000ff" stroke="#000" stroke-width="0.7"/>
<path transform="translate(497.7,296.2)" d="M0.00,-3.30 L0.79,-1.09 L3.14,-1.02 L1.28,0.42 L1.94,2.67 L0.00,1.35 L-1.94,2.67 L-1.28,0.42 L-3.14,-1.02 L-0.79,-1.09 Z" fill="#0000ff" stroke="#000" stroke-width="0.7"/>
<path transform="translate(493.7,300.9)" d="M0.00,-3.30 L0.79,-1.09 L3.14,-1.02 L1.28,0.42 L1.94,2.67 L0.00,1.35 L-1.94,2.67 L-1.28,0.42 L-3.14,-1.02 L-0.79,-1.09 Z" fill="#0000ff" stroke="#000" stroke-width="0.7"/>
<path transform="translate(487.4,301.7)" d="M0.00,-3.30 L0.79,-1.09 L3.14,-1.02 L1.28,0.42 L1.94,2.67 L0.00,1.35 L-1.94,2.67 L-1.28,0.42 L-3.14,-1.02 L-0.79,-1.09 Z" fill="#0000ff" stroke="#000" stroke-width="0.7"/>
<path transform="translate(482.7,298.5)" d="M0.00,-3.30 L0.79,-1.09 L3.14,-1.02 L1.28,0.42 L1.94,2.67 L0.00,1.35 L-1.94,2.67 L-1.28,0.42 L-3.14,-1.02 L-0.79,-1.09 Z" fill="#0000ff" stroke="#000" stroke-width="0.7"/>
<path transform="translate(506.4,305.7)" d="M0.00,-3.30 L0.79,-1.09 L3.14,-1.02 L1.28,0.42 L1.94,2.67 L0.00,1.35 L-1.94,2.67 L-1.28,0.42 L-3.14,-1.02 L-0.79,-1.09 Z" fill="#0000ff" stroke="#000" stroke-width="0.7"/>
<path transform="translate(517.5,306.5)" d="M0.00,-3.30 L0.79,-1.09 L3.14,-1.02 L1.28,0.42 L1.94,2.67 L0.00,1.35 L-1.94,2.67 L-1.28,0.42 L-3.14,-1.02 L-0.79,-1.09 Z" fill="#0000ff" stroke="#000" stroke-width="0.7"/>
<path transform="translate(525.4,306.5)" d="M0.00,-3.30 L0.79,-1.09 L3.14,-1.02 L1.28,0.42 L1.94,2.67 L0.00,1.35 L-1.94,2.67 L-1.28,0.42 L-3.14,-1.02 L-0.79,-1.09 Z" fill="#0000ff" stroke="#000" stroke-width="0.7"/>
<path transform="translate(474.7,308)" d="M0.00,-3.30 L0.79,-1.09 L3.14,-1.02 L1.28,0.42 L1.94,2.67 L0.00,1.35 L-1.94,2.67 L-1.28,0.42 L-3.14,-1.02 L-0.79,-1.09 Z" fill="#0000ff" stroke="#000" stroke-width="0.7"/>
<path transform="translate(487.7,301.9)" d="M0.00,-3.30 L0.79,-1.09 L3.14,-1.02 L1.28,0.42 L1.94,2.67 L0.00,1.35 L-1.94,2.67 L-1.28,0.42 L-3.14,-1.02 L-0.79,-1.09 Z" fill="#0000ff" stroke="#000" stroke-width="0.7"/>
<path transform="translate(494,301.6)" d="M0.00,-3.30 L0.79,-1.09 L3.14,-1.02 L1.28,0.42 L1.94,2.67 L0.00,1.35 L-1.94,2.67 L-1.28,0.42 L-3.14,-1.02 L-0.79,-1.09 Z" fill="#0000ff" stroke="#000" stroke-width="0.7"/>
<path transform="translate(525.4,306.7)" d="M0.00,-3.30 L0.79,-1.09 L3.14,-1.02 L1.28,0.42 L1.94,2.67 L0.00,1.35 L-1.94,2.67 L-1.28,0.42 L-3.14,-1.02 L-0.79,-1.09 Z" fill="#0000ff" stroke="#000" stroke-width="0.7"/>
<path transform="translate(517.5,306.7)" d="M0.00,-3.30 L0.79,-1.09 L3.14,-1.02 L1.28,0.42 L1.94,2.67 L0.00,1.35 L-1.94,2.67 L-1.28,0.42 L-3.14,-1.02 L-0.79,-1.09 Z" fill="#0000ff" stroke="#000" stroke-width="0.7"/>
<path transform="translate(511.8,309.8)" d="M0.00,-3.30 L0.79,-1.09 L3.14,-1.02 L1.28,0.42 L1.94,2.67 L0.00,1.35 L-1.94,2.67 L-1.28,0.42 L-3.14,-1.02 L-0.79,-1.09 Z" fill="#0000ff" stroke="#000" stroke-width="0.7"/>
<path transform="translate(516.2,312.4)" d="M0.00,-3.30 L0.79,-1.09 L3.14,-1.02 L1.28,0.42 L1.94,2.67 L0.00,1.35 L-1.94,2.67 L-1.28,0.42 L-3.14,-1.02 L-0.79,-1.09 Z" fill="#0000ff" stroke="#000" stroke-width="0.7"/>
<path transform="translate(505.9,306.3)" d="M0.00,-3.30 L0.79,-1.09 L3.14,-1.02 L1.28,0.42 L1.94,2.67 L0.00,1.35 L-1.94,2.67 L-1.28,0.42 L-3.14,-1.02 L-0.79,-1.09 Z" fill="#0000ff" stroke="#000" stroke-width="0.7"/>
<path transform="translate(499.6,310.3)" d="M0.00,-3.30 L0.79,-1.09 L3.14,-1.02 L1.28,0.42 L1.94,2.67 L0.00,1.35 L-1.94,2.67 L-1.28,0.42 L-3.14,-1.02 L-0.79,-1.09 Z" fill="#0000ff" stroke="#000" stroke-width="0.7"/>
<path transform="translate(502.7,314.3)" d="M0.00,-3.30 L0.79,-1.09 L3.14,-1.02 L1.28,0.42 L1.94,2.67 L0.00,1.35 L-1.94,2.67 L-1.28,0.42 L-3.14,-1.02 L-0.79,-1.09 Z" fill="#0000ff" stroke="#000" stroke-width="0.7"/>
<path transform="translate(508.3,317.1)" d="M0.00,-3.30 L0.79,-1.09 L3.14,-1.02 L1.28,0.42 L1.94,2.67 L0.00,1.35 L-1.94,2.67 L-1.28,0.42 L-3.14,-1.02 L-0.79,-1.09 Z" fill="#0000ff" stroke="#000" stroke-width="0.7"/>
<path transform="translate(510.7,323.8)" d="M0.00,-3.30 L0.79,-1.09 L3.14,-1.02 L1.28,0.42 L1.94,2.67 L0.00,1.35 L-1.94,2.67 L-1.28,0.42 L-3.14,-1.02 L-0.79,-1.09 Z" fill="#0000ff" stroke="#000" stroke-width="0.7"/>
<path transform="translate(516.7,328.2)" d="M0.00,-3.30 L0.79,-1.09 L3.14,-1.02 L1.28,0.42 L1.94,2.67 L0.00,1.35 L-1.94,2.67 L-1.28,0.42 L-3.14,-1.02 L-0.79,-1.09 Z" fill="#0000ff" stroke="#000" stroke-width="0.7"/>
<path transform="translate(500.4,328.5)" d="M0.00,-3.30 L0.79,-1.09 L3.14,-1.02 L1.28,0.42 L1.94,2.67 L0.00,1.35 L-1.94,2.67 L-1.28,0.42 L-3.14,-1.02 L-0.79,-1.09 Z" fill="#0000ff" stroke="#000" stroke-width="0.7"/>
<path transform="translate(503.2,332.2)" d="M0.00,-3.30 L0.79,-1.09 L3.14,-1.02 L1.28,0.42 L1.94,2.67 L0.00,1.35 L-1.94,2.67 L-1.28,0.42 L-3.14,-1.02 L-0.79,-1.09 Z" fill="#0000ff" stroke="#000" stroke-width="0.7"/>
<path transform="translate(475.8,309.5)" d="M0.00,-3.30 L0.79,-1.09 L3.14,-1.02 L1.28,0.42 L1.94,2.67 L0.00,1.35 L-1.94,2.67 L-1.28,0.42 L-3.14,-1.02 L-0.79,-1.09 Z" fill="#0000ff" stroke="#000" stroke-width="0.7"/>
<path transform="translate(484.5,312.7)" d="M0.00,-3.30 L0.79,-1.09 L3.14,-1.02 L1.28,0.42 L1.94,2.67 L0.00,1.35 L-1.94,2.67 L-1.28,0.42 L-3.14,-1.02 L-0.79,-1.09 Z" fill="#0000ff" stroke="#000" stroke-width="0.7"/>
<path transform="translate(490,311.9)" d="M0.00,-3.30 L0.79,-1.09 L3.14,-1.02 L1.28,0.42 L1.94,2.67 L0.00,1.35 L-1.94,2.67 L-1.28,0.42 L-3.14,-1.02 L-0.79,-1.09 Z" fill="#0000ff" stroke="#000" stroke-width="0.7"/>
<path transform="translate(492.4,315.8)" d="M0.00,-3.30 L0.79,-1.09 L3.14,-1.02 L1.28,0.42 L1.94,2.67 L0.00,1.35 L-1.94,2.67 L-1.28,0.42 L-3.14,-1.02 L-0.79,-1.09 Z" fill="#0000ff" stroke="#000" stroke-width="0.7"/>
<path transform="translate(494,319.8)" d="M0.00,-3.30 L0.79,-1.09 L3.14,-1.02 L1.28,0.42 L1.94,2.67 L0.00,1.35 L-1.94,2.67 L-1.28,0.42 L-3.14,-1.02 L-0.79,-1.09 Z" fill="#0000ff" stroke="#000" stroke-width="0.7"/>
<path transform="translate(481.3,316.6)" d="M0.00,-3.30 L0.79,-1.09 L3.14,-1.02 L1.28,0.42 L1.94,2.67 L0.00,1.35 L-1.94,2.67 L-1.28,0.42 L-3.14,-1.02 L-0.79,-1.09 Z" fill="#0000ff" stroke="#000" stroke-width="0.7"/>
<path transform="translate(476.6,319.8)" d="M0.00,-3.30 L0.79,-1.09 L3.14,-1.02 L1.28,0.42 L1.94,2.67 L0.00,1.35 L-1.94,2.67 L-1.28,0.42 L-3.14,-1.02 L-0.79,-1.09 Z" fill="#0000ff" stroke="#000" stroke-width="0.7"/>
<path transform="translate(479,323)" d="M0.00,-3.30 L0.79,-1.09 L3.14,-1.02 L1.28,0.42 L1.94,2.67 L0.00,1.35 L-1.94,2.67 L-1.28,0.42 L-3.14,-1.02 L-0.79,-1.09 Z" fill="#0000ff" stroke="#000" stroke-width="0.7"/>
<path transform="translate(484.5,325.4)" d="M0.00,-3.30 L0.79,-1.09 L3.14,-1.02 L1.28,0.42 L1.94,2.67 L0.00,1.35 L-1.94,2.67 L-1.28,0.42 L-3.14,-1.02 L-0.79,-1.09 Z" fill="#0000ff" stroke="#000" stroke-width="0.7"/>
<path transform="translate(491.6,323.8)" d="M0.00,-3.30 L0.79,-1.09 L3.14,-1.02 L1.28,0.42 L1.94,2.67 L0.00,1.35 L-1.94,2.67 L-1.28,0.42 L-3.14,-1.02 L-0.79,-1.09 Z" fill="#0000ff" stroke="#000" stroke-width="0.7"/>
<path transform="translate(489.3,327.7)" d="M0.00,-3.30 L0.79,-1.09 L3.14,-1.02 L1.28,0.42 L1.94,2.67 L0.00,1.35 L-1.94,2.67 L-1.28,0.42 L-3.14,-1.02 L-0.79,-1.09 Z" fill="#0000ff" stroke="#000" stroke-width="0.7"/>
<path transform="translate(486.9,331.7)" d="M0.00,-3.30 L0.79,-1.09 L3.14,-1.02 L1.28,0.42 L1.94,2.67 L0.00,1.35 L-1.94,2.67 L-1.28,0.42 L-3.14,-1.02 L-0.79,-1.09 Z" fill="#0000ff" stroke="#000" stroke-width="0.7"/>
<path transform="translate(492.4,332.5)" d="M0.00,-3.30 L0.79,-1.09 L3.14,-1.02 L1.28,0.42 L1.94,2.67 L0.00,1.35 L-1.94,2.67 L-1.28,0.42 L-3.14,-1.02 L-0.79,-1.09 Z" fill="#0000ff" stroke="#000" stroke-width="0.7"/>
<path transform="translate(476.6,329.3)" d="M0.00,-3.30 L0.79,-1.09 L3.14,-1.02 L1.28,0.42 L1.94,2.67 L0.00,1.35 L-1.94,2.67 L-1.28,0.42 L-3.14,-1.02 L-0.79,-1.09 Z" fill="#0000ff" stroke="#000" stroke-width="0.7"/>
<path transform="translate(479.8,333.3)" d="M0.00,-3.30 L0.79,-1.09 L3.14,-1.02 L1.28,0.42 L1.94,2.67 L0.00,1.35 L-1.94,2.67 L-1.28,0.42 L-3.14,-1.02 L-0.79,-1.09 Z" fill="#0000ff" stroke="#000" stroke-width="0.7"/>
<path transform="translate(476.6,338)" d="M0.00,-3.30 L0.79,-1.09 L3.14,-1.02 L1.28,0.42 L1.94,2.67 L0.00,1.35 L-1.94,2.67 L-1.28,0.42 L-3.14,-1.02 L-0.79,-1.09 Z" fill="#0000ff" stroke="#000" stroke-width="0.7"/>
<path transform="translate(493.2,342)" d="M0.00,-3.30 L0.79,-1.09 L3.14,-1.02 L1.28,0.42 L1.94,2.67 L0.00,1.35 L-1.94,2.67 L-1.28,0.42 L-3.14,-1.02 L-0.79,-1.09 Z" fill="#0000ff" stroke="#000" stroke-width="0.7"/>
<path transform="translate(488.5,343.6)" d="M0.00,-3.30 L0.79,-1.09 L3.14,-1.02 L1.28,0.42 L1.94,2.67 L0.00,1.35 L-1.94,2.67 L-1.28,0.42 L-3.14,-1.02 L-0.79,-1.09 Z" fill="#0000ff" stroke="#000" stroke-width="0.7"/>
<path transform="translate(485.3,346.8)" d="M0.00,-3.30 L0.79,-1.09 L3.14,-1.02 L1.28,0.42 L1.94,2.67 L0.00,1.35 L-1.94,2.67 L-1.28,0.42 L-3.14,-1.02 L-0.79,-1.09 Z" fill="#0000ff" stroke="#000" stroke-width="0.7"/>
<path transform="translate(490.8,348.3)" d="M0.00,-3.30 L0.79,-1.09 L3.14,-1.02 L1.28,0.42 L1.94,2.67 L0.00,1.35 L-1.94,2.67 L-1.28,0.42 L-3.14,-1.02 L-0.79,-1.09 Z" fill="#0000ff" stroke="#000" stroke-width="0.7"/>
<path transform="translate(482.1,357.8)" d="M0.00,-3.30 L0.79,-1.09 L3.14,-1.02 L1.28,0.42 L1.94,2.67 L0.00,1.35 L-1.94,2.67 L-1.28,0.42 L-3.14,-1.02 L-0.79,-1.09 Z" fill="#0000ff" stroke="#000" stroke-width="0.7"/>
<path transform="translate(476.6,361)" d="M0.00,-3.30 L0.79,-1.09 L3.14,-1.02 L1.28,0.42 L1.94,2.67 L0.00,1.35 L-1.94,2.67 L-1.28,0.42 L-3.14,-1.02 L-0.79,-1.09 Z" fill="#0000ff" stroke="#000" stroke-width="0.7"/>
<path transform="translate(435.6,304.7)" d="M0.00,-3.30 L0.79,-1.09 L3.14,-1.02 L1.28,0.42 L1.94,2.67 L0.00,1.35 L-1.94,2.67 L-1.28,0.42 L-3.14,-1.02 L-0.79,-1.09 Z" fill="#0000ff" stroke="#000" stroke-width="0.7"/>
<path transform="translate(431.2,314.6)" d="M0.00,-3.30 L0.79,-1.09 L3.14,-1.02 L1.28,0.42 L1.94,2.67 L0.00,1.35 L-1.94,2.67 L-1.28,0.42 L-3.14,-1.02 L-0.79,-1.09 Z" fill="#0000ff" stroke="#000" stroke-width="0.7"/>
<path transform="translate(408.7,318.2)" d="M0.00,-3.30 L0.79,-1.09 L3.14,-1.02 L1.28,0.42 L1.94,2.67 L0.00,1.35 L-1.94,2.67 L-1.28,0.42 L-3.14,-1.02 L-0.79,-1.09 Z" fill="#0000ff" stroke="#000" stroke-width="0.7"/>
<path transform="translate(457,276.2)" d="M0.00,-3.30 L0.79,-1.09 L3.14,-1.02 L1.28,0.42 L1.94,2.67 L0.00,1.35 L-1.94,2.67 L-1.28,0.42 L-3.14,-1.02 L-0.79,-1.09 Z" fill="#0000ff" stroke="#000" stroke-width="0.7"/>
<path transform="translate(448.3,280.2)" d="M0.00,-3.30 L0.79,-1.09 L3.14,-1.02 L1.28,0.42 L1.94,2.67 L0.00,1.35 L-1.94,2.67 L-1.28,0.42 L-3.14,-1.02 L-0.79,-1.09 Z" fill="#0000ff" stroke="#000" stroke-width="0.7"/>
<path transform="translate(465.6,280.2)" d="M0.00,-3.30 L0.79,-1.09 L3.14,-1.02 L1.28,0.42 L1.94,2.67 L0.00,1.35 L-1.94,2.67 L-1.28,0.42 L-3.14,-1.02 L-0.79,-1.09 Z" fill="#0000ff" stroke="#000" stroke-width="0.7"/>
<path transform="translate(471.2,280.7)" d="M0.00,-3.30 L0.79,-1.09 L3.14,-1.02 L1.28,0.42 L1.94,2.67 L0.00,1.35 L-1.94,2.67 L-1.28,0.42 L-3.14,-1.02 L-0.79,-1.09 Z" fill="#0000ff" stroke="#000" stroke-width="0.7"/>
<path transform="translate(477.9,272.6)" d="M0.00,-3.30 L0.79,-1.09 L3.14,-1.02 L1.28,0.42 L1.94,2.67 L0.00,1.35 L-1.94,2.67 L-1.28,0.42 L-3.14,-1.02 L-0.79,-1.09 Z" fill="#0000ff" stroke="#000" stroke-width="0.7"/>
<path transform="translate(443.2,284.3)" d="M0.00,-3.30 L0.79,-1.09 L3.14,-1.02 L1.28,0.42 L1.94,2.67 L0.00,1.35 L-1.94,2.67 L-1.28,0.42 L-3.14,-1.02 L-0.79,-1.09 Z" fill="#0000ff" stroke="#000" stroke-width="0.7"/>
<path transform="translate(456,283.8)" d="M0.00,-3.30 L0.79,-1.09 L3.14,-1.02 L1.28,0.42 L1.94,2.67 L0.00,1.35 L-1.94,2.67 L-1.28,0.42 L-3.14,-1.02 L-0.79,-1.09 Z" fill="#0000ff" stroke="#000" stroke-width="0.7"/>
<path transform="translate(443.3,333.2)" d="M0.00,-3.30 L0.79,-1.09 L3.14,-1.02 L1.28,0.42 L1.94,2.67 L0.00,1.35 L-1.94,2.67 L-1.28,0.42 L-3.14,-1.02 L-0.79,-1.09 Z" fill="#0000ff" stroke="#000" stroke-width="0.7"/>
<path transform="translate(419.5,343.9)" d="M0.00,-3.30 L0.79,-1.09 L3.14,-1.02 L1.28,0.42 L1.94,2.67 L0.00,1.35 L-1.94,2.67 L-1.28,0.42 L-3.14,-1.02 L-0.79,-1.09 Z" fill="#0000ff" stroke="#000" stroke-width="0.7"/>
<path transform="translate(413.2,347.7)" d="M0.00,-3.30 L0.79,-1.09 L3.14,-1.02 L1.28,0.42 L1.94,2.67 L0.00,1.35 L-1.94,2.67 L-1.28,0.42 L-3.14,-1.02 L-0.79,-1.09 Z" fill="#0000ff" stroke="#000" stroke-width="0.7"/>
<path transform="translate(415.6,349)" d="M0.00,-3.30 L0.79,-1.09 L3.14,-1.02 L1.28,0.42 L1.94,2.67 L0.00,1.35 L-1.94,2.67 L-1.28,0.42 L-3.14,-1.02 L-0.79,-1.09 Z" fill="#0000ff" stroke="#000" stroke-width="0.7"/>
<path transform="translate(437.7,342.7)" d="M0.00,-3.30 L0.79,-1.09 L3.14,-1.02 L1.28,0.42 L1.94,2.67 L0.00,1.35 L-1.94,2.67 L-1.28,0.42 L-3.14,-1.02 L-0.79,-1.09 Z" fill="#0000ff" stroke="#000" stroke-width="0.7"/>
<path transform="translate(440.1,347.4)" d="M0.00,-3.30 L0.79,-1.09 L3.14,-1.02 L1.28,0.42 L1.94,2.67 L0.00,1.35 L-1.94,2.67 L-1.28,0.42 L-3.14,-1.02 L-0.79,-1.09 Z" fill="#0000ff" stroke="#000" stroke-width="0.7"/>
<path transform="translate(436.1,351.4)" d="M0.00,-3.30 L0.79,-1.09 L3.14,-1.02 L1.28,0.42 L1.94,2.67 L0.00,1.35 L-1.94,2.67 L-1.28,0.42 L-3.14,-1.02 L-0.79,-1.09 Z" fill="#0000ff" stroke="#000" stroke-width="0.7"/>
<path transform="translate(420.3,359.3)" d="M0.00,-3.30 L0.79,-1.09 L3.14,-1.02 L1.28,0.42 L1.94,2.67 L0.00,1.35 L-1.94,2.67 L-1.28,0.42 L-3.14,-1.02 L-0.79,-1.09 Z" fill="#0000ff" stroke="#000" stroke-width="0.7"/>
<path transform="translate(423.2,361.3)" d="M0.00,-3.30 L0.79,-1.09 L3.14,-1.02 L1.28,0.42 L1.94,2.67 L0.00,1.35 L-1.94,2.67 L-1.28,0.42 L-3.14,-1.02 L-0.79,-1.09 Z" fill="#0000ff" stroke="#000" stroke-width="0.7"/>
<path transform="translate(438.5,358.5)" d="M0.00,-3.30 L0.79,-1.09 L3.14,-1.02 L1.28,0.42 L1.94,2.67 L0.00,1.35 L-1.94,2.67 L-1.28,0.42 L-3.14,-1.02 L-0.79,-1.09 Z" fill="#0000ff" stroke="#000" stroke-width="0.7"/>
<path transform="translate(442.5,359.3)" d="M0.00,-3.30 L0.79,-1.09 L3.14,-1.02 L1.28,0.42 L1.94,2.67 L0.00,1.35 L-1.94,2.67 L-1.28,0.42 L-3.14,-1.02 L-0.79,-1.09 Z" fill="#0000ff" stroke="#000" stroke-width="0.7"/>
<path transform="translate(436.9,365.6)" d="M0.00,-3.30 L0.79,-1.09 L3.14,-1.02 L1.28,0.42 L1.94,2.67 L0.00,1.35 L-1.94,2.67 L-1.28,0.42 L-3.14,-1.02 L-0.79,-1.09 Z" fill="#0000ff" stroke="#000" stroke-width="0.7"/>
<path transform="translate(426.6,371.9)" d="M0.00,-3.30 L0.79,-1.09 L3.14,-1.02 L1.28,0.42 L1.94,2.67 L0.00,1.35 L-1.94,2.67 L-1.28,0.42 L-3.14,-1.02 L-0.79,-1.09 Z" fill="#0000ff" stroke="#000" stroke-width="0.7"/>
<path transform="translate(442.5,375.1)" d="M0.00,-3.30 L0.79,-1.09 L3.14,-1.02 L1.28,0.42 L1.94,2.67 L0.00,1.35 L-1.94,2.67 L-1.28,0.42 L-3.14,-1.02 L-0.79,-1.09 Z" fill="#0000ff" stroke="#000" stroke-width="0.7"/>
<path transform="translate(412.4,394.1)" d="M0.00,-3.30 L0.79,-1.09 L3.14,-1.02 L1.28,0.42 L1.94,2.67 L0.00,1.35 L-1.94,2.67 L-1.28,0.42 L-3.14,-1.02 L-0.79,-1.09 Z" fill="#0000ff" stroke="#000" stroke-width="0.7"/>
<path transform="translate(433,391.7)" d="M0.00,-3.30 L0.79,-1.09 L3.14,-1.02 L1.28,0.42 L1.94,2.67 L0.00,1.35 L-1.94,2.67 L-1.28,0.42 L-3.14,-1.02 L-0.79,-1.09 Z" fill="#0000ff" stroke="#000" stroke-width="0.7"/>
<path transform="translate(440.9,390.9)" d="M0.00,-3.30 L0.79,-1.09 L3.14,-1.02 L1.28,0.42 L1.94,2.67 L0.00,1.35 L-1.94,2.67 L-1.28,0.42 L-3.14,-1.02 L-0.79,-1.09 Z" fill="#0000ff" stroke="#000" stroke-width="0.7"/>
<path transform="translate(442,359.6)" d="M0.00,-3.30 L0.79,-1.09 L3.14,-1.02 L1.28,0.42 L1.94,2.67 L0.00,1.35 L-1.94,2.67 L-1.28,0.42 L-3.14,-1.02 L-0.79,-1.09 Z" fill="#0000ff" stroke="#000" stroke-width="0.7"/>
<path transform="translate(447.1,357)" d="M0.00,-3.30 L0.79,-1.09 L3.14,-1.02 L1.28,0.42 L1.94,2.67 L0.00,1.35 L-1.94,2.67 L-1.28,0.42 L-3.14,-1.02 L-0.79,-1.09 Z" fill="#0000ff" stroke="#000" stroke-width="0.7"/>
<path transform="translate(452.7,356)" d="M0.00,-3.30 L0.79,-1.09 L3.14,-1.02 L1.28,0.42 L1.94,2.67 L0.00,1.35 L-1.94,2.67 L-1.28,0.42 L-3.14,-1.02 L-0.79,-1.09 Z" fill="#0000ff" stroke="#000" stroke-width="0.7"/>
<path transform="translate(457.3,358.6)" d="M0.00,-3.30 L0.79,-1.09 L3.14,-1.02 L1.28,0.42 L1.94,2.67 L0.00,1.35 L-1.94,2.67 L-1.28,0.42 L-3.14,-1.02 L-0.79,-1.09 Z" fill="#0000ff" stroke="#000" stroke-width="0.7"/>
<path transform="translate(453.2,361.1)" d="M0.00,-3.30 L0.79,-1.09 L3.14,-1.02 L1.28,0.42 L1.94,2.67 L0.00,1.35 L-1.94,2.67 L-1.28,0.42 L-3.14,-1.02 L-0.79,-1.09 Z" fill="#0000ff" stroke="#000" stroke-width="0.7"/>
<path transform="translate(459.9,361.1)" d="M0.00,-3.30 L0.79,-1.09 L3.14,-1.02 L1.28,0.42 L1.94,2.67 L0.00,1.35 L-1.94,2.67 L-1.28,0.42 L-3.14,-1.02 L-0.79,-1.09 Z" fill="#0000ff" stroke="#000" stroke-width="0.7"/>
<path transform="translate(467,359.6)" d="M0.00,-3.30 L0.79,-1.09 L3.14,-1.02 L1.28,0.42 L1.94,2.67 L0.00,1.35 L-1.94,2.67 L-1.28,0.42 L-3.14,-1.02 L-0.79,-1.09 Z" fill="#0000ff" stroke="#000" stroke-width="0.7"/>
<path transform="translate(470,360.6)" d="M0.00,-3.30 L0.79,-1.09 L3.14,-1.02 L1.28,0.42 L1.94,2.67 L0.00,1.35 L-1.94,2.67 L-1.28,0.42 L-3.14,-1.02 L-0.79,-1.09 Z" fill="#0000ff" stroke="#000" stroke-width="0.7"/>
<path transform="translate(476.7,361.1)" d="M0.00,-3.30 L0.79,-1.09 L3.14,-1.02 L1.28,0.42 L1.94,2.67 L0.00,1.35 L-1.94,2.67 L-1.28,0.42 L-3.14,-1.02 L-0.79,-1.09 Z" fill="#0000ff" stroke="#000" stroke-width="0.7"/>
<path transform="translate(481.8,358.1)" d="M0.00,-3.30 L0.79,-1.09 L3.14,-1.02 L1.28,0.42 L1.94,2.67 L0.00,1.35 L-1.94,2.67 L-1.28,0.42 L-3.14,-1.02 L-0.79,-1.09 Z" fill="#0000ff" stroke="#000" stroke-width="0.7"/>
<path transform="translate(456.8,365.2)" d="M0.00,-3.30 L0.79,-1.09 L3.14,-1.02 L1.28,0.42 L1.94,2.67 L0.00,1.35 L-1.94,2.67 L-1.28,0.42 L-3.14,-1.02 L-0.79,-1.09 Z" fill="#0000ff" stroke="#000" stroke-width="0.7"/>
<path transform="translate(464.4,367.2)" d="M0.00,-3.30 L0.79,-1.09 L3.14,-1.02 L1.28,0.42 L1.94,2.67 L0.00,1.35 L-1.94,2.67 L-1.28,0.42 L-3.14,-1.02 L-0.79,-1.09 Z" fill="#0000ff" stroke="#000" stroke-width="0.7"/>
<path transform="translate(452.2,367.7)" d="M0.00,-3.30 L0.79,-1.09 L3.14,-1.02 L1.28,0.42 L1.94,2.67 L0.00,1.35 L-1.94,2.67 L-1.28,0.42 L-3.14,-1.02 L-0.79,-1.09 Z" fill="#0000ff" stroke="#000" stroke-width="0.7"/>
<path transform="translate(460.4,369.3)" d="M0.00,-3.30 L0.79,-1.09 L3.14,-1.02 L1.28,0.42 L1.94,2.67 L0.00,1.35 L-1.94,2.67 L-1.28,0.42 L-3.14,-1.02 L-0.79,-1.09 Z" fill="#0000ff" stroke="#000" stroke-width="0.7"/>
<path transform="translate(453.2,371.3)" d="M0.00,-3.30 L0.79,-1.09 L3.14,-1.02 L1.28,0.42 L1.94,2.67 L0.00,1.35 L-1.94,2.67 L-1.28,0.42 L-3.14,-1.02 L-0.79,-1.09 Z" fill="#0000ff" stroke="#000" stroke-width="0.7"/>
<path transform="translate(470,371.3)" d="M0.00,-3.30 L0.79,-1.09 L3.14,-1.02 L1.28,0.42 L1.94,2.67 L0.00,1.35 L-1.94,2.67 L-1.28,0.42 L-3.14,-1.02 L-0.79,-1.09 Z" fill="#0000ff" stroke="#000" stroke-width="0.7"/>
<path transform="translate(446.6,372.8)" d="M0.00,-3.30 L0.79,-1.09 L3.14,-1.02 L1.28,0.42 L1.94,2.67 L0.00,1.35 L-1.94,2.67 L-1.28,0.42 L-3.14,-1.02 L-0.79,-1.09 Z" fill="#0000ff" stroke="#000" stroke-width="0.7"/>
<path transform="translate(443.1,374.9)" d="M0.00,-3.30 L0.79,-1.09 L3.14,-1.02 L1.28,0.42 L1.94,2.67 L0.00,1.35 L-1.94,2.67 L-1.28,0.42 L-3.14,-1.02 L-0.79,-1.09 Z" fill="#0000ff" stroke="#000" stroke-width="0.7"/>
<path transform="translate(460.9,374.9)" d="M0.00,-3.30 L0.79,-1.09 L3.14,-1.02 L1.28,0.42 L1.94,2.67 L0.00,1.35 L-1.94,2.67 L-1.28,0.42 L-3.14,-1.02 L-0.79,-1.09 Z" fill="#0000ff" stroke="#000" stroke-width="0.7"/>
<path transform="translate(452.7,376.4)" d="M0.00,-3.30 L0.79,-1.09 L3.14,-1.02 L1.28,0.42 L1.94,2.67 L0.00,1.35 L-1.94,2.67 L-1.28,0.42 L-3.14,-1.02 L-0.79,-1.09 Z" fill="#0000ff" stroke="#000" stroke-width="0.7"/>
<path transform="translate(458.3,378.9)" d="M0.00,-3.30 L0.79,-1.09 L3.14,-1.02 L1.28,0.42 L1.94,2.67 L0.00,1.35 L-1.94,2.67 L-1.28,0.42 L-3.14,-1.02 L-0.79,-1.09 Z" fill="#0000ff" stroke="#000" stroke-width="0.7"/>
<path transform="translate(470.5,377.9)" d="M0.00,-3.30 L0.79,-1.09 L3.14,-1.02 L1.28,0.42 L1.94,2.67 L0.00,1.35 L-1.94,2.67 L-1.28,0.42 L-3.14,-1.02 L-0.79,-1.09 Z" fill="#0000ff" stroke="#000" stroke-width="0.7"/>
<path transform="translate(463.4,382.5)" d="M0.00,-3.30 L0.79,-1.09 L3.14,-1.02 L1.28,0.42 L1.94,2.67 L0.00,1.35 L-1.94,2.67 L-1.28,0.42 L-3.14,-1.02 L-0.79,-1.09 Z" fill="#0000ff" stroke="#000" stroke-width="0.7"/>
<path transform="translate(456.8,386.6)" d="M0.00,-3.30 L0.79,-1.09 L3.14,-1.02 L1.28,0.42 L1.94,2.67 L0.00,1.35 L-1.94,2.67 L-1.28,0.42 L-3.14,-1.02 L-0.79,-1.09 Z" fill="#0000ff" stroke="#000" stroke-width="0.7"/>
<path transform="translate(442,391.2)" d="M0.00,-3.30 L0.79,-1.09 L3.14,-1.02 L1.28,0.42 L1.94,2.67 L0.00,1.35 L-1.94,2.67 L-1.28,0.42 L-3.14,-1.02 L-0.79,-1.09 Z" fill="#0000ff" stroke="#000" stroke-width="0.7"/>
<line x1="341.8" y1="397.8" x2="497.8" y2="310.05" stroke="#000" stroke-width="2.6"/>
<line x1="497.8" y1="310.05" x2="531.9" y2="290.87" stroke="#000" stroke-width="2.6" stroke-dasharray="6.5 4.9"/>
<path transform="translate(487,236.3)" d="M0.00,-3.30 L0.79,-1.09 L3.14,-1.02 L1.28,0.42 L1.94,2.67 L0.00,1.35 L-1.94,2.67 L-1.28,0.42 L-3.14,-1.02 L-0.79,-1.09 Z" fill="#0000ff" stroke="#000" stroke-width="0.7"/>
<rect x="54.2" y="9.5" width="212.20" height="179.80" fill="none" stroke="#444444" stroke-width="1.3"/>
<rect x="330.6" y="9.7" width="212.30" height="179.60" fill="none" stroke="#444444" stroke-width="1.3"/>
<rect x="54.0" y="226.0" width="212.40" height="180.30" fill="none" stroke="#444444" stroke-width="1.3"/>
<rect x="330.5" y="226.2" width="212.60" height="180.10" fill="none" stroke="#444444" stroke-width="1.3"/>
<line x1="51.60" y1="180.30" x2="54.20" y2="180.30" stroke="#444444" stroke-width="1.3"/>
<text x="49.20" y="183.90" font-size="10" text-anchor="end" textLength="19.2" lengthAdjust="spacingAndGlyphs" fill="#1a1a1a"  stroke="#1a1a1a" stroke-width="0.22">750</text>
<line x1="51.60" y1="155.20" x2="54.20" y2="155.20" stroke="#444444" stroke-width="1.3"/>
<text x="49.20" y="158.80" font-size="10" text-anchor="end" textLength="25.8" lengthAdjust="spacingAndGlyphs" fill="#1a1a1a"  stroke="#1a1a1a" stroke-width="0.22">1000</text>
<line x1="51.60" y1="130.10" x2="54.20" y2="130.10" stroke="#444444" stroke-width="1.3"/>
<text x="49.20" y="133.70" font-size="10" text-anchor="end" textLength="25.8" lengthAdjust="spacingAndGlyphs" fill="#1a1a1a"  stroke="#1a1a1a" stroke-width="0.22">1250</text>
<line x1="51.60" y1="105.00" x2="54.20" y2="105.00" stroke="#444444" stroke-width="1.3"/>
<text x="49.20" y="108.60" font-size="10" text-anchor="end" textLength="25.8" lengthAdjust="spacingAndGlyphs" fill="#1a1a1a"  stroke="#1a1a1a" stroke-width="0.22">1500</text>
<line x1="51.60" y1="79.90" x2="54.20" y2="79.90" stroke="#444444" stroke-width="1.3"/>
<text x="49.20" y="83.50" font-size="10" text-anchor="end" textLength="25.8" lengthAdjust="spacingAndGlyphs" fill="#1a1a1a"  stroke="#1a1a1a" stroke-width="0.22">1750</text>
<line x1="51.60" y1="54.80" x2="54.20" y2="54.80" stroke="#444444" stroke-width="1.3"/>
<text x="49.20" y="58.40" font-size="10" text-anchor="end" textLength="25.8" lengthAdjust="spacingAndGlyphs" fill="#1a1a1a"  stroke="#1a1a1a" stroke-width="0.22">2000</text>
<line x1="51.60" y1="29.70" x2="54.20" y2="29.70" stroke="#444444" stroke-width="1.3"/>
<text x="49.20" y="33.30" font-size="10" text-anchor="end" textLength="25.8" lengthAdjust="spacingAndGlyphs" fill="#1a1a1a"  stroke="#1a1a1a" stroke-width="0.22">2250</text>
<line x1="95.50" y1="189.30" x2="95.50" y2="191.90" stroke="#444444" stroke-width="1.3"/>
<text x="95.50" y="202.50" font-size="10" text-anchor="middle" textLength="25.8" lengthAdjust="spacingAndGlyphs" fill="#1a1a1a"  stroke="#1a1a1a" stroke-width="0.22">1000</text>
<line x1="154.55" y1="189.30" x2="154.55" y2="191.90" stroke="#444444" stroke-width="1.3"/>
<text x="154.55" y="202.50" font-size="10" text-anchor="middle" textLength="25.8" lengthAdjust="spacingAndGlyphs" fill="#1a1a1a"  stroke="#1a1a1a" stroke-width="0.22">1500</text>
<line x1="213.60" y1="189.30" x2="213.60" y2="191.90" stroke="#444444" stroke-width="1.3"/>
<text x="213.60" y="202.50" font-size="10" text-anchor="middle" textLength="25.8" lengthAdjust="spacingAndGlyphs" fill="#1a1a1a"  stroke="#1a1a1a" stroke-width="0.22">2000</text>
<line x1="328.00" y1="164.30" x2="330.60" y2="164.30" stroke="#444444" stroke-width="1.3"/>
<text x="325.60" y="167.90" font-size="10" text-anchor="end" textLength="19.2" lengthAdjust="spacingAndGlyphs" fill="#1a1a1a"  stroke="#1a1a1a" stroke-width="0.22">800</text>
<line x1="328.00" y1="130.05" x2="330.60" y2="130.05" stroke="#444444" stroke-width="1.3"/>
<text x="325.60" y="133.65" font-size="10" text-anchor="end" textLength="25.8" lengthAdjust="spacingAndGlyphs" fill="#1a1a1a"  stroke="#1a1a1a" stroke-width="0.22">1000</text>
<line x1="328.00" y1="95.80" x2="330.60" y2="95.80" stroke="#444444" stroke-width="1.3"/>
<text x="325.60" y="99.40" font-size="10" text-anchor="end" textLength="25.8" lengthAdjust="spacingAndGlyphs" fill="#1a1a1a"  stroke="#1a1a1a" stroke-width="0.22">1200</text>
<line x1="328.00" y1="61.55" x2="330.60" y2="61.55" stroke="#444444" stroke-width="1.3"/>
<text x="325.60" y="65.15" font-size="10" text-anchor="end" textLength="25.8" lengthAdjust="spacingAndGlyphs" fill="#1a1a1a"  stroke="#1a1a1a" stroke-width="0.22">1400</text>
<line x1="328.00" y1="27.30" x2="330.60" y2="27.30" stroke="#444444" stroke-width="1.3"/>
<text x="325.60" y="30.90" font-size="10" text-anchor="end" textLength="25.8" lengthAdjust="spacingAndGlyphs" fill="#1a1a1a"  stroke="#1a1a1a" stroke-width="0.22">1600</text>
<line x1="360.50" y1="189.30" x2="360.50" y2="191.90" stroke="#444444" stroke-width="1.3"/>
<text x="360.50" y="202.50" font-size="10" text-anchor="middle" textLength="19.2" lengthAdjust="spacingAndGlyphs" fill="#1a1a1a"  stroke="#1a1a1a" stroke-width="0.22">800</text>
<line x1="400.98" y1="189.30" x2="400.98" y2="191.90" stroke="#444444" stroke-width="1.3"/>
<text x="400.98" y="202.50" font-size="10" text-anchor="middle" textLength="25.8" lengthAdjust="spacingAndGlyphs" fill="#1a1a1a"  stroke="#1a1a1a" stroke-width="0.22">1000</text>
<line x1="441.46" y1="189.30" x2="441.46" y2="191.90" stroke="#444444" stroke-width="1.3"/>
<text x="441.46" y="202.50" font-size="10" text-anchor="middle" textLength="25.8" lengthAdjust="spacingAndGlyphs" fill="#1a1a1a"  stroke="#1a1a1a" stroke-width="0.22">1200</text>
<line x1="481.94" y1="189.30" x2="481.94" y2="191.90" stroke="#444444" stroke-width="1.3"/>
<text x="481.94" y="202.50" font-size="10" text-anchor="middle" textLength="25.8" lengthAdjust="spacingAndGlyphs" fill="#1a1a1a"  stroke="#1a1a1a" stroke-width="0.22">1400</text>
<line x1="522.42" y1="189.30" x2="522.42" y2="191.90" stroke="#444444" stroke-width="1.3"/>
<text x="522.42" y="202.50" font-size="10" text-anchor="middle" textLength="25.8" lengthAdjust="spacingAndGlyphs" fill="#1a1a1a"  stroke="#1a1a1a" stroke-width="0.22">1600</text>
<line x1="51.40" y1="391.05" x2="54.00" y2="391.05" stroke="#444444" stroke-width="1.3"/>
<text x="49.00" y="394.65" font-size="10" text-anchor="end" textLength="25.8" lengthAdjust="spacingAndGlyphs" fill="#1a1a1a"  stroke="#1a1a1a" stroke-width="0.22">−200</text>
<line x1="51.40" y1="366.68" x2="54.00" y2="366.68" stroke="#444444" stroke-width="1.3"/>
<text x="49.00" y="370.28" font-size="10" text-anchor="end" textLength="25.8" lengthAdjust="spacingAndGlyphs" fill="#1a1a1a"  stroke="#1a1a1a" stroke-width="0.22">−100</text>
<line x1="51.40" y1="342.30" x2="54.00" y2="342.30" stroke="#444444" stroke-width="1.3"/>
<text x="49.00" y="345.90" font-size="10" text-anchor="end" textLength="6.4" lengthAdjust="spacingAndGlyphs" fill="#1a1a1a"  stroke="#1a1a1a" stroke-width="0.22">0</text>
<line x1="51.40" y1="317.93" x2="54.00" y2="317.93" stroke="#444444" stroke-width="1.3"/>
<text x="49.00" y="321.53" font-size="10" text-anchor="end" textLength="19.2" lengthAdjust="spacingAndGlyphs" fill="#1a1a1a"  stroke="#1a1a1a" stroke-width="0.22">100</text>
<line x1="51.40" y1="293.55" x2="54.00" y2="293.55" stroke="#444444" stroke-width="1.3"/>
<text x="49.00" y="297.15" font-size="10" text-anchor="end" textLength="19.2" lengthAdjust="spacingAndGlyphs" fill="#1a1a1a"  stroke="#1a1a1a" stroke-width="0.22">200</text>
<line x1="51.40" y1="269.18" x2="54.00" y2="269.18" stroke="#444444" stroke-width="1.3"/>
<text x="49.00" y="272.78" font-size="10" text-anchor="end" textLength="19.2" lengthAdjust="spacingAndGlyphs" fill="#1a1a1a"  stroke="#1a1a1a" stroke-width="0.22">300</text>
<line x1="51.40" y1="244.80" x2="54.00" y2="244.80" stroke="#444444" stroke-width="1.3"/>
<text x="49.00" y="248.40" font-size="10" text-anchor="end" textLength="19.2" lengthAdjust="spacingAndGlyphs" fill="#1a1a1a"  stroke="#1a1a1a" stroke-width="0.22">400</text>
<line x1="64.30" y1="406.30" x2="64.30" y2="408.90" stroke="#444444" stroke-width="1.3"/>
<text x="64.30" y="419.50" font-size="10" text-anchor="middle" textLength="6.4" lengthAdjust="spacingAndGlyphs" fill="#1a1a1a"  stroke="#1a1a1a" stroke-width="0.22">0</text>
<line x1="135.00" y1="406.30" x2="135.00" y2="408.90" stroke="#444444" stroke-width="1.3"/>
<text x="135.00" y="419.50" font-size="10" text-anchor="middle" textLength="19.2" lengthAdjust="spacingAndGlyphs" fill="#1a1a1a"  stroke="#1a1a1a" stroke-width="0.22">200</text>
<line x1="205.70" y1="406.30" x2="205.70" y2="408.90" stroke="#444444" stroke-width="1.3"/>
<text x="205.70" y="419.50" font-size="10" text-anchor="middle" textLength="19.2" lengthAdjust="spacingAndGlyphs" fill="#1a1a1a"  stroke="#1a1a1a" stroke-width="0.22">400</text>
<line x1="327.90" y1="389.70" x2="330.50" y2="389.70" stroke="#444444" stroke-width="1.3"/>
<text x="325.50" y="393.30" font-size="10" text-anchor="end" textLength="25.8" lengthAdjust="spacingAndGlyphs" fill="#1a1a1a"  stroke="#1a1a1a" stroke-width="0.22">−200</text>
<line x1="327.90" y1="365.50" x2="330.50" y2="365.50" stroke="#444444" stroke-width="1.3"/>
<text x="325.50" y="369.10" font-size="10" text-anchor="end" textLength="25.8" lengthAdjust="spacingAndGlyphs" fill="#1a1a1a"  stroke="#1a1a1a" stroke-width="0.22">−100</text>
<line x1="327.90" y1="341.30" x2="330.50" y2="341.30" stroke="#444444" stroke-width="1.3"/>
<text x="325.50" y="344.90" font-size="10" text-anchor="end" textLength="6.4" lengthAdjust="spacingAndGlyphs" fill="#1a1a1a"  stroke="#1a1a1a" stroke-width="0.22">0</text>
<line x1="327.90" y1="317.10" x2="330.50" y2="317.10" stroke="#444444" stroke-width="1.3"/>
<text x="325.50" y="320.70" font-size="10" text-anchor="end" textLength="19.2" lengthAdjust="spacingAndGlyphs" fill="#1a1a1a"  stroke="#1a1a1a" stroke-width="0.22">100</text>
<line x1="327.90" y1="292.90" x2="330.50" y2="292.90" stroke="#444444" stroke-width="1.3"/>
<text x="325.50" y="296.50" font-size="10" text-anchor="end" textLength="19.2" lengthAdjust="spacingAndGlyphs" fill="#1a1a1a"  stroke="#1a1a1a" stroke-width="0.22">200</text>
<line x1="327.90" y1="268.70" x2="330.50" y2="268.70" stroke="#444444" stroke-width="1.3"/>
<text x="325.50" y="272.30" font-size="10" text-anchor="end" textLength="19.2" lengthAdjust="spacingAndGlyphs" fill="#1a1a1a"  stroke="#1a1a1a" stroke-width="0.22">300</text>
<line x1="327.90" y1="244.50" x2="330.50" y2="244.50" stroke="#444444" stroke-width="1.3"/>
<text x="325.50" y="248.10" font-size="10" text-anchor="end" textLength="19.2" lengthAdjust="spacingAndGlyphs" fill="#1a1a1a"  stroke="#1a1a1a" stroke-width="0.22">400</text>
<line x1="354.62" y1="406.30" x2="354.62" y2="408.90" stroke="#444444" stroke-width="1.3"/>
<text x="354.62" y="419.50" font-size="10" text-anchor="middle" textLength="25.8" lengthAdjust="spacingAndGlyphs" fill="#1a1a1a"  stroke="#1a1a1a" stroke-width="0.22">−400</text>
<line x1="403.58" y1="406.30" x2="403.58" y2="408.90" stroke="#444444" stroke-width="1.3"/>
<text x="403.58" y="419.50" font-size="10" text-anchor="middle" textLength="25.8" lengthAdjust="spacingAndGlyphs" fill="#1a1a1a"  stroke="#1a1a1a" stroke-width="0.22">−200</text>
<line x1="452.55" y1="406.30" x2="452.55" y2="408.90" stroke="#444444" stroke-width="1.3"/>
<text x="452.55" y="419.50" font-size="10" text-anchor="middle" textLength="6.4" lengthAdjust="spacingAndGlyphs" fill="#1a1a1a"  stroke="#1a1a1a" stroke-width="0.22">0</text>
<line x1="501.52" y1="406.30" x2="501.52" y2="408.90" stroke="#444444" stroke-width="1.3"/>
<text x="501.52" y="419.50" font-size="10" text-anchor="middle" textLength="19.2" lengthAdjust="spacingAndGlyphs" fill="#1a1a1a"  stroke="#1a1a1a" stroke-width="0.22">200</text>
<text x="159.90" y="215.30" font-size="10.2" text-anchor="middle" textLength="132" lengthAdjust="spacingAndGlyphs" fill="#1a1a1a"  stroke="#1a1a1a" stroke-width="0.22">Precipitation: GHCN (mm)</text>
<text x="436.10" y="215.30" font-size="10.2" text-anchor="middle" textLength="132" lengthAdjust="spacingAndGlyphs" fill="#1a1a1a"  stroke="#1a1a1a" stroke-width="0.22">Precipitation: GHCN (mm)</text>
<text x="160.20" y="432.60" font-size="10.2" text-anchor="middle" textLength="130.2" lengthAdjust="spacingAndGlyphs" fill="#1a1a1a"  stroke="#1a1a1a" stroke-width="0.22">Distance from Coast (km)</text>
<text x="436.60" y="432.60" font-size="10.2" text-anchor="middle" textLength="123.2" lengthAdjust="spacingAndGlyphs" fill="#1a1a1a"  stroke="#1a1a1a" stroke-width="0.22">Elevation Difference (m)</text>
<text x="0.00" y="0.00" font-size="10.2" text-anchor="middle" textLength="131.2" lengthAdjust="spacingAndGlyphs" fill="#1a1a1a" transform="translate(17.3,99.9) rotate(-90)" stroke="#1a1a1a" stroke-width="0.22">Precipitation: ERA5 (mm)</text>
<text x="0.00" y="0.00" font-size="10.2" text-anchor="middle" textLength="131.2" lengthAdjust="spacingAndGlyphs" fill="#1a1a1a" transform="translate(294.1,99.9) rotate(-90)" stroke="#1a1a1a" stroke-width="0.22">Precipitation: ERA5 (mm)</text>
<text x="0.00" y="0.00" font-size="10.2" text-anchor="middle" textLength="150.7" lengthAdjust="spacingAndGlyphs" fill="#1a1a1a" transform="translate(14.9,316.75) rotate(-90)" stroke="#1a1a1a" stroke-width="0.22">Precipitation Difference (mm)</text>
<text x="0.00" y="0.00" font-size="10.2" text-anchor="middle" textLength="150.3" lengthAdjust="spacingAndGlyphs" fill="#1a1a1a" transform="translate(291.5,316.75) rotate(-90)" stroke="#1a1a1a" stroke-width="0.22">Precipitation Difference (mm)</text>
<text x="196.00" y="21.70" font-size="9.3" text-anchor="start" font-weight="bold" textLength="40.7" lengthAdjust="spacingAndGlyphs" fill="#000" stroke="#000" stroke-width="0.3">N = 211</text>
<text x="484.80" y="20.70" font-size="9.3" text-anchor="start" font-weight="bold" textLength="41.2" lengthAdjust="spacingAndGlyphs" fill="#000" stroke="#000" stroke-width="0.3">N = 209</text>
<text x="223.50" y="239.00" font-size="9.3" text-anchor="start" font-weight="bold" textLength="41.0" lengthAdjust="spacingAndGlyphs" fill="#000" stroke="#000" stroke-width="0.3">N = 209</text>
<text x="499.80" y="238.80" font-size="9.3" text-anchor="start" font-weight="bold" textLength="40.7" lengthAdjust="spacingAndGlyphs" fill="#000" stroke="#000" stroke-width="0.3">N = 209</text>
<text x="79.00" y="180.40" font-size="9.2" text-anchor="start" textLength="184.5" lengthAdjust="spacingAndGlyphs" fill="#1a1a1a" stroke="#1a1a1a" stroke-width="0.05">y = 0.66(±0.27)x + 421(±294); <tspan font-style="italic">R</tspan><tspan dy="-3.2" font-size="6.6">2</tspan><tspan dy="3.2"> = 0.23</tspan></text>
<text x="353.10" y="175.80" font-size="9.2" text-anchor="start" textLength="184.9" lengthAdjust="spacingAndGlyphs" fill="#1a1a1a" stroke="#1a1a1a" stroke-width="0.05">y = 0.84(±0.11)x + 226(±117); <tspan font-style="italic">R</tspan><tspan dy="-3.2" font-size="6.6">2</tspan><tspan dy="3.2"> = 0.23</tspan></text>
<text x="65.00" y="258.20" font-size="9.2" text-anchor="start" textLength="176.5" lengthAdjust="spacingAndGlyphs" fill="#1a1a1a" stroke="#1a1a1a" stroke-width="0.05">y = 0.62(±0.04)x + −76(±11); <tspan font-style="italic">R</tspan><tspan dy="-3.2" font-size="6.6">2</tspan><tspan dy="3.2"> = 0.51</tspan></text>
<text x="355.40" y="254.80" font-size="9.2" text-anchor="start" textLength="168.4" lengthAdjust="spacingAndGlyphs" fill="#1a1a1a" stroke="#1a1a1a" stroke-width="0.05">y = 0.57(±0.08)x + 22(±9); <tspan font-style="italic">R</tspan><tspan dy="-3.2" font-size="6.6">2</tspan><tspan dy="3.2"> = 0.20</tspan></text>
<rect x="54.2" y="9.5" width="19.5" height="18.8" fill="#fff" stroke="#222" stroke-width="1.2"/>
<text x="57.90" y="22.10" font-size="13.6" text-anchor="start" font-weight="bold" fill="#000" stroke="#000" stroke-width="0.45">a.</text>
<rect x="330.6" y="9.7" width="21.0" height="18.8" fill="#fff" stroke="#222" stroke-width="1.2"/>
<text x="334.30" y="22.30" font-size="13.6" text-anchor="start" font-weight="bold" fill="#000" stroke="#000" stroke-width="0.45">b.</text>
<rect x="54.0" y="226.0" width="18.4" height="18.8" fill="#fff" stroke="#222" stroke-width="1.2"/>
<text x="57.70" y="238.60" font-size="13.6" text-anchor="start" font-weight="bold" fill="#000" stroke="#000" stroke-width="0.45">c.</text>
<rect x="330.5" y="226.2" width="20.0" height="18.8" fill="#fff" stroke="#222" stroke-width="1.2"/>
<text x="334.20" y="238.80" font-size="13.6" text-anchor="start" font-weight="bold" fill="#000" stroke="#000" stroke-width="0.45">d.</text>
</g></svg>
</body></html>
